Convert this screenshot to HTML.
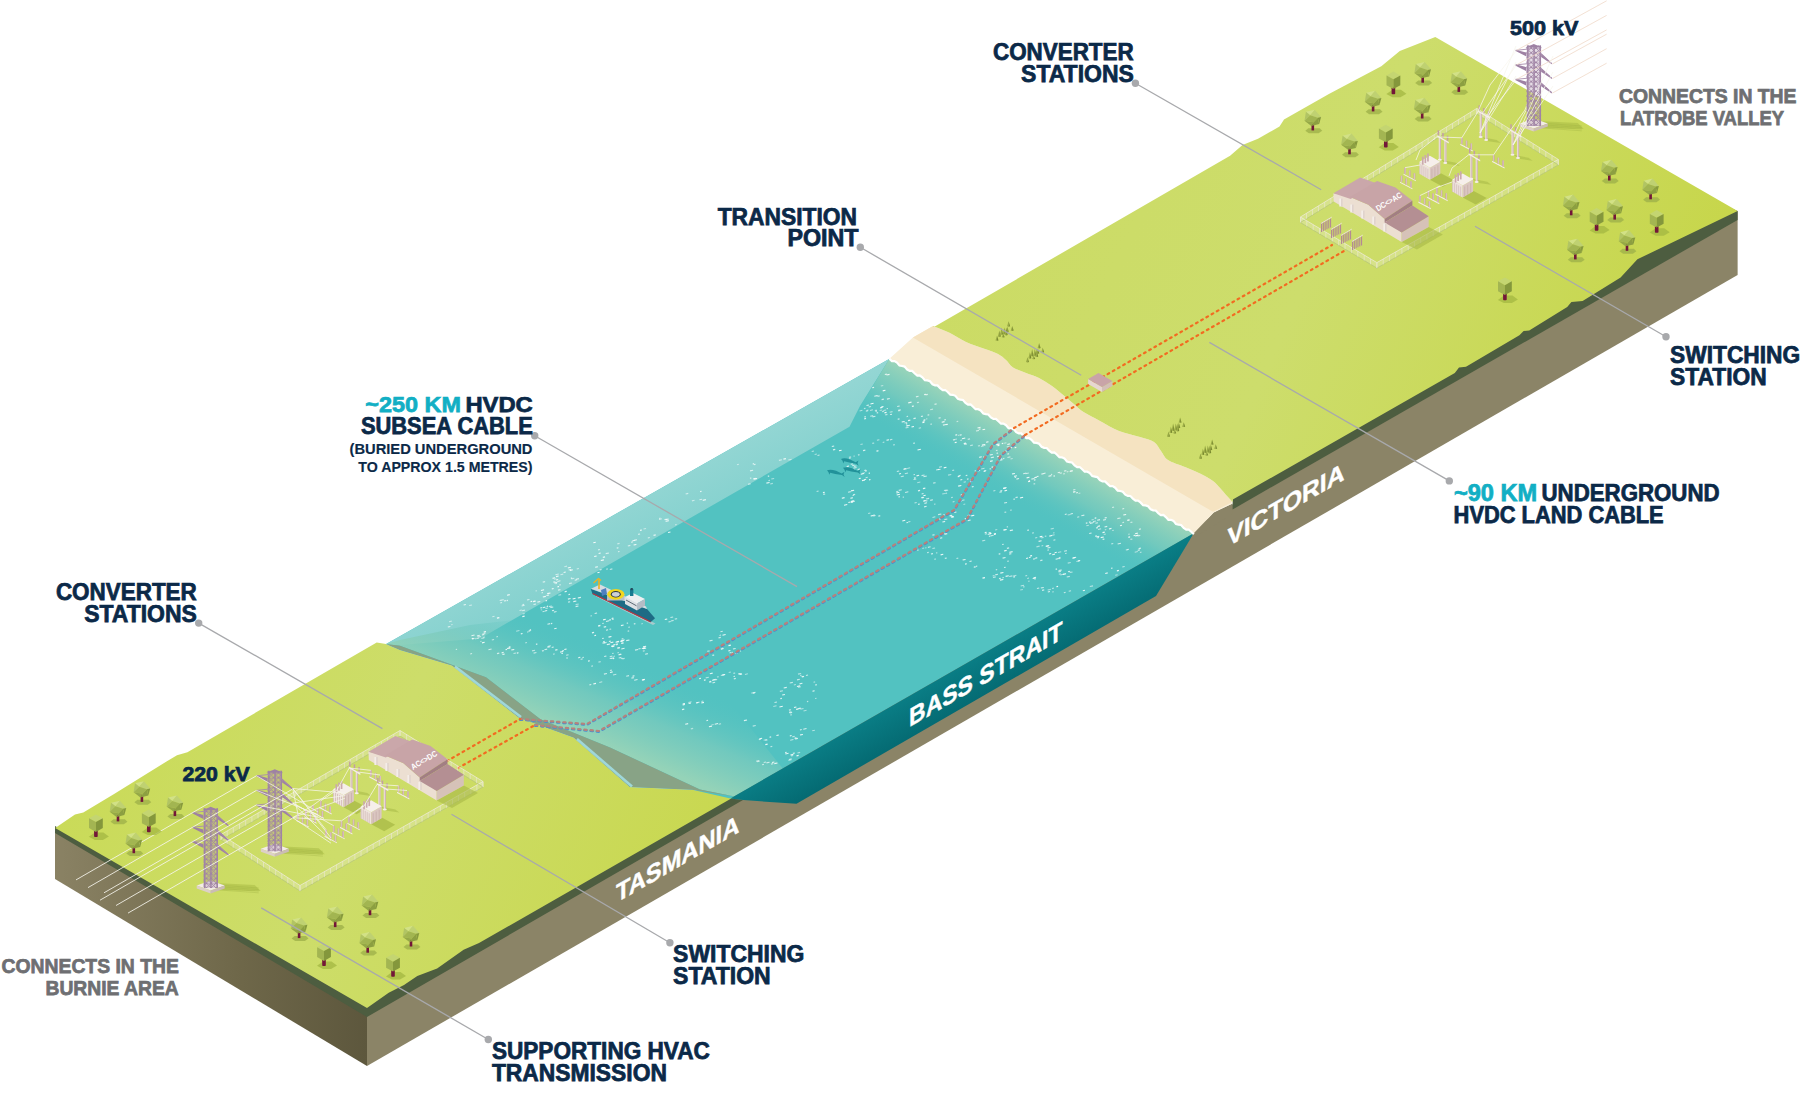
<!DOCTYPE html><html><head><meta charset="utf-8"><style>
html,body{margin:0;padding:0;background:#fff;width:1815px;height:1105px;overflow:hidden}
svg{display:block}
text{font-family:"Liberation Sans",sans-serif;font-weight:bold}
.lab text{paint-order:stroke}
</style></head><body>
<svg width="1815" height="1105" viewBox="0 0 1815 1105"><defs>
<linearGradient id="gLeft" x1="0" y1="0" x2="1" y2="0">
 <stop offset="0" stop-color="#8a8264"/><stop offset="0.6" stop-color="#6e6749"/><stop offset="1" stop-color="#5d573d"/></linearGradient>
<linearGradient id="gGrassT" gradientUnits="userSpaceOnUse" x1="60" y1="700" x2="700" y2="1000">
 <stop offset="0" stop-color="#c9da55"/><stop offset="0.45" stop-color="#cddd6a"/><stop offset="1" stop-color="#c8d74c"/></linearGradient>
<linearGradient id="gGrassV" gradientUnits="userSpaceOnUse" x1="950" y1="200" x2="1600" y2="500">
 <stop offset="0" stop-color="#cbdb64"/><stop offset="0.5" stop-color="#cddd6c"/><stop offset="1" stop-color="#c7d64b"/></linearGradient>
<linearGradient id="gTeal" gradientUnits="userSpaceOnUse" x1="960" y1="665" x2="982" y2="704">
 <stop offset="0" stop-color="#0a7e86"/><stop offset="1" stop-color="#046870"/></linearGradient>
<linearGradient id="gShoreV" gradientUnits="userSpaceOnUse" x1="1041.6" y1="446" x2="1010" y2="501">
 <stop offset="0" stop-color="#9ad4b9"/><stop offset="0.45" stop-color="#80ccbc" stop-opacity="0.7"/><stop offset="1" stop-color="#52c2c1" stop-opacity="0"/></linearGradient>
<linearGradient id="gShoreT" gradientUnits="userSpaceOnUse" x1="565" y1="728" x2="600" y2="645">
 <stop offset="0" stop-color="#95d3b8"/><stop offset="0.45" stop-color="#7ccbbd" stop-opacity="0.75"/><stop offset="1" stop-color="#52c2c1" stop-opacity="0"/></linearGradient>
<linearGradient id="gBack" gradientUnits="userSpaceOnUse" x1="600" y1="480" x2="660" y2="600">
 <stop offset="0" stop-color="#a6dcd9"/><stop offset="1" stop-color="#7fcfcc"/></linearGradient>
<pattern id="lattice" width="4.8" height="4.8" patternUnits="userSpaceOnUse">
 <path d="M0,0 L4.8,4.8 M4.8,0 L0,4.8 M0,0 H4.8" stroke="#9b7ea0" stroke-width="0.9" fill="none"/></pattern>
</defs><polygon points="55.0,828.0 367.0,1008.0 367.0,1066.0 55.0,879.0" fill="url(#gLeft)" />
<polygon points="367.0,1008.0 1737.6,211.0 1737.6,275.0 367.0,1066.0" fill="#8b8467" />
<polygon points="55.0,826.0 367.0,1000.0 730.4,785.0 730.4,798.4 743.0,800.1 367.0,1016.9 55.0,833.0" fill="#4d5d40" />
<polygon points="55.2,828.1 75.0,814.6 83.3,812.5 114.5,793.8 166.5,761.5 177.0,755.3 187.4,752.2 376.7,642.5 386.0,644.0 400.0,649.9 452.0,665.6 519.0,717.7 573.6,737.5 629.8,787.1 692.3,789.7 734.7,796.5 734.7,796.5 479.0,943.1 463.6,949.7 437.1,968.4 417.3,976.1 404.0,985.0 388.7,992.7 367.0,1008.0" fill="url(#gGrassT)" />
<polygon points="386.0,644.0 889.4,358.8 1193.8,533.3 730.4,798.4 692.3,789.7 629.8,787.1 573.6,737.5 519.0,717.7 452.0,665.6 400.0,649.9" fill="#52c2c1" />
<clipPath id="cw"><polygon points="386.0,644.0 889.4,358.8 1193.8,533.3 730.4,798.4 692.3,789.7 629.8,787.1 573.6,737.5 519.0,717.7 452.0,665.6 400.0,649.9"/></clipPath>
<g clip-path="url(#cw)">
<polygon points="386.0,644.0 889.4,358.8 860.0,406.0 849.5,426.7 480.3,638.4 400.0,645.0" fill="url(#gBack)" opacity="0.85"/>
<polygon points="889.4,358.8 1193.8,533.3 1150.0,610.0 840.0,440.0" fill="url(#gShoreV)" />
<polygon points="386.0,644.0 400.0,645.8 486.0,677.2 540.5,719.3 610.0,747.4 700.0,789.6 734.7,796.5 800.0,790.0 720.0,690.0 560.0,615.0 470.0,625.0 400.0,640.0" fill="url(#gShoreT)" />
</g>
<polygon points="386.0,644.0 400.0,645.8 486.0,677.2 540.5,719.3 610.0,747.4 700.0,789.6 734.7,796.5 734.7,796.5 692.3,789.7 629.8,787.1 573.6,737.5 519.0,717.7 452.0,665.6 400.0,649.9 386.0,644.0" fill="#88a386" />
<polyline points="455.0,666.5 521.0,717.0" stroke="#9fd7d9" stroke-width="2.6" fill="none"/>
<polyline points="577.0,739.0 632.0,786.5" stroke="#9fd7d9" stroke-width="2.6" fill="none"/>
<g clip-path="url(#cw)">
<rect x="1088.6" y="624.6" width="2.2" height="1.1" fill="#ffffff" opacity="0.79" transform="rotate(-12 1088.6 624.6)"/><rect x="1089.3" y="620.6" width="1.4" height="1.1" fill="#ffffff" opacity="0.88" transform="rotate(-12 1089.3 620.6)"/><rect x="1002.5" y="557.6" width="3.0" height="1.1" fill="#ffffff" opacity="0.77" transform="rotate(-12 1002.5 557.6)"/><rect x="1007.3" y="560.8" width="1.3" height="1.1" fill="#ffffff" opacity="0.79" transform="rotate(-12 1007.3 560.8)"/><rect x="1132.4" y="646.8" width="2.4" height="1.1" fill="#ffffff" opacity="0.84" transform="rotate(-12 1132.4 646.8)"/><rect x="1130.4" y="646.4" width="2.0" height="1.1" fill="#ffffff" opacity="0.80" transform="rotate(-12 1130.4 646.4)"/><rect x="1125.4" y="641.5" width="3.2" height="1.1" fill="#ffffff" opacity="0.69" transform="rotate(-12 1125.4 641.5)"/><rect x="851.8" y="501.4" width="3.1" height="1.1" fill="#ffffff" opacity="0.55" transform="rotate(-12 851.8 501.4)"/><rect x="841.7" y="497.7" width="2.8" height="1.1" fill="#ffffff" opacity="0.92" transform="rotate(-12 841.7 497.7)"/><rect x="1000.2" y="572.6" width="3.2" height="1.1" fill="#ffffff" opacity="0.88" transform="rotate(-12 1000.2 572.6)"/><rect x="995.7" y="569.3" width="1.4" height="1.1" fill="#ffffff" opacity="0.61" transform="rotate(-12 995.7 569.3)"/><rect x="1003.9" y="567.0" width="1.7" height="1.1" fill="#ffffff" opacity="0.75" transform="rotate(-12 1003.9 567.0)"/><rect x="933.9" y="503.7" width="1.5" height="1.1" fill="#ffffff" opacity="0.57" transform="rotate(-12 933.9 503.7)"/><rect x="930.1" y="499.8" width="2.8" height="1.1" fill="#ffffff" opacity="0.71" transform="rotate(-12 930.1 499.8)"/><rect x="924.0" y="506.3" width="2.6" height="1.1" fill="#ffffff" opacity="0.76" transform="rotate(-12 924.0 506.3)"/><rect x="925.7" y="500.6" width="1.8" height="1.1" fill="#ffffff" opacity="0.51" transform="rotate(-12 925.7 500.6)"/><rect x="1064.6" y="622.0" width="3.3" height="1.1" fill="#ffffff" opacity="0.76" transform="rotate(-12 1064.6 622.0)"/><rect x="1060.1" y="619.6" width="2.5" height="1.1" fill="#ffffff" opacity="0.93" transform="rotate(-12 1060.1 619.6)"/><rect x="1072.7" y="619.2" width="3.0" height="1.1" fill="#ffffff" opacity="0.90" transform="rotate(-12 1072.7 619.2)"/><rect x="1063.4" y="614.5" width="2.4" height="1.1" fill="#ffffff" opacity="0.75" transform="rotate(-12 1063.4 614.5)"/><rect x="1062.4" y="619.4" width="3.1" height="1.1" fill="#ffffff" opacity="0.76" transform="rotate(-12 1062.4 619.4)"/><rect x="1065.8" y="621.9" width="2.3" height="1.1" fill="#ffffff" opacity="0.66" transform="rotate(-12 1065.8 621.9)"/><rect x="1046.5" y="545.6" width="2.6" height="1.1" fill="#ffffff" opacity="0.86" transform="rotate(-12 1046.5 545.6)"/><rect x="1041.4" y="545.4" width="1.7" height="1.1" fill="#ffffff" opacity="0.54" transform="rotate(-12 1041.4 545.4)"/><rect x="1036.3" y="546.3" width="3.3" height="1.1" fill="#ffffff" opacity="0.51" transform="rotate(-12 1036.3 546.3)"/><rect x="1047.3" y="547.5" width="3.1" height="1.1" fill="#ffffff" opacity="0.70" transform="rotate(-12 1047.3 547.5)"/><rect x="1045.6" y="545.8" width="1.9" height="1.1" fill="#ffffff" opacity="0.86" transform="rotate(-12 1045.6 545.8)"/><rect x="1047.2" y="549.7" width="1.7" height="1.1" fill="#ffffff" opacity="0.61" transform="rotate(-12 1047.2 549.7)"/><rect x="848.8" y="456.8" width="2.3" height="1.1" fill="#ffffff" opacity="0.51" transform="rotate(-12 848.8 456.8)"/><rect x="849.0" y="457.9" width="1.7" height="1.1" fill="#ffffff" opacity="0.55" transform="rotate(-12 849.0 457.9)"/><rect x="857.8" y="454.5" width="1.7" height="1.1" fill="#ffffff" opacity="0.77" transform="rotate(-12 857.8 454.5)"/><rect x="853.4" y="455.7" width="1.3" height="1.1" fill="#ffffff" opacity="0.57" transform="rotate(-12 853.4 455.7)"/><rect x="955.3" y="434.6" width="1.8" height="1.1" fill="#ffffff" opacity="0.94" transform="rotate(-12 955.3 434.6)"/><rect x="959.8" y="434.6" width="1.8" height="1.1" fill="#ffffff" opacity="0.79" transform="rotate(-12 959.8 434.6)"/><rect x="952.8" y="439.5" width="2.0" height="1.1" fill="#ffffff" opacity="0.78" transform="rotate(-12 952.8 439.5)"/><rect x="961.9" y="438.2" width="3.3" height="1.1" fill="#ffffff" opacity="0.89" transform="rotate(-12 961.9 438.2)"/><rect x="954.6" y="442.1" width="2.0" height="1.1" fill="#ffffff" opacity="0.92" transform="rotate(-12 954.6 442.1)"/><rect x="957.8" y="434.9" width="1.8" height="1.1" fill="#ffffff" opacity="0.50" transform="rotate(-12 957.8 434.9)"/><rect x="924.1" y="394.1" width="1.7" height="1.1" fill="#ffffff" opacity="0.89" transform="rotate(-12 924.1 394.1)"/><rect x="925.4" y="394.3" width="2.4" height="1.1" fill="#ffffff" opacity="0.67" transform="rotate(-12 925.4 394.3)"/><rect x="915.8" y="396.3" width="2.7" height="1.1" fill="#ffffff" opacity="0.69" transform="rotate(-12 915.8 396.3)"/><rect x="1119.9" y="525.2" width="2.0" height="1.1" fill="#ffffff" opacity="0.89" transform="rotate(-12 1119.9 525.2)"/><rect x="1122.3" y="522.1" width="1.7" height="1.1" fill="#ffffff" opacity="0.65" transform="rotate(-12 1122.3 522.1)"/><rect x="1130.3" y="522.0" width="2.0" height="1.1" fill="#ffffff" opacity="0.60" transform="rotate(-12 1130.3 522.0)"/><rect x="1117.2" y="518.1" width="3.3" height="1.1" fill="#ffffff" opacity="0.65" transform="rotate(-12 1117.2 518.1)"/><rect x="1127.2" y="519.8" width="2.3" height="1.1" fill="#ffffff" opacity="0.94" transform="rotate(-12 1127.2 519.8)"/><rect x="1068.6" y="590.7" width="2.4" height="1.1" fill="#ffffff" opacity="0.62" transform="rotate(-12 1068.6 590.7)"/><rect x="1063.7" y="592.2" width="1.8" height="1.1" fill="#ffffff" opacity="0.65" transform="rotate(-12 1063.7 592.2)"/><rect x="1138.5" y="548.1" width="2.3" height="1.1" fill="#ffffff" opacity="0.76" transform="rotate(-12 1138.5 548.1)"/><rect x="1137.6" y="549.8" width="2.2" height="1.1" fill="#ffffff" opacity="0.67" transform="rotate(-12 1137.6 549.8)"/><rect x="1139.8" y="551.9" width="1.6" height="1.1" fill="#ffffff" opacity="0.55" transform="rotate(-12 1139.8 551.9)"/><rect x="1127.3" y="549.0" width="1.5" height="1.1" fill="#ffffff" opacity="0.75" transform="rotate(-12 1127.3 549.0)"/><rect x="1125.7" y="549.5" width="2.1" height="1.1" fill="#ffffff" opacity="0.63" transform="rotate(-12 1125.7 549.5)"/><rect x="1134.6" y="551.7" width="3.2" height="1.1" fill="#ffffff" opacity="0.55" transform="rotate(-12 1134.6 551.7)"/><rect x="1152.6" y="570.2" width="1.5" height="1.1" fill="#ffffff" opacity="0.90" transform="rotate(-12 1152.6 570.2)"/><rect x="1157.2" y="571.6" width="3.4" height="1.1" fill="#ffffff" opacity="0.69" transform="rotate(-12 1157.2 571.6)"/><rect x="1155.9" y="572.1" width="1.8" height="1.1" fill="#ffffff" opacity="0.83" transform="rotate(-12 1155.9 572.1)"/><rect x="1162.4" y="574.4" width="2.1" height="1.1" fill="#ffffff" opacity="0.94" transform="rotate(-12 1162.4 574.4)"/><rect x="1157.1" y="570.0" width="1.8" height="1.1" fill="#ffffff" opacity="0.71" transform="rotate(-12 1157.1 570.0)"/><rect x="1159.5" y="573.3" width="1.4" height="1.1" fill="#ffffff" opacity="0.50" transform="rotate(-12 1159.5 573.3)"/><rect x="866.3" y="409.9" width="2.1" height="1.1" fill="#ffffff" opacity="0.53" transform="rotate(-12 866.3 409.9)"/><rect x="865.7" y="410.7" width="2.3" height="1.1" fill="#ffffff" opacity="0.61" transform="rotate(-12 865.7 410.7)"/><rect x="870.3" y="403.4" width="3.2" height="1.1" fill="#ffffff" opacity="0.89" transform="rotate(-12 870.3 403.4)"/><rect x="863.8" y="408.1" width="1.7" height="1.1" fill="#ffffff" opacity="0.59" transform="rotate(-12 863.8 408.1)"/><rect x="869.9" y="409.9" width="3.0" height="1.1" fill="#ffffff" opacity="0.54" transform="rotate(-12 869.9 409.9)"/><rect x="868.5" y="406.5" width="2.5" height="1.1" fill="#ffffff" opacity="0.65" transform="rotate(-12 868.5 406.5)"/><rect x="1050.2" y="621.7" width="3.1" height="1.1" fill="#ffffff" opacity="0.90" transform="rotate(-12 1050.2 621.7)"/><rect x="1050.8" y="621.9" width="2.4" height="1.1" fill="#ffffff" opacity="0.76" transform="rotate(-12 1050.8 621.9)"/><rect x="991.4" y="466.7" width="1.9" height="1.1" fill="#ffffff" opacity="0.89" transform="rotate(-12 991.4 466.7)"/><rect x="989.5" y="468.5" width="1.3" height="1.1" fill="#ffffff" opacity="0.84" transform="rotate(-12 989.5 468.5)"/><rect x="1053.3" y="539.7" width="2.0" height="1.1" fill="#ffffff" opacity="0.73" transform="rotate(-12 1053.3 539.7)"/><rect x="1044.7" y="535.8" width="1.6" height="1.1" fill="#ffffff" opacity="0.56" transform="rotate(-12 1044.7 535.8)"/><rect x="1049.2" y="535.6" width="2.8" height="1.1" fill="#ffffff" opacity="0.88" transform="rotate(-12 1049.2 535.6)"/><rect x="1002.9" y="458.1" width="1.4" height="1.1" fill="#ffffff" opacity="0.64" transform="rotate(-12 1002.9 458.1)"/><rect x="1003.4" y="451.2" width="3.2" height="1.1" fill="#ffffff" opacity="0.88" transform="rotate(-12 1003.4 451.2)"/><rect x="995.8" y="450.0" width="1.7" height="1.1" fill="#ffffff" opacity="0.69" transform="rotate(-12 995.8 450.0)"/><rect x="1090.7" y="602.7" width="3.3" height="1.1" fill="#ffffff" opacity="0.86" transform="rotate(-12 1090.7 602.7)"/><rect x="1084.8" y="600.8" width="3.1" height="1.1" fill="#ffffff" opacity="0.70" transform="rotate(-12 1084.8 600.8)"/><rect x="1087.1" y="603.1" width="1.8" height="1.1" fill="#ffffff" opacity="0.51" transform="rotate(-12 1087.1 603.1)"/><rect x="970.1" y="481.2" width="2.5" height="1.1" fill="#ffffff" opacity="0.77" transform="rotate(-12 970.1 481.2)"/><rect x="971.7" y="486.3" width="1.9" height="1.1" fill="#ffffff" opacity="0.75" transform="rotate(-12 971.7 486.3)"/><rect x="963.5" y="481.7" width="2.3" height="1.1" fill="#ffffff" opacity="0.58" transform="rotate(-12 963.5 481.7)"/><rect x="958.1" y="485.6" width="3.2" height="1.1" fill="#ffffff" opacity="0.92" transform="rotate(-12 958.1 485.6)"/><rect x="960.2" y="479.4" width="2.0" height="1.1" fill="#ffffff" opacity="0.81" transform="rotate(-12 960.2 479.4)"/><rect x="970.1" y="479.7" width="2.0" height="1.1" fill="#ffffff" opacity="0.78" transform="rotate(-12 970.1 479.7)"/><rect x="923.2" y="495.2" width="2.4" height="1.1" fill="#ffffff" opacity="0.89" transform="rotate(-12 923.2 495.2)"/><rect x="925.9" y="498.5" width="3.2" height="1.1" fill="#ffffff" opacity="0.64" transform="rotate(-12 925.9 498.5)"/><rect x="917.9" y="490.3" width="2.1" height="1.1" fill="#ffffff" opacity="0.82" transform="rotate(-12 917.9 490.3)"/><rect x="933.0" y="482.6" width="2.5" height="1.1" fill="#ffffff" opacity="0.58" transform="rotate(-12 933.0 482.6)"/><rect x="922.8" y="488.1" width="2.5" height="1.1" fill="#ffffff" opacity="0.84" transform="rotate(-12 922.8 488.1)"/><rect x="1118.0" y="619.4" width="2.4" height="1.1" fill="#ffffff" opacity="0.95" transform="rotate(-12 1118.0 619.4)"/><rect x="1123.0" y="616.1" width="1.8" height="1.1" fill="#ffffff" opacity="0.55" transform="rotate(-12 1123.0 616.1)"/><rect x="1125.0" y="615.2" width="3.3" height="1.1" fill="#ffffff" opacity="0.94" transform="rotate(-12 1125.0 615.2)"/><rect x="1115.5" y="611.8" width="2.7" height="1.1" fill="#ffffff" opacity="0.54" transform="rotate(-12 1115.5 611.8)"/><rect x="922.3" y="422.1" width="2.1" height="1.1" fill="#ffffff" opacity="0.91" transform="rotate(-12 922.3 422.1)"/><rect x="905.8" y="425.4" width="2.3" height="1.1" fill="#ffffff" opacity="0.60" transform="rotate(-12 905.8 425.4)"/><rect x="906.6" y="425.4" width="3.2" height="1.1" fill="#ffffff" opacity="0.80" transform="rotate(-12 906.6 425.4)"/><rect x="911.4" y="426.5" width="2.5" height="1.1" fill="#ffffff" opacity="0.93" transform="rotate(-12 911.4 426.5)"/><rect x="905.8" y="423.5" width="1.4" height="1.1" fill="#ffffff" opacity="0.94" transform="rotate(-12 905.8 423.5)"/><rect x="1094.9" y="535.7" width="1.9" height="1.1" fill="#ffffff" opacity="0.76" transform="rotate(-12 1094.9 535.7)"/><rect x="1096.2" y="536.4" width="3.0" height="1.1" fill="#ffffff" opacity="0.86" transform="rotate(-12 1096.2 536.4)"/><rect x="1102.4" y="532.1" width="2.3" height="1.1" fill="#ffffff" opacity="0.89" transform="rotate(-12 1102.4 532.1)"/><rect x="917.1" y="482.2" width="3.2" height="1.1" fill="#ffffff" opacity="0.51" transform="rotate(-12 917.1 482.2)"/><rect x="913.8" y="477.6" width="1.9" height="1.1" fill="#ffffff" opacity="0.80" transform="rotate(-12 913.8 477.6)"/><rect x="913.4" y="474.2" width="1.5" height="1.1" fill="#ffffff" opacity="0.67" transform="rotate(-12 913.4 474.2)"/><rect x="916.4" y="475.3" width="2.7" height="1.1" fill="#ffffff" opacity="0.84" transform="rotate(-12 916.4 475.3)"/><rect x="913.4" y="479.0" width="2.8" height="1.1" fill="#ffffff" opacity="0.66" transform="rotate(-12 913.4 479.0)"/><rect x="993.2" y="490.4" width="2.1" height="1.1" fill="#ffffff" opacity="0.59" transform="rotate(-12 993.2 490.4)"/><rect x="1004.4" y="490.3" width="2.6" height="1.1" fill="#ffffff" opacity="0.90" transform="rotate(-12 1004.4 490.3)"/><rect x="1003.2" y="487.6" width="3.4" height="1.1" fill="#ffffff" opacity="0.71" transform="rotate(-12 1003.2 487.6)"/><rect x="1003.0" y="488.0" width="2.9" height="1.1" fill="#ffffff" opacity="0.94" transform="rotate(-12 1003.0 488.0)"/><rect x="999.3" y="491.7" width="2.6" height="1.1" fill="#ffffff" opacity="0.74" transform="rotate(-12 999.3 491.7)"/><rect x="1000.1" y="490.4" width="2.1" height="1.1" fill="#ffffff" opacity="0.69" transform="rotate(-12 1000.1 490.4)"/><rect x="1013.0" y="575.5" width="3.3" height="1.1" fill="#ffffff" opacity="0.53" transform="rotate(-12 1013.0 575.5)"/><rect x="1009.1" y="576.0" width="3.3" height="1.1" fill="#ffffff" opacity="0.63" transform="rotate(-12 1009.1 576.0)"/><rect x="1013.3" y="576.6" width="1.6" height="1.1" fill="#ffffff" opacity="0.85" transform="rotate(-12 1013.3 576.6)"/><rect x="1002.2" y="577.3" width="1.7" height="1.1" fill="#ffffff" opacity="0.53" transform="rotate(-12 1002.2 577.3)"/><rect x="1005.5" y="575.8" width="3.2" height="1.1" fill="#ffffff" opacity="0.86" transform="rotate(-12 1005.5 575.8)"/><rect x="998.9" y="578.1" width="1.9" height="1.1" fill="#ffffff" opacity="0.71" transform="rotate(-12 998.9 578.1)"/><rect x="1103.0" y="519.6" width="2.9" height="1.1" fill="#ffffff" opacity="0.69" transform="rotate(-12 1103.0 519.6)"/><rect x="1092.8" y="521.6" width="1.3" height="1.1" fill="#ffffff" opacity="0.73" transform="rotate(-12 1092.8 521.6)"/><rect x="1104.5" y="517.5" width="2.1" height="1.1" fill="#ffffff" opacity="0.81" transform="rotate(-12 1104.5 517.5)"/><rect x="1094.5" y="517.7" width="1.7" height="1.1" fill="#ffffff" opacity="0.90" transform="rotate(-12 1094.5 517.7)"/><rect x="1097.0" y="519.7" width="3.0" height="1.1" fill="#ffffff" opacity="0.74" transform="rotate(-12 1097.0 519.7)"/><rect x="1093.2" y="521.0" width="2.8" height="1.1" fill="#ffffff" opacity="0.58" transform="rotate(-12 1093.2 521.0)"/><rect x="939.2" y="518.6" width="1.8" height="1.1" fill="#ffffff" opacity="0.75" transform="rotate(-12 939.2 518.6)"/><rect x="944.2" y="519.1" width="3.1" height="1.1" fill="#ffffff" opacity="0.65" transform="rotate(-12 944.2 519.1)"/><rect x="942.3" y="521.5" width="2.8" height="1.1" fill="#ffffff" opacity="0.88" transform="rotate(-12 942.3 521.5)"/><rect x="950.6" y="516.2" width="2.6" height="1.1" fill="#ffffff" opacity="0.64" transform="rotate(-12 950.6 516.2)"/><rect x="932.4" y="516.9" width="2.9" height="1.1" fill="#ffffff" opacity="0.59" transform="rotate(-12 932.4 516.9)"/><rect x="938.0" y="514.1" width="3.3" height="1.1" fill="#ffffff" opacity="0.70" transform="rotate(-12 938.0 514.1)"/><rect x="865.1" y="470.6" width="1.6" height="1.1" fill="#ffffff" opacity="0.85" transform="rotate(-12 865.1 470.6)"/><rect x="864.1" y="469.9" width="2.0" height="1.1" fill="#ffffff" opacity="0.68" transform="rotate(-12 864.1 469.9)"/><rect x="862.4" y="472.7" width="2.7" height="1.1" fill="#ffffff" opacity="0.53" transform="rotate(-12 862.4 472.7)"/><rect x="860.5" y="473.7" width="3.3" height="1.1" fill="#ffffff" opacity="0.93" transform="rotate(-12 860.5 473.7)"/><rect x="868.6" y="472.8" width="1.3" height="1.1" fill="#ffffff" opacity="0.84" transform="rotate(-12 868.6 472.8)"/><rect x="857.5" y="468.9" width="2.4" height="1.1" fill="#ffffff" opacity="0.83" transform="rotate(-12 857.5 468.9)"/><rect x="893.1" y="444.4" width="1.5" height="1.1" fill="#ffffff" opacity="0.68" transform="rotate(-12 893.1 444.4)"/><rect x="882.6" y="441.9" width="1.7" height="1.1" fill="#ffffff" opacity="0.60" transform="rotate(-12 882.6 441.9)"/><rect x="889.8" y="439.3" width="2.5" height="1.1" fill="#ffffff" opacity="0.60" transform="rotate(-12 889.8 439.3)"/><rect x="886.4" y="439.7" width="2.5" height="1.1" fill="#ffffff" opacity="0.91" transform="rotate(-12 886.4 439.7)"/><rect x="884.7" y="374.0" width="2.1" height="1.1" fill="#ffffff" opacity="0.76" transform="rotate(-12 884.7 374.0)"/><rect x="886.4" y="374.5" width="3.1" height="1.1" fill="#ffffff" opacity="0.84" transform="rotate(-12 886.4 374.5)"/><rect x="1071.0" y="629.9" width="2.4" height="1.1" fill="#ffffff" opacity="0.75" transform="rotate(-12 1071.0 629.9)"/><rect x="1078.7" y="627.5" width="2.7" height="1.1" fill="#ffffff" opacity="0.64" transform="rotate(-12 1078.7 627.5)"/><rect x="1147.4" y="604.9" width="1.9" height="1.1" fill="#ffffff" opacity="0.55" transform="rotate(-12 1147.4 604.9)"/><rect x="1147.6" y="605.8" width="2.6" height="1.1" fill="#ffffff" opacity="0.84" transform="rotate(-12 1147.6 605.8)"/><rect x="1142.8" y="601.0" width="2.7" height="1.1" fill="#ffffff" opacity="0.68" transform="rotate(-12 1142.8 601.0)"/><rect x="1137.6" y="600.6" width="2.6" height="1.1" fill="#ffffff" opacity="0.61" transform="rotate(-12 1137.6 600.6)"/><rect x="1157.5" y="607.6" width="2.5" height="1.1" fill="#ffffff" opacity="0.66" transform="rotate(-12 1157.5 607.6)"/><rect x="1141.5" y="603.5" width="2.4" height="1.1" fill="#ffffff" opacity="0.53" transform="rotate(-12 1141.5 603.5)"/><rect x="1050.5" y="528.5" width="3.2" height="1.1" fill="#ffffff" opacity="0.53" transform="rotate(-12 1050.5 528.5)"/><rect x="1051.3" y="534.9" width="3.3" height="1.1" fill="#ffffff" opacity="0.53" transform="rotate(-12 1051.3 534.9)"/><rect x="1053.0" y="532.5" width="1.4" height="1.1" fill="#ffffff" opacity="0.59" transform="rotate(-12 1053.0 532.5)"/><rect x="1059.5" y="472.8" width="2.4" height="1.1" fill="#ffffff" opacity="0.54" transform="rotate(-12 1059.5 472.8)"/><rect x="1053.4" y="475.6" width="1.4" height="1.1" fill="#ffffff" opacity="0.80" transform="rotate(-12 1053.4 475.6)"/><rect x="868.9" y="479.3" width="1.5" height="1.1" fill="#ffffff" opacity="0.86" transform="rotate(-12 868.9 479.3)"/><rect x="864.0" y="479.2" width="2.1" height="1.1" fill="#ffffff" opacity="0.83" transform="rotate(-12 864.0 479.2)"/><rect x="861.9" y="480.1" width="3.0" height="1.1" fill="#ffffff" opacity="0.86" transform="rotate(-12 861.9 480.1)"/><rect x="865.5" y="477.2" width="2.2" height="1.1" fill="#ffffff" opacity="0.61" transform="rotate(-12 865.5 477.2)"/><rect x="858.7" y="478.1" width="2.0" height="1.1" fill="#ffffff" opacity="0.85" transform="rotate(-12 858.7 478.1)"/><rect x="862.9" y="450.1" width="2.4" height="1.1" fill="#ffffff" opacity="0.75" transform="rotate(-12 862.9 450.1)"/><rect x="860.3" y="444.0" width="2.4" height="1.1" fill="#ffffff" opacity="0.51" transform="rotate(-12 860.3 444.0)"/><rect x="823.1" y="493.8" width="2.0" height="1.1" fill="#ffffff" opacity="0.68" transform="rotate(-12 823.1 493.8)"/><rect x="822.8" y="492.1" width="1.9" height="1.1" fill="#ffffff" opacity="0.86" transform="rotate(-12 822.8 492.1)"/><rect x="816.5" y="490.9" width="2.0" height="1.1" fill="#ffffff" opacity="0.62" transform="rotate(-12 816.5 490.9)"/><rect x="921.4" y="475.1" width="3.2" height="1.1" fill="#ffffff" opacity="0.65" transform="rotate(-12 921.4 475.1)"/><rect x="923.3" y="476.2" width="3.4" height="1.1" fill="#ffffff" opacity="0.72" transform="rotate(-12 923.3 476.2)"/><rect x="850.9" y="490.3" width="3.2" height="1.1" fill="#ffffff" opacity="0.86" transform="rotate(-12 850.9 490.3)"/><rect x="850.3" y="497.7" width="2.5" height="1.1" fill="#ffffff" opacity="0.95" transform="rotate(-12 850.3 497.7)"/><rect x="847.9" y="491.7" width="2.9" height="1.1" fill="#ffffff" opacity="0.66" transform="rotate(-12 847.9 491.7)"/><rect x="853.0" y="494.2" width="2.1" height="1.1" fill="#ffffff" opacity="0.71" transform="rotate(-12 853.0 494.2)"/><rect x="852.4" y="495.1" width="1.7" height="1.1" fill="#ffffff" opacity="0.57" transform="rotate(-12 852.4 495.1)"/><rect x="942.1" y="493.5" width="2.8" height="1.1" fill="#ffffff" opacity="0.52" transform="rotate(-12 942.1 493.5)"/><rect x="945.1" y="493.0" width="1.9" height="1.1" fill="#ffffff" opacity="0.55" transform="rotate(-12 945.1 493.0)"/><rect x="1058.6" y="569.9" width="3.0" height="1.1" fill="#ffffff" opacity="0.60" transform="rotate(-12 1058.6 569.9)"/><rect x="1067.9" y="571.2" width="2.2" height="1.1" fill="#ffffff" opacity="0.77" transform="rotate(-12 1067.9 571.2)"/><rect x="1069.5" y="572.0" width="3.0" height="1.1" fill="#ffffff" opacity="0.60" transform="rotate(-12 1069.5 572.0)"/><rect x="1066.6" y="576.5" width="3.2" height="1.1" fill="#ffffff" opacity="0.61" transform="rotate(-12 1066.6 576.5)"/><rect x="1060.2" y="574.4" width="3.2" height="1.1" fill="#ffffff" opacity="0.58" transform="rotate(-12 1060.2 574.4)"/><rect x="1062.9" y="573.8" width="3.1" height="1.1" fill="#ffffff" opacity="0.94" transform="rotate(-12 1062.9 573.8)"/><rect x="1064.0" y="470.6" width="2.3" height="1.1" fill="#ffffff" opacity="0.68" transform="rotate(-12 1064.0 470.6)"/><rect x="1069.9" y="470.6" width="2.5" height="1.1" fill="#ffffff" opacity="0.52" transform="rotate(-12 1069.9 470.6)"/><rect x="1066.6" y="471.4" width="1.7" height="1.1" fill="#ffffff" opacity="0.63" transform="rotate(-12 1066.6 471.4)"/><rect x="1063.1" y="473.4" width="1.6" height="1.1" fill="#ffffff" opacity="0.64" transform="rotate(-12 1063.1 473.4)"/><rect x="1069.6" y="470.9" width="3.3" height="1.1" fill="#ffffff" opacity="0.74" transform="rotate(-12 1069.6 470.9)"/><rect x="1057.6" y="472.2" width="2.4" height="1.1" fill="#ffffff" opacity="0.74" transform="rotate(-12 1057.6 472.2)"/><rect x="868.0" y="513.0" width="2.3" height="1.1" fill="#ffffff" opacity="0.56" transform="rotate(-12 868.0 513.0)"/><rect x="870.6" y="515.5" width="2.9" height="1.1" fill="#ffffff" opacity="0.94" transform="rotate(-12 870.6 515.5)"/><rect x="873.2" y="515.4" width="2.2" height="1.1" fill="#ffffff" opacity="0.80" transform="rotate(-12 873.2 515.4)"/><rect x="878.3" y="515.6" width="1.9" height="1.1" fill="#ffffff" opacity="0.80" transform="rotate(-12 878.3 515.6)"/><rect x="873.2" y="514.5" width="1.5" height="1.1" fill="#ffffff" opacity="0.54" transform="rotate(-12 873.2 514.5)"/><rect x="1169.3" y="572.7" width="2.9" height="1.1" fill="#ffffff" opacity="0.72" transform="rotate(-12 1169.3 572.7)"/><rect x="1165.1" y="577.4" width="1.5" height="1.1" fill="#ffffff" opacity="0.66" transform="rotate(-12 1165.1 577.4)"/><rect x="1167.1" y="575.3" width="1.7" height="1.1" fill="#ffffff" opacity="0.62" transform="rotate(-12 1167.1 575.3)"/><rect x="1172.1" y="572.5" width="1.9" height="1.1" fill="#ffffff" opacity="0.95" transform="rotate(-12 1172.1 572.5)"/><rect x="1072.1" y="557.7" width="2.9" height="1.1" fill="#ffffff" opacity="0.72" transform="rotate(-12 1072.1 557.7)"/><rect x="1072.8" y="557.4" width="3.3" height="1.1" fill="#ffffff" opacity="0.82" transform="rotate(-12 1072.8 557.4)"/><rect x="1076.3" y="560.9" width="3.3" height="1.1" fill="#ffffff" opacity="0.60" transform="rotate(-12 1076.3 560.9)"/><rect x="1077.8" y="560.5" width="2.3" height="1.1" fill="#ffffff" opacity="0.93" transform="rotate(-12 1077.8 560.5)"/><rect x="1067.6" y="562.6" width="3.1" height="1.1" fill="#ffffff" opacity="0.54" transform="rotate(-12 1067.6 562.6)"/><rect x="934.3" y="558.7" width="1.4" height="1.1" fill="#ffffff" opacity="0.79" transform="rotate(-12 934.3 558.7)"/><rect x="940.5" y="554.3" width="2.7" height="1.1" fill="#ffffff" opacity="0.88" transform="rotate(-12 940.5 554.3)"/><rect x="932.3" y="548.0" width="2.7" height="1.1" fill="#ffffff" opacity="0.58" transform="rotate(-12 932.3 548.0)"/><rect x="935.9" y="552.5" width="1.4" height="1.1" fill="#ffffff" opacity="0.60" transform="rotate(-12 935.9 552.5)"/><rect x="927.0" y="552.2" width="1.6" height="1.1" fill="#ffffff" opacity="0.70" transform="rotate(-12 927.0 552.2)"/><rect x="930.8" y="553.5" width="2.1" height="1.1" fill="#ffffff" opacity="0.77" transform="rotate(-12 930.8 553.5)"/><rect x="1034.5" y="477.0" width="2.4" height="1.1" fill="#ffffff" opacity="0.69" transform="rotate(-12 1034.5 477.0)"/><rect x="1043.6" y="472.9" width="1.9" height="1.1" fill="#ffffff" opacity="0.72" transform="rotate(-12 1043.6 472.9)"/><rect x="1036.7" y="476.0" width="1.8" height="1.1" fill="#ffffff" opacity="0.84" transform="rotate(-12 1036.7 476.0)"/><rect x="1028.7" y="480.4" width="1.3" height="1.1" fill="#ffffff" opacity="0.95" transform="rotate(-12 1028.7 480.4)"/><rect x="1025.5" y="473.2" width="3.3" height="1.1" fill="#ffffff" opacity="0.62" transform="rotate(-12 1025.5 473.2)"/><rect x="1026.5" y="477.3" width="2.9" height="1.1" fill="#ffffff" opacity="0.88" transform="rotate(-12 1026.5 477.3)"/><rect x="1097.2" y="537.4" width="1.7" height="1.1" fill="#ffffff" opacity="0.75" transform="rotate(-12 1097.2 537.4)"/><rect x="1089.1" y="533.0" width="2.4" height="1.1" fill="#ffffff" opacity="0.77" transform="rotate(-12 1089.1 533.0)"/><rect x="1102.5" y="538.8" width="1.9" height="1.1" fill="#ffffff" opacity="0.81" transform="rotate(-12 1102.5 538.8)"/><rect x="1088.8" y="521.7" width="1.7" height="1.1" fill="#ffffff" opacity="0.84" transform="rotate(-12 1088.8 521.7)"/><rect x="1091.4" y="519.5" width="2.2" height="1.1" fill="#ffffff" opacity="0.57" transform="rotate(-12 1091.4 519.5)"/><rect x="1085.7" y="522.7" width="1.6" height="1.1" fill="#ffffff" opacity="0.84" transform="rotate(-12 1085.7 522.7)"/><rect x="1095.3" y="522.7" width="2.6" height="1.1" fill="#ffffff" opacity="0.72" transform="rotate(-12 1095.3 522.7)"/><rect x="1092.0" y="632.8" width="3.0" height="1.1" fill="#ffffff" opacity="0.52" transform="rotate(-12 1092.0 632.8)"/><rect x="1092.1" y="630.4" width="2.5" height="1.1" fill="#ffffff" opacity="0.73" transform="rotate(-12 1092.1 630.4)"/><rect x="1088.6" y="627.5" width="2.0" height="1.1" fill="#ffffff" opacity="0.85" transform="rotate(-12 1088.6 627.5)"/><rect x="1094.9" y="625.1" width="1.8" height="1.1" fill="#ffffff" opacity="0.83" transform="rotate(-12 1094.9 625.1)"/><rect x="1058.7" y="573.7" width="2.1" height="1.1" fill="#ffffff" opacity="0.55" transform="rotate(-12 1058.7 573.7)"/><rect x="1058.2" y="570.7" width="3.2" height="1.1" fill="#ffffff" opacity="0.56" transform="rotate(-12 1058.2 570.7)"/><rect x="1055.5" y="568.7" width="1.5" height="1.1" fill="#ffffff" opacity="0.95" transform="rotate(-12 1055.5 568.7)"/><rect x="1058.4" y="571.5" width="2.4" height="1.1" fill="#ffffff" opacity="0.66" transform="rotate(-12 1058.4 571.5)"/><rect x="1107.0" y="639.4" width="1.8" height="1.1" fill="#ffffff" opacity="0.81" transform="rotate(-12 1107.0 639.4)"/><rect x="1099.6" y="643.9" width="2.0" height="1.1" fill="#ffffff" opacity="0.93" transform="rotate(-12 1099.6 643.9)"/><rect x="1095.0" y="644.5" width="2.6" height="1.1" fill="#ffffff" opacity="0.88" transform="rotate(-12 1095.0 644.5)"/><rect x="1092.5" y="637.8" width="2.2" height="1.1" fill="#ffffff" opacity="0.81" transform="rotate(-12 1092.5 637.8)"/><rect x="952.5" y="501.4" width="1.9" height="1.1" fill="#ffffff" opacity="0.60" transform="rotate(-12 952.5 501.4)"/><rect x="961.8" y="499.9" width="2.6" height="1.1" fill="#ffffff" opacity="0.55" transform="rotate(-12 961.8 499.9)"/><rect x="963.3" y="503.9" width="1.9" height="1.1" fill="#ffffff" opacity="0.51" transform="rotate(-12 963.3 503.9)"/><rect x="951.0" y="497.1" width="1.8" height="1.1" fill="#ffffff" opacity="0.56" transform="rotate(-12 951.0 497.1)"/><rect x="960.6" y="494.6" width="1.4" height="1.1" fill="#ffffff" opacity="0.94" transform="rotate(-12 960.6 494.6)"/><rect x="958.5" y="501.0" width="3.0" height="1.1" fill="#ffffff" opacity="0.73" transform="rotate(-12 958.5 501.0)"/><rect x="967.3" y="515.1" width="3.2" height="1.1" fill="#ffffff" opacity="0.56" transform="rotate(-12 967.3 515.1)"/><rect x="971.1" y="515.3" width="3.1" height="1.1" fill="#ffffff" opacity="0.88" transform="rotate(-12 971.1 515.3)"/><rect x="963.2" y="521.0" width="1.6" height="1.1" fill="#ffffff" opacity="0.88" transform="rotate(-12 963.2 521.0)"/><rect x="964.6" y="518.3" width="1.5" height="1.1" fill="#ffffff" opacity="0.77" transform="rotate(-12 964.6 518.3)"/><rect x="967.6" y="520.1" width="3.0" height="1.1" fill="#ffffff" opacity="0.77" transform="rotate(-12 967.6 520.1)"/><rect x="1115.3" y="658.5" width="3.2" height="1.1" fill="#ffffff" opacity="0.71" transform="rotate(-12 1115.3 658.5)"/><rect x="1121.2" y="653.0" width="2.2" height="1.1" fill="#ffffff" opacity="0.92" transform="rotate(-12 1121.2 653.0)"/><rect x="1114.3" y="658.2" width="1.4" height="1.1" fill="#ffffff" opacity="0.71" transform="rotate(-12 1114.3 658.2)"/><rect x="1131.7" y="617.1" width="2.5" height="1.1" fill="#ffffff" opacity="0.74" transform="rotate(-12 1131.7 617.1)"/><rect x="1128.6" y="618.3" width="2.9" height="1.1" fill="#ffffff" opacity="0.76" transform="rotate(-12 1128.6 618.3)"/><rect x="870.1" y="415.7" width="3.0" height="1.1" fill="#ffffff" opacity="0.61" transform="rotate(-12 870.1 415.7)"/><rect x="864.2" y="416.5" width="1.6" height="1.1" fill="#ffffff" opacity="0.85" transform="rotate(-12 864.2 416.5)"/><rect x="872.3" y="416.3" width="3.1" height="1.1" fill="#ffffff" opacity="0.66" transform="rotate(-12 872.3 416.3)"/><rect x="859.5" y="410.4" width="2.9" height="1.1" fill="#ffffff" opacity="0.53" transform="rotate(-12 859.5 410.4)"/><rect x="864.1" y="418.3" width="1.9" height="1.1" fill="#ffffff" opacity="0.87" transform="rotate(-12 864.1 418.3)"/><rect x="1003.9" y="550.4" width="2.7" height="1.1" fill="#ffffff" opacity="0.90" transform="rotate(-12 1003.9 550.4)"/><rect x="1009.0" y="553.6" width="2.3" height="1.1" fill="#ffffff" opacity="0.65" transform="rotate(-12 1009.0 553.6)"/><rect x="1002.2" y="543.9" width="1.3" height="1.1" fill="#ffffff" opacity="0.90" transform="rotate(-12 1002.2 543.9)"/><rect x="998.6" y="553.6" width="1.7" height="1.1" fill="#ffffff" opacity="0.82" transform="rotate(-12 998.6 553.6)"/><rect x="1009.3" y="551.8" width="3.3" height="1.1" fill="#ffffff" opacity="0.80" transform="rotate(-12 1009.3 551.8)"/><rect x="1006.8" y="547.8" width="2.3" height="1.1" fill="#ffffff" opacity="0.72" transform="rotate(-12 1006.8 547.8)"/><rect x="898.3" y="496.4" width="1.6" height="1.1" fill="#ffffff" opacity="0.72" transform="rotate(-12 898.3 496.4)"/><rect x="902.6" y="496.7" width="1.3" height="1.1" fill="#ffffff" opacity="0.69" transform="rotate(-12 902.6 496.7)"/><rect x="905.0" y="491.9" width="3.3" height="1.1" fill="#ffffff" opacity="0.71" transform="rotate(-12 905.0 491.9)"/><rect x="1041.1" y="537.3" width="2.4" height="1.1" fill="#ffffff" opacity="0.55" transform="rotate(-12 1041.1 537.3)"/><rect x="1038.5" y="540.8" width="3.0" height="1.1" fill="#ffffff" opacity="0.82" transform="rotate(-12 1038.5 540.8)"/><rect x="1039.6" y="536.3" width="2.8" height="1.1" fill="#ffffff" opacity="0.95" transform="rotate(-12 1039.6 536.3)"/><rect x="1035.0" y="537.5" width="2.2" height="1.1" fill="#ffffff" opacity="0.57" transform="rotate(-12 1035.0 537.5)"/><rect x="1089.7" y="586.0" width="3.3" height="1.1" fill="#ffffff" opacity="0.58" transform="rotate(-12 1089.7 586.0)"/><rect x="1082.7" y="590.2" width="2.2" height="1.1" fill="#ffffff" opacity="0.86" transform="rotate(-12 1082.7 590.2)"/><rect x="850.6" y="463.8" width="2.4" height="1.1" fill="#ffffff" opacity="0.61" transform="rotate(-12 850.6 463.8)"/><rect x="853.7" y="465.9" width="2.7" height="1.1" fill="#ffffff" opacity="0.67" transform="rotate(-12 853.7 465.9)"/><rect x="846.6" y="465.9" width="2.3" height="1.1" fill="#ffffff" opacity="0.94" transform="rotate(-12 846.6 465.9)"/><rect x="853.3" y="467.6" width="3.3" height="1.1" fill="#ffffff" opacity="0.64" transform="rotate(-12 853.3 467.6)"/><rect x="852.3" y="469.7" width="2.5" height="1.1" fill="#ffffff" opacity="0.94" transform="rotate(-12 852.3 469.7)"/><rect x="852.1" y="465.1" width="2.4" height="1.1" fill="#ffffff" opacity="0.70" transform="rotate(-12 852.1 465.1)"/><rect x="1004.0" y="502.5" width="3.0" height="1.1" fill="#ffffff" opacity="0.72" transform="rotate(-12 1004.0 502.5)"/><rect x="1004.4" y="511.8" width="1.8" height="1.1" fill="#ffffff" opacity="0.63" transform="rotate(-12 1004.4 511.8)"/><rect x="1010.1" y="509.7" width="1.5" height="1.1" fill="#ffffff" opacity="0.66" transform="rotate(-12 1010.1 509.7)"/><rect x="885.1" y="414.3" width="2.3" height="1.1" fill="#ffffff" opacity="0.57" transform="rotate(-12 885.1 414.3)"/><rect x="890.1" y="414.0" width="1.7" height="1.1" fill="#ffffff" opacity="0.86" transform="rotate(-12 890.1 414.0)"/><rect x="884.3" y="412.3" width="2.2" height="1.1" fill="#ffffff" opacity="0.89" transform="rotate(-12 884.3 412.3)"/><rect x="881.9" y="411.2" width="2.1" height="1.1" fill="#ffffff" opacity="0.59" transform="rotate(-12 881.9 411.2)"/><rect x="997.2" y="444.3" width="2.2" height="1.1" fill="#ffffff" opacity="0.56" transform="rotate(-12 997.2 444.3)"/><rect x="986.0" y="441.7" width="2.4" height="1.1" fill="#ffffff" opacity="0.92" transform="rotate(-12 986.0 441.7)"/><rect x="911.8" y="405.8" width="2.0" height="1.1" fill="#ffffff" opacity="0.88" transform="rotate(-12 911.8 405.8)"/><rect x="920.8" y="416.0" width="2.0" height="1.1" fill="#ffffff" opacity="0.74" transform="rotate(-12 920.8 416.0)"/><rect x="927.5" y="414.6" width="1.7" height="1.1" fill="#ffffff" opacity="0.71" transform="rotate(-12 927.5 414.6)"/><rect x="1047.7" y="591.5" width="2.2" height="1.1" fill="#ffffff" opacity="0.78" transform="rotate(-12 1047.7 591.5)"/><rect x="1052.1" y="591.5" width="1.6" height="1.1" fill="#ffffff" opacity="0.56" transform="rotate(-12 1052.1 591.5)"/><rect x="1052.1" y="587.9" width="1.5" height="1.1" fill="#ffffff" opacity="0.70" transform="rotate(-12 1052.1 587.9)"/><rect x="1036.8" y="587.9" width="2.4" height="1.1" fill="#ffffff" opacity="0.68" transform="rotate(-12 1036.8 587.9)"/><rect x="1056.3" y="586.2" width="1.7" height="1.1" fill="#ffffff" opacity="0.93" transform="rotate(-12 1056.3 586.2)"/><rect x="1040.7" y="587.5" width="3.0" height="1.1" fill="#ffffff" opacity="0.76" transform="rotate(-12 1040.7 587.5)"/><rect x="924.3" y="502.8" width="2.7" height="1.1" fill="#ffffff" opacity="0.75" transform="rotate(-12 924.3 502.8)"/><rect x="918.0" y="503.8" width="1.7" height="1.1" fill="#ffffff" opacity="0.80" transform="rotate(-12 918.0 503.8)"/><rect x="914.4" y="502.5" width="2.2" height="1.1" fill="#ffffff" opacity="0.62" transform="rotate(-12 914.4 502.5)"/><rect x="966.8" y="478.7" width="1.6" height="1.1" fill="#ffffff" opacity="0.75" transform="rotate(-12 966.8 478.7)"/><rect x="957.6" y="476.2" width="1.8" height="1.1" fill="#ffffff" opacity="0.87" transform="rotate(-12 957.6 476.2)"/><rect x="948.0" y="474.6" width="3.2" height="1.1" fill="#ffffff" opacity="0.54" transform="rotate(-12 948.0 474.6)"/><rect x="958.4" y="475.3" width="2.2" height="1.1" fill="#ffffff" opacity="0.70" transform="rotate(-12 958.4 475.3)"/><rect x="965.6" y="475.1" width="1.7" height="1.1" fill="#ffffff" opacity="0.73" transform="rotate(-12 965.6 475.1)"/><rect x="1011.9" y="473.5" width="2.9" height="1.1" fill="#ffffff" opacity="0.94" transform="rotate(-12 1011.9 473.5)"/><rect x="1014.6" y="476.9" width="1.4" height="1.1" fill="#ffffff" opacity="0.77" transform="rotate(-12 1014.6 476.9)"/><rect x="1023.1" y="473.2" width="3.3" height="1.1" fill="#ffffff" opacity="0.71" transform="rotate(-12 1023.1 473.2)"/><rect x="1013.9" y="475.8" width="3.1" height="1.1" fill="#ffffff" opacity="0.75" transform="rotate(-12 1013.9 475.8)"/><rect x="1136.3" y="572.5" width="2.1" height="1.1" fill="#ffffff" opacity="0.91" transform="rotate(-12 1136.3 572.5)"/><rect x="1120.9" y="576.6" width="2.5" height="1.1" fill="#ffffff" opacity="0.91" transform="rotate(-12 1120.9 576.6)"/><rect x="1127.2" y="575.9" width="2.5" height="1.1" fill="#ffffff" opacity="0.64" transform="rotate(-12 1127.2 575.9)"/><rect x="1136.3" y="578.2" width="3.1" height="1.1" fill="#ffffff" opacity="0.62" transform="rotate(-12 1136.3 578.2)"/><rect x="1138.2" y="572.2" width="2.9" height="1.1" fill="#ffffff" opacity="0.69" transform="rotate(-12 1138.2 572.2)"/><rect x="1141.2" y="575.5" width="2.5" height="1.1" fill="#ffffff" opacity="0.55" transform="rotate(-12 1141.2 575.5)"/><rect x="1009.7" y="447.4" width="2.5" height="1.1" fill="#ffffff" opacity="0.79" transform="rotate(-12 1009.7 447.4)"/><rect x="1007.2" y="443.9" width="2.6" height="1.1" fill="#ffffff" opacity="0.88" transform="rotate(-12 1007.2 443.9)"/><rect x="1006.6" y="446.3" width="3.0" height="1.1" fill="#ffffff" opacity="0.50" transform="rotate(-12 1006.6 446.3)"/><rect x="1014.5" y="447.2" width="1.7" height="1.1" fill="#ffffff" opacity="0.90" transform="rotate(-12 1014.5 447.2)"/><rect x="1138.8" y="528.8" width="2.1" height="1.1" fill="#ffffff" opacity="0.65" transform="rotate(-12 1138.8 528.8)"/><rect x="1135.0" y="533.2" width="2.8" height="1.1" fill="#ffffff" opacity="0.85" transform="rotate(-12 1135.0 533.2)"/><rect x="1135.5" y="535.2" width="2.9" height="1.1" fill="#ffffff" opacity="0.68" transform="rotate(-12 1135.5 535.2)"/><rect x="1133.5" y="535.1" width="1.5" height="1.1" fill="#ffffff" opacity="0.82" transform="rotate(-12 1133.5 535.1)"/><rect x="850.7" y="500.9" width="2.8" height="1.1" fill="#ffffff" opacity="0.62" transform="rotate(-12 850.7 500.9)"/><rect x="848.2" y="501.9" width="2.3" height="1.1" fill="#ffffff" opacity="0.83" transform="rotate(-12 848.2 501.9)"/><rect x="843.9" y="504.7" width="3.3" height="1.1" fill="#ffffff" opacity="0.87" transform="rotate(-12 843.9 504.7)"/><rect x="851.0" y="500.9" width="3.2" height="1.1" fill="#ffffff" opacity="0.89" transform="rotate(-12 851.0 500.9)"/><rect x="850.8" y="501.9" width="2.1" height="1.1" fill="#ffffff" opacity="0.84" transform="rotate(-12 850.8 501.9)"/><rect x="1158.5" y="576.0" width="2.5" height="1.1" fill="#ffffff" opacity="0.80" transform="rotate(-12 1158.5 576.0)"/><rect x="1161.1" y="574.6" width="3.3" height="1.1" fill="#ffffff" opacity="0.59" transform="rotate(-12 1161.1 574.6)"/><rect x="1159.4" y="577.3" width="2.5" height="1.1" fill="#ffffff" opacity="0.56" transform="rotate(-12 1159.4 577.3)"/><rect x="1089.7" y="522.8" width="3.2" height="1.1" fill="#ffffff" opacity="0.78" transform="rotate(-12 1089.7 522.8)"/><rect x="1086.2" y="525.2" width="2.6" height="1.1" fill="#ffffff" opacity="0.51" transform="rotate(-12 1086.2 525.2)"/><rect x="1031.3" y="478.6" width="3.2" height="1.1" fill="#ffffff" opacity="0.74" transform="rotate(-12 1031.3 478.6)"/><rect x="1033.4" y="483.5" width="1.7" height="1.1" fill="#ffffff" opacity="0.70" transform="rotate(-12 1033.4 483.5)"/><rect x="1028.0" y="481.1" width="2.0" height="1.1" fill="#ffffff" opacity="0.93" transform="rotate(-12 1028.0 481.1)"/><rect x="1033.8" y="479.6" width="1.7" height="1.1" fill="#ffffff" opacity="0.78" transform="rotate(-12 1033.8 479.6)"/><rect x="1034.1" y="477.2" width="2.6" height="1.1" fill="#ffffff" opacity="0.66" transform="rotate(-12 1034.1 477.2)"/><rect x="1016.3" y="478.6" width="2.7" height="1.1" fill="#ffffff" opacity="0.76" transform="rotate(-12 1016.3 478.6)"/><rect x="940.0" y="537.7" width="2.2" height="1.1" fill="#ffffff" opacity="0.82" transform="rotate(-12 940.0 537.7)"/><rect x="945.2" y="531.0" width="3.0" height="1.1" fill="#ffffff" opacity="0.75" transform="rotate(-12 945.2 531.0)"/><rect x="935.5" y="535.9" width="2.3" height="1.1" fill="#ffffff" opacity="0.81" transform="rotate(-12 935.5 535.9)"/><rect x="932.3" y="534.6" width="2.2" height="1.1" fill="#ffffff" opacity="0.71" transform="rotate(-12 932.3 534.6)"/><rect x="944.8" y="533.6" width="2.4" height="1.1" fill="#ffffff" opacity="0.75" transform="rotate(-12 944.8 533.6)"/><rect x="943.5" y="533.6" width="1.8" height="1.1" fill="#ffffff" opacity="0.64" transform="rotate(-12 943.5 533.6)"/><rect x="996.1" y="444.3" width="2.4" height="1.1" fill="#ffffff" opacity="0.59" transform="rotate(-12 996.1 444.3)"/><rect x="996.2" y="444.0" width="3.4" height="1.1" fill="#ffffff" opacity="0.57" transform="rotate(-12 996.2 444.0)"/><rect x="1001.7" y="443.1" width="1.5" height="1.1" fill="#ffffff" opacity="0.89" transform="rotate(-12 1001.7 443.1)"/><rect x="1004.0" y="442.7" width="2.4" height="1.1" fill="#ffffff" opacity="0.52" transform="rotate(-12 1004.0 442.7)"/><rect x="997.4" y="445.2" width="1.9" height="1.1" fill="#ffffff" opacity="0.90" transform="rotate(-12 997.4 445.2)"/><rect x="930.0" y="409.2" width="3.0" height="1.1" fill="#ffffff" opacity="0.53" transform="rotate(-12 930.0 409.2)"/><rect x="934.4" y="403.8" width="2.2" height="1.1" fill="#ffffff" opacity="0.65" transform="rotate(-12 934.4 403.8)"/><rect x="1135.6" y="611.9" width="2.9" height="1.1" fill="#ffffff" opacity="0.79" transform="rotate(-12 1135.6 611.9)"/><rect x="1133.8" y="618.4" width="3.2" height="1.1" fill="#ffffff" opacity="0.94" transform="rotate(-12 1133.8 618.4)"/><rect x="1139.0" y="611.5" width="3.3" height="1.1" fill="#ffffff" opacity="0.68" transform="rotate(-12 1139.0 611.5)"/><rect x="1111.9" y="507.0" width="2.1" height="1.1" fill="#ffffff" opacity="0.59" transform="rotate(-12 1111.9 507.0)"/><rect x="1123.2" y="514.5" width="2.9" height="1.1" fill="#ffffff" opacity="0.90" transform="rotate(-12 1123.2 514.5)"/><rect x="1122.2" y="508.4" width="1.9" height="1.1" fill="#ffffff" opacity="0.72" transform="rotate(-12 1122.2 508.4)"/><rect x="975.9" y="430.5" width="3.0" height="1.1" fill="#ffffff" opacity="0.72" transform="rotate(-12 975.9 430.5)"/><rect x="982.4" y="429.2" width="2.7" height="1.1" fill="#ffffff" opacity="0.86" transform="rotate(-12 982.4 429.2)"/><rect x="977.4" y="427.4" width="3.1" height="1.1" fill="#ffffff" opacity="0.84" transform="rotate(-12 977.4 427.4)"/><rect x="978.6" y="428.7" width="1.8" height="1.1" fill="#ffffff" opacity="0.77" transform="rotate(-12 978.6 428.7)"/><rect x="917.1" y="549.7" width="1.4" height="1.1" fill="#ffffff" opacity="0.77" transform="rotate(-12 917.1 549.7)"/><rect x="922.2" y="547.9" width="1.9" height="1.1" fill="#ffffff" opacity="0.52" transform="rotate(-12 922.2 547.9)"/><rect x="927.8" y="546.8" width="2.7" height="1.1" fill="#ffffff" opacity="0.69" transform="rotate(-12 927.8 546.8)"/><rect x="925.0" y="547.5" width="1.4" height="1.1" fill="#ffffff" opacity="0.52" transform="rotate(-12 925.0 547.5)"/><rect x="1034.2" y="578.6" width="1.7" height="1.1" fill="#ffffff" opacity="0.63" transform="rotate(-12 1034.2 578.6)"/><rect x="1027.1" y="577.9" width="1.8" height="1.1" fill="#ffffff" opacity="0.59" transform="rotate(-12 1027.1 577.9)"/><rect x="1033.5" y="577.3" width="2.5" height="1.1" fill="#ffffff" opacity="0.70" transform="rotate(-12 1033.5 577.3)"/><rect x="1028.2" y="580.8" width="1.3" height="1.1" fill="#ffffff" opacity="0.58" transform="rotate(-12 1028.2 580.8)"/><rect x="1025.3" y="575.3" width="1.8" height="1.1" fill="#ffffff" opacity="0.58" transform="rotate(-12 1025.3 575.3)"/><rect x="1032.6" y="577.9" width="3.0" height="1.1" fill="#ffffff" opacity="0.90" transform="rotate(-12 1032.6 577.9)"/><rect x="1087.1" y="622.0" width="3.3" height="1.1" fill="#ffffff" opacity="0.53" transform="rotate(-12 1087.1 622.0)"/><rect x="1089.0" y="618.8" width="1.8" height="1.1" fill="#ffffff" opacity="0.58" transform="rotate(-12 1089.0 618.8)"/><rect x="1087.7" y="618.2" width="2.8" height="1.1" fill="#ffffff" opacity="0.54" transform="rotate(-12 1087.7 618.2)"/><rect x="896.2" y="492.4" width="3.1" height="1.1" fill="#ffffff" opacity="0.83" transform="rotate(-12 896.2 492.4)"/><rect x="896.1" y="491.2" width="2.0" height="1.1" fill="#ffffff" opacity="0.66" transform="rotate(-12 896.1 491.2)"/><rect x="898.6" y="489.8" width="3.1" height="1.1" fill="#ffffff" opacity="0.67" transform="rotate(-12 898.6 489.8)"/><rect x="896.6" y="494.4" width="3.3" height="1.1" fill="#ffffff" opacity="0.87" transform="rotate(-12 896.6 494.4)"/><rect x="1013.3" y="498.7" width="1.5" height="1.1" fill="#ffffff" opacity="0.86" transform="rotate(-12 1013.3 498.7)"/><rect x="1019.9" y="497.4" width="3.2" height="1.1" fill="#ffffff" opacity="0.92" transform="rotate(-12 1019.9 497.4)"/><rect x="1015.4" y="497.1" width="2.3" height="1.1" fill="#ffffff" opacity="0.66" transform="rotate(-12 1015.4 497.1)"/><rect x="1032.0" y="532.6" width="1.9" height="1.1" fill="#ffffff" opacity="0.56" transform="rotate(-12 1032.0 532.6)"/><rect x="1027.2" y="529.8" width="1.7" height="1.1" fill="#ffffff" opacity="0.79" transform="rotate(-12 1027.2 529.8)"/><rect x="1130.3" y="538.8" width="2.0" height="1.1" fill="#ffffff" opacity="0.62" transform="rotate(-12 1130.3 538.8)"/><rect x="1128.5" y="536.6" width="1.6" height="1.1" fill="#ffffff" opacity="0.66" transform="rotate(-12 1128.5 536.6)"/><rect x="1128.2" y="536.8" width="1.6" height="1.1" fill="#ffffff" opacity="0.64" transform="rotate(-12 1128.2 536.8)"/><rect x="1128.2" y="533.8" width="1.4" height="1.1" fill="#ffffff" opacity="0.52" transform="rotate(-12 1128.2 533.8)"/><rect x="1137.4" y="535.4" width="2.8" height="1.1" fill="#ffffff" opacity="0.66" transform="rotate(-12 1137.4 535.4)"/><rect x="1134.7" y="535.5" width="3.1" height="1.1" fill="#ffffff" opacity="0.73" transform="rotate(-12 1134.7 535.5)"/><rect x="917.4" y="449.4" width="3.4" height="1.1" fill="#ffffff" opacity="0.90" transform="rotate(-12 917.4 449.4)"/><rect x="913.3" y="442.8" width="1.4" height="1.1" fill="#ffffff" opacity="0.88" transform="rotate(-12 913.3 442.8)"/><rect x="1055.5" y="558.7" width="3.3" height="1.1" fill="#ffffff" opacity="0.81" transform="rotate(-12 1055.5 558.7)"/><rect x="1058.8" y="558.1" width="1.6" height="1.1" fill="#ffffff" opacity="0.67" transform="rotate(-12 1058.8 558.1)"/><rect x="1058.6" y="557.2" width="1.8" height="1.1" fill="#ffffff" opacity="0.64" transform="rotate(-12 1058.6 557.2)"/><rect x="962.5" y="559.5" width="3.0" height="1.1" fill="#ffffff" opacity="0.89" transform="rotate(-12 962.5 559.5)"/><rect x="965.0" y="563.6" width="1.7" height="1.1" fill="#ffffff" opacity="0.89" transform="rotate(-12 965.0 563.6)"/><rect x="973.6" y="566.7" width="1.9" height="1.1" fill="#ffffff" opacity="0.60" transform="rotate(-12 973.6 566.7)"/><rect x="975.9" y="565.8" width="1.3" height="1.1" fill="#ffffff" opacity="0.72" transform="rotate(-12 975.9 565.8)"/><rect x="974.1" y="566.5" width="1.5" height="1.1" fill="#ffffff" opacity="0.61" transform="rotate(-12 974.1 566.5)"/><rect x="969.4" y="560.9" width="2.2" height="1.1" fill="#ffffff" opacity="0.80" transform="rotate(-12 969.4 560.9)"/><rect x="995.5" y="463.6" width="2.5" height="1.1" fill="#ffffff" opacity="0.91" transform="rotate(-12 995.5 463.6)"/><rect x="996.9" y="456.1" width="2.0" height="1.1" fill="#ffffff" opacity="0.72" transform="rotate(-12 996.9 456.1)"/><rect x="984.6" y="532.1" width="2.0" height="1.1" fill="#ffffff" opacity="0.85" transform="rotate(-12 984.6 532.1)"/><rect x="990.5" y="535.3" width="3.1" height="1.1" fill="#ffffff" opacity="0.62" transform="rotate(-12 990.5 535.3)"/><rect x="993.8" y="533.8" width="2.0" height="1.1" fill="#ffffff" opacity="0.95" transform="rotate(-12 993.8 533.8)"/><rect x="989.6" y="533.1" width="1.9" height="1.1" fill="#ffffff" opacity="0.87" transform="rotate(-12 989.6 533.1)"/><rect x="995.0" y="529.5" width="2.2" height="1.1" fill="#ffffff" opacity="0.51" transform="rotate(-12 995.0 529.5)"/><rect x="988.8" y="535.8" width="1.5" height="1.1" fill="#ffffff" opacity="0.69" transform="rotate(-12 988.8 535.8)"/><rect x="978.1" y="470.1" width="1.8" height="1.1" fill="#ffffff" opacity="0.58" transform="rotate(-12 978.1 470.1)"/><rect x="983.5" y="470.9" width="2.0" height="1.1" fill="#ffffff" opacity="0.84" transform="rotate(-12 983.5 470.9)"/><rect x="981.1" y="468.5" width="3.4" height="1.1" fill="#ffffff" opacity="0.57" transform="rotate(-12 981.1 468.5)"/><rect x="974.5" y="470.5" width="1.4" height="1.1" fill="#ffffff" opacity="0.79" transform="rotate(-12 974.5 470.5)"/><rect x="983.8" y="470.5" width="2.4" height="1.1" fill="#ffffff" opacity="0.71" transform="rotate(-12 983.8 470.5)"/><rect x="977.7" y="470.3" width="2.4" height="1.1" fill="#ffffff" opacity="0.58" transform="rotate(-12 977.7 470.3)"/><rect x="938.9" y="466.7" width="2.9" height="1.1" fill="#ffffff" opacity="0.57" transform="rotate(-12 938.9 466.7)"/><rect x="943.6" y="467.3" width="2.8" height="1.1" fill="#ffffff" opacity="0.87" transform="rotate(-12 943.6 467.3)"/><rect x="937.9" y="469.2" width="2.7" height="1.1" fill="#ffffff" opacity="0.64" transform="rotate(-12 937.9 469.2)"/><rect x="952.1" y="470.0" width="2.0" height="1.1" fill="#ffffff" opacity="0.57" transform="rotate(-12 952.1 470.0)"/><rect x="936.1" y="469.4" width="3.3" height="1.1" fill="#ffffff" opacity="0.76" transform="rotate(-12 936.1 469.4)"/><rect x="874.2" y="395.7" width="3.2" height="1.1" fill="#ffffff" opacity="0.77" transform="rotate(-12 874.2 395.7)"/><rect x="877.9" y="395.7" width="1.7" height="1.1" fill="#ffffff" opacity="0.68" transform="rotate(-12 877.9 395.7)"/><rect x="876.5" y="395.7" width="1.6" height="1.1" fill="#ffffff" opacity="0.58" transform="rotate(-12 876.5 395.7)"/><rect x="886.8" y="398.6" width="2.9" height="1.1" fill="#ffffff" opacity="0.74" transform="rotate(-12 886.8 398.6)"/><rect x="881.5" y="399.1" width="2.3" height="1.1" fill="#ffffff" opacity="0.73" transform="rotate(-12 881.5 399.1)"/><rect x="1063.9" y="550.7" width="3.0" height="1.1" fill="#ffffff" opacity="0.63" transform="rotate(-12 1063.9 550.7)"/><rect x="1057.8" y="551.9" width="3.4" height="1.1" fill="#ffffff" opacity="0.55" transform="rotate(-12 1057.8 551.9)"/><rect x="1052.1" y="554.2" width="2.8" height="1.1" fill="#ffffff" opacity="0.78" transform="rotate(-12 1052.1 554.2)"/><rect x="1048.9" y="553.4" width="2.2" height="1.1" fill="#ffffff" opacity="0.88" transform="rotate(-12 1048.9 553.4)"/><rect x="1065.0" y="553.0" width="1.5" height="1.1" fill="#ffffff" opacity="0.67" transform="rotate(-12 1065.0 553.0)"/><rect x="1054.5" y="552.2" width="2.2" height="1.1" fill="#ffffff" opacity="0.88" transform="rotate(-12 1054.5 552.2)"/><rect x="1158.7" y="561.3" width="3.2" height="1.1" fill="#ffffff" opacity="0.85" transform="rotate(-12 1158.7 561.3)"/><rect x="1166.6" y="563.6" width="1.7" height="1.1" fill="#ffffff" opacity="0.85" transform="rotate(-12 1166.6 563.6)"/><rect x="1155.0" y="559.0" width="1.4" height="1.1" fill="#ffffff" opacity="0.92" transform="rotate(-12 1155.0 559.0)"/><rect x="1164.7" y="565.4" width="2.2" height="1.1" fill="#ffffff" opacity="0.90" transform="rotate(-12 1164.7 565.4)"/><rect x="1164.8" y="561.1" width="2.3" height="1.1" fill="#ffffff" opacity="0.92" transform="rotate(-12 1164.8 561.1)"/><rect x="1157.6" y="561.2" width="1.6" height="1.1" fill="#ffffff" opacity="0.74" transform="rotate(-12 1157.6 561.2)"/><rect x="992.5" y="575.4" width="2.0" height="1.1" fill="#ffffff" opacity="0.56" transform="rotate(-12 992.5 575.4)"/><rect x="999.9" y="579.6" width="3.4" height="1.1" fill="#ffffff" opacity="0.90" transform="rotate(-12 999.9 579.6)"/><rect x="995.1" y="574.3" width="2.8" height="1.1" fill="#ffffff" opacity="0.69" transform="rotate(-12 995.1 574.3)"/><rect x="982.4" y="577.6" width="2.5" height="1.1" fill="#ffffff" opacity="0.92" transform="rotate(-12 982.4 577.6)"/><rect x="992.9" y="576.9" width="2.8" height="1.1" fill="#ffffff" opacity="0.64" transform="rotate(-12 992.9 576.9)"/><rect x="923.6" y="500.3" width="1.7" height="1.1" fill="#ffffff" opacity="0.72" transform="rotate(-12 923.6 500.3)"/><rect x="921.6" y="497.4" width="2.4" height="1.1" fill="#ffffff" opacity="0.74" transform="rotate(-12 921.6 497.4)"/><rect x="923.0" y="500.7" width="3.3" height="1.1" fill="#ffffff" opacity="0.75" transform="rotate(-12 923.0 500.7)"/><rect x="921.5" y="493.4" width="2.0" height="1.1" fill="#ffffff" opacity="0.77" transform="rotate(-12 921.5 493.4)"/><rect x="921.2" y="497.1" width="2.1" height="1.1" fill="#ffffff" opacity="0.74" transform="rotate(-12 921.2 497.1)"/><rect x="1112.2" y="530.0" width="1.4" height="1.1" fill="#ffffff" opacity="0.64" transform="rotate(-12 1112.2 530.0)"/><rect x="1103.6" y="533.9" width="2.2" height="1.1" fill="#ffffff" opacity="0.51" transform="rotate(-12 1103.6 533.9)"/><rect x="1100.6" y="537.1" width="3.1" height="1.1" fill="#ffffff" opacity="0.89" transform="rotate(-12 1100.6 537.1)"/><rect x="1065.9" y="614.1" width="3.4" height="1.1" fill="#ffffff" opacity="0.67" transform="rotate(-12 1065.9 614.1)"/><rect x="1062.3" y="614.9" width="2.7" height="1.1" fill="#ffffff" opacity="0.94" transform="rotate(-12 1062.3 614.9)"/><rect x="1057.1" y="618.8" width="2.6" height="1.1" fill="#ffffff" opacity="0.90" transform="rotate(-12 1057.1 618.8)"/><rect x="1063.2" y="619.9" width="2.0" height="1.1" fill="#ffffff" opacity="0.59" transform="rotate(-12 1063.2 619.9)"/><rect x="916.8" y="402.1" width="2.2" height="1.1" fill="#ffffff" opacity="0.57" transform="rotate(-12 916.8 402.1)"/><rect x="908.1" y="402.3" width="3.4" height="1.1" fill="#ffffff" opacity="0.84" transform="rotate(-12 908.1 402.3)"/><rect x="1122.2" y="566.5" width="2.4" height="1.1" fill="#ffffff" opacity="0.62" transform="rotate(-12 1122.2 566.5)"/><rect x="1117.0" y="570.2" width="1.6" height="1.1" fill="#ffffff" opacity="0.74" transform="rotate(-12 1117.0 570.2)"/><rect x="1116.7" y="570.5" width="2.2" height="1.1" fill="#ffffff" opacity="0.73" transform="rotate(-12 1116.7 570.5)"/><rect x="1105.1" y="572.9" width="2.6" height="1.1" fill="#ffffff" opacity="0.83" transform="rotate(-12 1105.1 572.9)"/><rect x="1111.1" y="567.8" width="1.3" height="1.1" fill="#ffffff" opacity="0.85" transform="rotate(-12 1111.1 567.8)"/><rect x="1115.1" y="574.7" width="2.5" height="1.1" fill="#ffffff" opacity="0.52" transform="rotate(-12 1115.1 574.7)"/><rect x="977.8" y="445.5" width="2.1" height="1.1" fill="#ffffff" opacity="0.56" transform="rotate(-12 977.8 445.5)"/><rect x="984.0" y="444.6" width="1.4" height="1.1" fill="#ffffff" opacity="0.71" transform="rotate(-12 984.0 444.6)"/><rect x="970.1" y="445.1" width="2.8" height="1.1" fill="#ffffff" opacity="0.59" transform="rotate(-12 970.1 445.1)"/><rect x="980.8" y="445.9" width="2.8" height="1.1" fill="#ffffff" opacity="0.52" transform="rotate(-12 980.8 445.9)"/><rect x="981.8" y="444.6" width="3.0" height="1.1" fill="#ffffff" opacity="0.87" transform="rotate(-12 981.8 444.6)"/><rect x="942.8" y="424.6" width="3.3" height="1.1" fill="#ffffff" opacity="0.76" transform="rotate(-12 942.8 424.6)"/><rect x="944.0" y="419.5" width="1.9" height="1.1" fill="#ffffff" opacity="0.69" transform="rotate(-12 944.0 419.5)"/><rect x="938.5" y="417.6" width="2.1" height="1.1" fill="#ffffff" opacity="0.70" transform="rotate(-12 938.5 417.6)"/><rect x="956.5" y="421.1" width="1.7" height="1.1" fill="#ffffff" opacity="0.57" transform="rotate(-12 956.5 421.1)"/><rect x="945.7" y="424.1" width="2.1" height="1.1" fill="#ffffff" opacity="0.85" transform="rotate(-12 945.7 424.1)"/><rect x="1050.8" y="474.0" width="1.3" height="1.1" fill="#ffffff" opacity="0.69" transform="rotate(-12 1050.8 474.0)"/><rect x="1048.3" y="475.7" width="3.1" height="1.1" fill="#ffffff" opacity="0.81" transform="rotate(-12 1048.3 475.7)"/><rect x="1041.3" y="473.6" width="2.9" height="1.1" fill="#ffffff" opacity="0.76" transform="rotate(-12 1041.3 473.6)"/><rect x="1141.1" y="590.5" width="1.5" height="1.1" fill="#ffffff" opacity="0.89" transform="rotate(-12 1141.1 590.5)"/><rect x="1140.5" y="588.9" width="3.3" height="1.1" fill="#ffffff" opacity="0.86" transform="rotate(-12 1140.5 588.9)"/><rect x="1140.3" y="590.9" width="1.4" height="1.1" fill="#ffffff" opacity="0.79" transform="rotate(-12 1140.3 590.9)"/><rect x="1134.0" y="590.3" width="3.4" height="1.1" fill="#ffffff" opacity="0.77" transform="rotate(-12 1134.0 590.3)"/><rect x="1147.5" y="591.6" width="2.4" height="1.1" fill="#ffffff" opacity="0.56" transform="rotate(-12 1147.5 591.6)"/><rect x="1146.8" y="586.7" width="2.1" height="1.1" fill="#ffffff" opacity="0.77" transform="rotate(-12 1146.8 586.7)"/><rect x="874.7" y="409.9" width="2.0" height="1.1" fill="#ffffff" opacity="0.55" transform="rotate(-12 874.7 409.9)"/><rect x="883.3" y="410.0" width="2.8" height="1.1" fill="#ffffff" opacity="0.55" transform="rotate(-12 883.3 410.0)"/><rect x="875.3" y="410.7" width="1.7" height="1.1" fill="#ffffff" opacity="0.81" transform="rotate(-12 875.3 410.7)"/><rect x="881.2" y="406.5" width="2.2" height="1.1" fill="#ffffff" opacity="0.93" transform="rotate(-12 881.2 406.5)"/><rect x="886.5" y="408.2" width="1.4" height="1.1" fill="#ffffff" opacity="0.69" transform="rotate(-12 886.5 408.2)"/><rect x="879.5" y="410.0" width="2.7" height="1.1" fill="#ffffff" opacity="0.51" transform="rotate(-12 879.5 410.0)"/><rect x="876.4" y="450.6" width="2.0" height="1.1" fill="#ffffff" opacity="0.94" transform="rotate(-12 876.4 450.6)"/><rect x="872.2" y="442.8" width="1.9" height="1.1" fill="#ffffff" opacity="0.58" transform="rotate(-12 872.2 442.8)"/><rect x="876.8" y="439.7" width="2.5" height="1.1" fill="#ffffff" opacity="0.58" transform="rotate(-12 876.8 439.7)"/><rect x="993.8" y="533.4" width="2.1" height="1.1" fill="#ffffff" opacity="0.84" transform="rotate(-12 993.8 533.4)"/><rect x="987.6" y="534.0" width="3.4" height="1.1" fill="#ffffff" opacity="0.72" transform="rotate(-12 987.6 534.0)"/><rect x="988.5" y="532.5" width="2.1" height="1.1" fill="#ffffff" opacity="0.88" transform="rotate(-12 988.5 532.5)"/><rect x="982.1" y="540.3" width="3.1" height="1.1" fill="#ffffff" opacity="0.56" transform="rotate(-12 982.1 540.3)"/><rect x="984.7" y="533.6" width="2.3" height="1.1" fill="#ffffff" opacity="0.52" transform="rotate(-12 984.7 533.6)"/><rect x="1003.3" y="529.6" width="3.4" height="1.1" fill="#ffffff" opacity="0.74" transform="rotate(-12 1003.3 529.6)"/><rect x="1006.6" y="526.5" width="1.4" height="1.1" fill="#ffffff" opacity="0.71" transform="rotate(-12 1006.6 526.5)"/><rect x="1009.7" y="530.1" width="3.3" height="1.1" fill="#ffffff" opacity="0.81" transform="rotate(-12 1009.7 530.1)"/><rect x="1003.5" y="529.5" width="2.7" height="1.1" fill="#ffffff" opacity="0.77" transform="rotate(-12 1003.5 529.5)"/><rect x="951.5" y="516.5" width="2.0" height="1.1" fill="#ffffff" opacity="0.89" transform="rotate(-12 951.5 516.5)"/><rect x="949.5" y="515.3" width="2.6" height="1.1" fill="#ffffff" opacity="0.86" transform="rotate(-12 949.5 515.3)"/><rect x="951.1" y="516.9" width="2.9" height="1.1" fill="#ffffff" opacity="0.59" transform="rotate(-12 951.1 516.9)"/><rect x="943.0" y="514.5" width="1.8" height="1.1" fill="#ffffff" opacity="0.73" transform="rotate(-12 943.0 514.5)"/><rect x="954.2" y="512.0" width="2.2" height="1.1" fill="#ffffff" opacity="0.78" transform="rotate(-12 954.2 512.0)"/><rect x="1047.5" y="589.5" width="3.3" height="1.1" fill="#ffffff" opacity="0.51" transform="rotate(-12 1047.5 589.5)"/><rect x="1041.9" y="589.8" width="2.3" height="1.1" fill="#ffffff" opacity="0.70" transform="rotate(-12 1041.9 589.8)"/><rect x="941.6" y="421.7" width="2.9" height="1.1" fill="#ffffff" opacity="0.93" transform="rotate(-12 941.6 421.7)"/><rect x="918.6" y="427.7" width="2.4" height="1.1" fill="#ffffff" opacity="0.57" transform="rotate(-12 918.6 427.7)"/><rect x="1111.2" y="543.3" width="2.0" height="1.1" fill="#ffffff" opacity="0.60" transform="rotate(-12 1111.2 543.3)"/><rect x="1117.5" y="543.4" width="3.4" height="1.1" fill="#ffffff" opacity="0.73" transform="rotate(-12 1117.5 543.4)"/><rect x="1112.5" y="607.0" width="2.9" height="1.1" fill="#ffffff" opacity="0.82" transform="rotate(-12 1112.5 607.0)"/><rect x="1118.9" y="606.8" width="3.0" height="1.1" fill="#ffffff" opacity="0.81" transform="rotate(-12 1118.9 606.8)"/><rect x="1107.2" y="607.4" width="2.9" height="1.1" fill="#ffffff" opacity="0.71" transform="rotate(-12 1107.2 607.4)"/><rect x="1110.0" y="606.0" width="3.1" height="1.1" fill="#ffffff" opacity="0.79" transform="rotate(-12 1110.0 606.0)"/><rect x="1114.1" y="604.4" width="2.2" height="1.1" fill="#ffffff" opacity="0.73" transform="rotate(-12 1114.1 604.4)"/><rect x="1111.2" y="608.1" width="2.5" height="1.1" fill="#ffffff" opacity="0.58" transform="rotate(-12 1111.2 608.1)"/><rect x="1029.9" y="555.5" width="2.1" height="1.1" fill="#ffffff" opacity="0.94" transform="rotate(-12 1029.9 555.5)"/><rect x="1035.1" y="557.7" width="2.1" height="1.1" fill="#ffffff" opacity="0.89" transform="rotate(-12 1035.1 557.7)"/><rect x="1033.0" y="558.6" width="2.1" height="1.1" fill="#ffffff" opacity="0.69" transform="rotate(-12 1033.0 558.6)"/><rect x="1040.1" y="560.1" width="2.3" height="1.1" fill="#ffffff" opacity="0.69" transform="rotate(-12 1040.1 560.1)"/><rect x="1026.0" y="557.9" width="2.0" height="1.1" fill="#ffffff" opacity="0.92" transform="rotate(-12 1026.0 557.9)"/><rect x="1028.8" y="557.0" width="1.8" height="1.1" fill="#ffffff" opacity="0.80" transform="rotate(-12 1028.8 557.0)"/><rect x="943.8" y="490.0" width="2.9" height="1.1" fill="#ffffff" opacity="0.63" transform="rotate(-12 943.8 490.0)"/><rect x="944.8" y="490.3" width="3.3" height="1.1" fill="#ffffff" opacity="0.51" transform="rotate(-12 944.8 490.3)"/><rect x="1007.3" y="457.0" width="3.1" height="1.1" fill="#ffffff" opacity="0.60" transform="rotate(-12 1007.3 457.0)"/><rect x="1010.4" y="458.4" width="2.2" height="1.1" fill="#ffffff" opacity="0.54" transform="rotate(-12 1010.4 458.4)"/><rect x="996.5" y="452.8" width="1.5" height="1.1" fill="#ffffff" opacity="0.77" transform="rotate(-12 996.5 452.8)"/><rect x="1000.7" y="458.2" width="1.5" height="1.1" fill="#ffffff" opacity="0.52" transform="rotate(-12 1000.7 458.2)"/><rect x="1000.0" y="459.6" width="2.4" height="1.1" fill="#ffffff" opacity="0.78" transform="rotate(-12 1000.0 459.6)"/><rect x="1007.3" y="453.6" width="1.7" height="1.1" fill="#ffffff" opacity="0.78" transform="rotate(-12 1007.3 453.6)"/><rect x="904.2" y="422.5" width="2.9" height="1.1" fill="#ffffff" opacity="0.60" transform="rotate(-12 904.2 422.5)"/><rect x="907.9" y="420.1" width="2.4" height="1.1" fill="#ffffff" opacity="0.82" transform="rotate(-12 907.9 420.1)"/><rect x="897.6" y="418.7" width="1.8" height="1.1" fill="#ffffff" opacity="0.80" transform="rotate(-12 897.6 418.7)"/><rect x="905.5" y="427.3" width="3.1" height="1.1" fill="#ffffff" opacity="0.54" transform="rotate(-12 905.5 427.3)"/><rect x="901.6" y="421.5" width="3.0" height="1.1" fill="#ffffff" opacity="0.93" transform="rotate(-12 901.6 421.5)"/><rect x="906.5" y="416.1" width="1.5" height="1.1" fill="#ffffff" opacity="0.67" transform="rotate(-12 906.5 416.1)"/><rect x="964.1" y="443.9" width="2.8" height="1.1" fill="#ffffff" opacity="0.64" transform="rotate(-12 964.1 443.9)"/><rect x="963.6" y="443.1" width="2.4" height="1.1" fill="#ffffff" opacity="0.86" transform="rotate(-12 963.6 443.1)"/><rect x="960.3" y="439.9" width="1.4" height="1.1" fill="#ffffff" opacity="0.60" transform="rotate(-12 960.3 439.9)"/><rect x="954.4" y="439.0" width="2.5" height="1.1" fill="#ffffff" opacity="0.50" transform="rotate(-12 954.4 439.0)"/><rect x="967.6" y="438.8" width="2.4" height="1.1" fill="#ffffff" opacity="0.59" transform="rotate(-12 967.6 438.8)"/><rect x="1097.9" y="528.9" width="3.2" height="1.1" fill="#ffffff" opacity="0.62" transform="rotate(-12 1097.9 528.9)"/><rect x="1108.8" y="528.4" width="2.6" height="1.1" fill="#ffffff" opacity="0.88" transform="rotate(-12 1108.8 528.4)"/><rect x="1095.9" y="527.5" width="2.0" height="1.1" fill="#ffffff" opacity="0.80" transform="rotate(-12 1095.9 527.5)"/><rect x="1104.7" y="529.3" width="1.5" height="1.1" fill="#ffffff" opacity="0.51" transform="rotate(-12 1104.7 529.3)"/><rect x="1097.3" y="525.9" width="2.6" height="1.1" fill="#ffffff" opacity="0.90" transform="rotate(-12 1097.3 525.9)"/><rect x="1104.4" y="526.4" width="2.8" height="1.1" fill="#ffffff" opacity="0.75" transform="rotate(-12 1104.4 526.4)"/><rect x="923.7" y="419.4" width="1.6" height="1.1" fill="#ffffff" opacity="0.51" transform="rotate(-12 923.7 419.4)"/><rect x="930.3" y="423.7" width="1.5" height="1.1" fill="#ffffff" opacity="0.74" transform="rotate(-12 930.3 423.7)"/><rect x="923.3" y="419.8" width="1.9" height="1.1" fill="#ffffff" opacity="0.62" transform="rotate(-12 923.3 419.8)"/><rect x="913.3" y="418.1" width="2.4" height="1.1" fill="#ffffff" opacity="0.74" transform="rotate(-12 913.3 418.1)"/><rect x="922.5" y="421.0" width="2.3" height="1.1" fill="#ffffff" opacity="0.68" transform="rotate(-12 922.5 421.0)"/><rect x="925.9" y="418.5" width="1.4" height="1.1" fill="#ffffff" opacity="0.52" transform="rotate(-12 925.9 418.5)"/><rect x="1081.2" y="515.2" width="3.1" height="1.1" fill="#ffffff" opacity="0.71" transform="rotate(-12 1081.2 515.2)"/><rect x="1067.5" y="514.5" width="3.0" height="1.1" fill="#ffffff" opacity="0.52" transform="rotate(-12 1067.5 514.5)"/><rect x="1070.4" y="513.5" width="2.4" height="1.1" fill="#ffffff" opacity="0.77" transform="rotate(-12 1070.4 513.5)"/><rect x="1077.1" y="516.7" width="2.1" height="1.1" fill="#ffffff" opacity="0.63" transform="rotate(-12 1077.1 516.7)"/><rect x="1064.7" y="513.9" width="1.9" height="1.1" fill="#ffffff" opacity="0.74" transform="rotate(-12 1064.7 513.9)"/><rect x="906.4" y="522.2" width="1.4" height="1.1" fill="#ffffff" opacity="0.88" transform="rotate(-12 906.4 522.2)"/><rect x="902.2" y="520.4" width="3.0" height="1.1" fill="#ffffff" opacity="0.88" transform="rotate(-12 902.2 520.4)"/><rect x="908.0" y="521.5" width="2.3" height="1.1" fill="#ffffff" opacity="0.58" transform="rotate(-12 908.0 521.5)"/><rect x="907.0" y="467.9" width="3.1" height="1.1" fill="#ffffff" opacity="0.53" transform="rotate(-12 907.0 467.9)"/><rect x="896.7" y="471.0" width="2.4" height="1.1" fill="#ffffff" opacity="0.67" transform="rotate(-12 896.7 471.0)"/><rect x="898.9" y="473.4" width="2.1" height="1.1" fill="#ffffff" opacity="0.86" transform="rotate(-12 898.9 473.4)"/><rect x="900.6" y="476.2" width="3.1" height="1.1" fill="#ffffff" opacity="0.58" transform="rotate(-12 900.6 476.2)"/><rect x="903.9" y="468.3" width="2.0" height="1.1" fill="#ffffff" opacity="0.51" transform="rotate(-12 903.9 468.3)"/><rect x="903.3" y="468.8" width="3.4" height="1.1" fill="#ffffff" opacity="0.71" transform="rotate(-12 903.3 468.8)"/><rect x="904.7" y="473.2" width="3.3" height="1.1" fill="#ffffff" opacity="0.61" transform="rotate(-12 904.7 473.2)"/><rect x="1072.9" y="491.6" width="2.5" height="1.1" fill="#ffffff" opacity="0.85" transform="rotate(-12 1072.9 491.6)"/><rect x="1076.1" y="492.3" width="1.7" height="1.1" fill="#ffffff" opacity="0.81" transform="rotate(-12 1076.1 492.3)"/><rect x="1073.0" y="489.4" width="2.3" height="1.1" fill="#ffffff" opacity="0.67" transform="rotate(-12 1073.0 489.4)"/><rect x="1078.4" y="492.9" width="1.9" height="1.1" fill="#ffffff" opacity="0.51" transform="rotate(-12 1078.4 492.9)"/><rect x="1120.8" y="607.9" width="1.7" height="1.1" fill="#ffffff" opacity="0.67" transform="rotate(-12 1120.8 607.9)"/><rect x="1113.5" y="600.5" width="2.3" height="1.1" fill="#ffffff" opacity="0.86" transform="rotate(-12 1113.5 600.5)"/><rect x="1111.9" y="604.5" width="3.1" height="1.1" fill="#ffffff" opacity="0.75" transform="rotate(-12 1111.9 604.5)"/><rect x="956.3" y="558.0" width="1.9" height="1.1" fill="#ffffff" opacity="0.58" transform="rotate(-12 956.3 558.0)"/><rect x="944.7" y="557.8" width="2.0" height="1.1" fill="#ffffff" opacity="0.70" transform="rotate(-12 944.7 557.8)"/><rect x="1020.1" y="589.5" width="2.8" height="1.1" fill="#ffffff" opacity="0.51" transform="rotate(-12 1020.1 589.5)"/><rect x="1020.6" y="585.4" width="3.4" height="1.1" fill="#ffffff" opacity="0.60" transform="rotate(-12 1020.6 585.4)"/><rect x="1023.1" y="586.5" width="1.3" height="1.1" fill="#ffffff" opacity="0.74" transform="rotate(-12 1023.1 586.5)"/><rect x="990.0" y="460.8" width="2.7" height="1.1" fill="#ffffff" opacity="0.94" transform="rotate(-12 990.0 460.8)"/><rect x="979.1" y="456.8" width="2.6" height="1.1" fill="#ffffff" opacity="0.82" transform="rotate(-12 979.1 456.8)"/><rect x="982.9" y="456.6" width="1.9" height="1.1" fill="#ffffff" opacity="0.65" transform="rotate(-12 982.9 456.6)"/><rect x="989.7" y="454.5" width="3.0" height="1.1" fill="#ffffff" opacity="0.84" transform="rotate(-12 989.7 454.5)"/><rect x="990.7" y="457.2" width="3.1" height="1.1" fill="#ffffff" opacity="0.73" transform="rotate(-12 990.7 457.2)"/>
<rect x="815.1" y="684.5" width="1.7" height="1.1" fill="#ffffff" opacity="0.86" transform="rotate(-12 815.1 684.5)"/><rect x="813.4" y="681.7" width="1.7" height="1.1" fill="#ffffff" opacity="0.52" transform="rotate(-12 813.4 681.7)"/><rect x="720.3" y="631.2" width="2.4" height="1.1" fill="#ffffff" opacity="0.67" transform="rotate(-12 720.3 631.2)"/><rect x="722.4" y="634.7" width="3.2" height="1.1" fill="#ffffff" opacity="0.89" transform="rotate(-12 722.4 634.7)"/><rect x="709.4" y="640.3" width="3.2" height="1.1" fill="#ffffff" opacity="0.69" transform="rotate(-12 709.4 640.3)"/><rect x="719.3" y="634.9" width="1.7" height="1.1" fill="#ffffff" opacity="0.60" transform="rotate(-12 719.3 634.9)"/><rect x="718.4" y="637.3" width="2.4" height="1.1" fill="#ffffff" opacity="0.66" transform="rotate(-12 718.4 637.3)"/><rect x="642.9" y="646.3" width="3.2" height="1.1" fill="#ffffff" opacity="0.84" transform="rotate(-12 642.9 646.3)"/><rect x="641.7" y="647.9" width="3.4" height="1.1" fill="#ffffff" opacity="0.93" transform="rotate(-12 641.7 647.9)"/><rect x="645.0" y="653.7" width="2.8" height="1.1" fill="#ffffff" opacity="0.71" transform="rotate(-12 645.0 653.7)"/><rect x="634.9" y="649.6" width="3.2" height="1.1" fill="#ffffff" opacity="0.73" transform="rotate(-12 634.9 649.6)"/><rect x="642.9" y="648.1" width="3.2" height="1.1" fill="#ffffff" opacity="0.90" transform="rotate(-12 642.9 648.1)"/><rect x="621.5" y="638.4" width="1.8" height="1.1" fill="#ffffff" opacity="0.65" transform="rotate(-12 621.5 638.4)"/><rect x="621.5" y="639.8" width="3.2" height="1.1" fill="#ffffff" opacity="0.62" transform="rotate(-12 621.5 639.8)"/><rect x="626.1" y="640.1" width="3.3" height="1.1" fill="#ffffff" opacity="0.82" transform="rotate(-12 626.1 640.1)"/><rect x="616.4" y="641.2" width="2.7" height="1.1" fill="#ffffff" opacity="0.76" transform="rotate(-12 616.4 641.2)"/><rect x="621.1" y="642.8" width="2.4" height="1.1" fill="#ffffff" opacity="0.92" transform="rotate(-12 621.1 642.8)"/><rect x="621.0" y="640.6" width="3.0" height="1.1" fill="#ffffff" opacity="0.83" transform="rotate(-12 621.0 640.6)"/><rect x="770.3" y="746.2" width="1.9" height="1.1" fill="#ffffff" opacity="0.60" transform="rotate(-12 770.3 746.2)"/><rect x="765.2" y="744.1" width="2.4" height="1.1" fill="#ffffff" opacity="0.88" transform="rotate(-12 765.2 744.1)"/><rect x="525.3" y="642.3" width="1.4" height="1.1" fill="#ffffff" opacity="0.66" transform="rotate(-12 525.3 642.3)"/><rect x="535.8" y="643.7" width="1.5" height="1.1" fill="#ffffff" opacity="0.93" transform="rotate(-12 535.8 643.7)"/><rect x="474.7" y="559.9" width="3.3" height="1.1" fill="#ffffff" opacity="0.83" transform="rotate(-12 474.7 559.9)"/><rect x="476.2" y="558.9" width="2.5" height="1.1" fill="#ffffff" opacity="0.86" transform="rotate(-12 476.2 558.9)"/><rect x="560.3" y="574.2" width="2.9" height="1.1" fill="#ffffff" opacity="0.55" transform="rotate(-12 560.3 574.2)"/><rect x="563.5" y="571.9" width="2.2" height="1.1" fill="#ffffff" opacity="0.84" transform="rotate(-12 563.5 571.9)"/><rect x="738.7" y="651.0" width="2.3" height="1.1" fill="#ffffff" opacity="0.60" transform="rotate(-12 738.7 651.0)"/><rect x="731.3" y="652.1" width="1.5" height="1.1" fill="#ffffff" opacity="0.70" transform="rotate(-12 731.3 652.1)"/><rect x="735.4" y="653.0" width="2.5" height="1.1" fill="#ffffff" opacity="0.68" transform="rotate(-12 735.4 653.0)"/><rect x="730.8" y="653.8" width="3.3" height="1.1" fill="#ffffff" opacity="0.62" transform="rotate(-12 730.8 653.8)"/><rect x="729.5" y="652.3" width="1.3" height="1.1" fill="#ffffff" opacity="0.75" transform="rotate(-12 729.5 652.3)"/><rect x="491.7" y="639.4" width="2.3" height="1.1" fill="#ffffff" opacity="0.60" transform="rotate(-12 491.7 639.4)"/><rect x="496.4" y="636.3" width="1.4" height="1.1" fill="#ffffff" opacity="0.61" transform="rotate(-12 496.4 636.3)"/><rect x="685.1" y="723.7" width="3.0" height="1.1" fill="#ffffff" opacity="0.82" transform="rotate(-12 685.1 723.7)"/><rect x="690.7" y="728.3" width="2.4" height="1.1" fill="#ffffff" opacity="0.50" transform="rotate(-12 690.7 728.3)"/><rect x="464.9" y="589.8" width="1.5" height="1.1" fill="#ffffff" opacity="0.51" transform="rotate(-12 464.9 589.8)"/><rect x="467.1" y="588.7" width="1.4" height="1.1" fill="#ffffff" opacity="0.80" transform="rotate(-12 467.1 588.7)"/><rect x="621.2" y="648.4" width="3.3" height="1.1" fill="#ffffff" opacity="0.83" transform="rotate(-12 621.2 648.4)"/><rect x="613.2" y="644.3" width="2.5" height="1.1" fill="#ffffff" opacity="0.52" transform="rotate(-12 613.2 644.3)"/><rect x="613.3" y="644.6" width="1.7" height="1.1" fill="#ffffff" opacity="0.54" transform="rotate(-12 613.3 644.6)"/><rect x="620.2" y="640.8" width="2.4" height="1.1" fill="#ffffff" opacity="0.91" transform="rotate(-12 620.2 640.8)"/><rect x="615.5" y="641.8" width="3.4" height="1.1" fill="#ffffff" opacity="0.67" transform="rotate(-12 615.5 641.8)"/><rect x="475.1" y="563.0" width="2.9" height="1.1" fill="#ffffff" opacity="0.87" transform="rotate(-12 475.1 563.0)"/><rect x="473.2" y="561.2" width="2.6" height="1.1" fill="#ffffff" opacity="0.71" transform="rotate(-12 473.2 561.2)"/><rect x="773.2" y="705.9" width="3.3" height="1.1" fill="#ffffff" opacity="0.53" transform="rotate(-12 773.2 705.9)"/><rect x="774.4" y="701.9" width="2.5" height="1.1" fill="#ffffff" opacity="0.68" transform="rotate(-12 774.4 701.9)"/><rect x="633.7" y="623.4" width="1.6" height="1.1" fill="#ffffff" opacity="0.78" transform="rotate(-12 633.7 623.4)"/><rect x="628.2" y="626.8" width="1.7" height="1.1" fill="#ffffff" opacity="0.55" transform="rotate(-12 628.2 626.8)"/><rect x="626.6" y="622.7" width="1.4" height="1.1" fill="#ffffff" opacity="0.82" transform="rotate(-12 626.6 622.7)"/><rect x="627.5" y="630.7" width="1.6" height="1.1" fill="#ffffff" opacity="0.67" transform="rotate(-12 627.5 630.7)"/><rect x="620.8" y="625.1" width="2.8" height="1.1" fill="#ffffff" opacity="0.83" transform="rotate(-12 620.8 625.1)"/><rect x="602.4" y="642.6" width="2.6" height="1.1" fill="#ffffff" opacity="0.75" transform="rotate(-12 602.4 642.6)"/><rect x="602.1" y="638.0" width="1.5" height="1.1" fill="#ffffff" opacity="0.83" transform="rotate(-12 602.1 638.0)"/><rect x="603.0" y="641.2" width="1.7" height="1.1" fill="#ffffff" opacity="0.75" transform="rotate(-12 603.0 641.2)"/><rect x="608.4" y="636.6" width="3.0" height="1.1" fill="#ffffff" opacity="0.91" transform="rotate(-12 608.4 636.6)"/><rect x="712.3" y="654.8" width="1.8" height="1.1" fill="#ffffff" opacity="0.80" transform="rotate(-12 712.3 654.8)"/><rect x="707.1" y="650.8" width="2.4" height="1.1" fill="#ffffff" opacity="0.55" transform="rotate(-12 707.1 650.8)"/><rect x="670.8" y="620.4" width="2.8" height="1.1" fill="#ffffff" opacity="0.62" transform="rotate(-12 670.8 620.4)"/><rect x="670.3" y="617.0" width="2.8" height="1.1" fill="#ffffff" opacity="0.68" transform="rotate(-12 670.3 617.0)"/><rect x="674.6" y="618.6" width="2.5" height="1.1" fill="#ffffff" opacity="0.57" transform="rotate(-12 674.6 618.6)"/><rect x="664.7" y="618.9" width="2.5" height="1.1" fill="#ffffff" opacity="0.90" transform="rotate(-12 664.7 618.9)"/><rect x="668.4" y="621.4" width="2.3" height="1.1" fill="#ffffff" opacity="0.68" transform="rotate(-12 668.4 621.4)"/><rect x="720.7" y="648.6" width="2.8" height="1.1" fill="#ffffff" opacity="0.91" transform="rotate(-12 720.7 648.6)"/><rect x="732.8" y="648.5" width="2.8" height="1.1" fill="#ffffff" opacity="0.74" transform="rotate(-12 732.8 648.5)"/><rect x="728.2" y="650.4" width="2.1" height="1.1" fill="#ffffff" opacity="0.90" transform="rotate(-12 728.2 650.4)"/><rect x="728.4" y="645.1" width="2.4" height="1.1" fill="#ffffff" opacity="0.91" transform="rotate(-12 728.4 645.1)"/><rect x="721.6" y="646.5" width="1.5" height="1.1" fill="#ffffff" opacity="0.68" transform="rotate(-12 721.6 646.5)"/><rect x="545.5" y="600.3" width="1.5" height="1.1" fill="#ffffff" opacity="0.87" transform="rotate(-12 545.5 600.3)"/><rect x="537.3" y="601.6" width="2.9" height="1.1" fill="#ffffff" opacity="0.76" transform="rotate(-12 537.3 601.6)"/><rect x="540.2" y="607.4" width="1.6" height="1.1" fill="#ffffff" opacity="0.78" transform="rotate(-12 540.2 607.4)"/><rect x="533.4" y="604.0" width="2.5" height="1.1" fill="#ffffff" opacity="0.71" transform="rotate(-12 533.4 604.0)"/><rect x="540.6" y="609.5" width="1.5" height="1.1" fill="#ffffff" opacity="0.50" transform="rotate(-12 540.6 609.5)"/><rect x="642.1" y="617.5" width="2.7" height="1.1" fill="#ffffff" opacity="0.65" transform="rotate(-12 642.1 617.5)"/><rect x="641.3" y="623.3" width="1.4" height="1.1" fill="#ffffff" opacity="0.54" transform="rotate(-12 641.3 623.3)"/><rect x="708.8" y="726.2" width="3.1" height="1.1" fill="#ffffff" opacity="0.82" transform="rotate(-12 708.8 726.2)"/><rect x="714.6" y="723.7" width="3.4" height="1.1" fill="#ffffff" opacity="0.80" transform="rotate(-12 714.6 723.7)"/><rect x="711.3" y="724.4" width="2.3" height="1.1" fill="#ffffff" opacity="0.50" transform="rotate(-12 711.3 724.4)"/><rect x="718.5" y="723.7" width="2.5" height="1.1" fill="#ffffff" opacity="0.59" transform="rotate(-12 718.5 723.7)"/><rect x="706.4" y="720.1" width="1.6" height="1.1" fill="#ffffff" opacity="0.81" transform="rotate(-12 706.4 720.1)"/><rect x="701.2" y="702.4" width="2.7" height="1.1" fill="#ffffff" opacity="0.86" transform="rotate(-12 701.2 702.4)"/><rect x="696.4" y="702.2" width="3.1" height="1.1" fill="#ffffff" opacity="0.54" transform="rotate(-12 696.4 702.2)"/><rect x="695.9" y="702.4" width="2.4" height="1.1" fill="#ffffff" opacity="0.88" transform="rotate(-12 695.9 702.4)"/><rect x="701.3" y="700.9" width="1.9" height="1.1" fill="#ffffff" opacity="0.60" transform="rotate(-12 701.3 700.9)"/><rect x="609.9" y="671.9" width="2.7" height="1.1" fill="#ffffff" opacity="0.85" transform="rotate(-12 609.9 671.9)"/><rect x="609.8" y="670.0" width="2.0" height="1.1" fill="#ffffff" opacity="0.65" transform="rotate(-12 609.8 670.0)"/><rect x="603.8" y="673.6" width="3.1" height="1.1" fill="#ffffff" opacity="0.71" transform="rotate(-12 603.8 673.6)"/><rect x="612.9" y="674.4" width="3.4" height="1.1" fill="#ffffff" opacity="0.60" transform="rotate(-12 612.9 674.4)"/><rect x="531.9" y="650.3" width="3.1" height="1.1" fill="#ffffff" opacity="0.58" transform="rotate(-12 531.9 650.3)"/><rect x="541.8" y="650.5" width="1.9" height="1.1" fill="#ffffff" opacity="0.75" transform="rotate(-12 541.8 650.5)"/><rect x="533.5" y="652.6" width="2.9" height="1.1" fill="#ffffff" opacity="0.63" transform="rotate(-12 533.5 652.6)"/><rect x="709.7" y="673.2" width="2.9" height="1.1" fill="#ffffff" opacity="0.84" transform="rotate(-12 709.7 673.2)"/><rect x="722.2" y="674.6" width="2.9" height="1.1" fill="#ffffff" opacity="0.94" transform="rotate(-12 722.2 674.6)"/><rect x="712.4" y="682.3" width="2.7" height="1.1" fill="#ffffff" opacity="0.67" transform="rotate(-12 712.4 682.3)"/><rect x="711.8" y="679.9" width="3.3" height="1.1" fill="#ffffff" opacity="0.66" transform="rotate(-12 711.8 679.9)"/><rect x="703.8" y="679.7" width="1.7" height="1.1" fill="#ffffff" opacity="0.93" transform="rotate(-12 703.8 679.7)"/><rect x="715.1" y="679.3" width="2.0" height="1.1" fill="#ffffff" opacity="0.66" transform="rotate(-12 715.1 679.3)"/><rect x="799.4" y="683.3" width="3.0" height="1.1" fill="#ffffff" opacity="0.77" transform="rotate(-12 799.4 683.3)"/><rect x="789.6" y="682.5" width="3.2" height="1.1" fill="#ffffff" opacity="0.66" transform="rotate(-12 789.6 682.5)"/><rect x="796.8" y="686.0" width="3.3" height="1.1" fill="#ffffff" opacity="0.85" transform="rotate(-12 796.8 686.0)"/><rect x="793.7" y="684.4" width="2.1" height="1.1" fill="#ffffff" opacity="0.54" transform="rotate(-12 793.7 684.4)"/><rect x="798.0" y="686.8" width="2.8" height="1.1" fill="#ffffff" opacity="0.52" transform="rotate(-12 798.0 686.8)"/><rect x="796.0" y="708.7" width="3.1" height="1.1" fill="#ffffff" opacity="0.69" transform="rotate(-12 796.0 708.7)"/><rect x="793.9" y="706.9" width="2.4" height="1.1" fill="#ffffff" opacity="0.88" transform="rotate(-12 793.9 706.9)"/><rect x="788.9" y="711.8" width="2.6" height="1.1" fill="#ffffff" opacity="0.68" transform="rotate(-12 788.9 711.8)"/><rect x="798.4" y="708.1" width="2.3" height="1.1" fill="#ffffff" opacity="0.78" transform="rotate(-12 798.4 708.1)"/><rect x="789.5" y="712.5" width="2.6" height="1.1" fill="#ffffff" opacity="0.76" transform="rotate(-12 789.5 712.5)"/><rect x="779.3" y="706.4" width="3.4" height="1.1" fill="#ffffff" opacity="0.88" transform="rotate(-12 779.3 706.4)"/><rect x="604.1" y="656.0" width="2.2" height="1.1" fill="#ffffff" opacity="0.77" transform="rotate(-12 604.1 656.0)"/><rect x="622.2" y="658.3" width="2.4" height="1.1" fill="#ffffff" opacity="0.58" transform="rotate(-12 622.2 658.3)"/><rect x="609.6" y="656.2" width="2.8" height="1.1" fill="#ffffff" opacity="0.61" transform="rotate(-12 609.6 656.2)"/><rect x="612.1" y="653.0" width="1.4" height="1.1" fill="#ffffff" opacity="0.69" transform="rotate(-12 612.1 653.0)"/><rect x="618.4" y="654.3" width="3.0" height="1.1" fill="#ffffff" opacity="0.71" transform="rotate(-12 618.4 654.3)"/><rect x="617.4" y="652.3" width="1.4" height="1.1" fill="#ffffff" opacity="0.56" transform="rotate(-12 617.4 652.3)"/><rect x="480.0" y="563.4" width="3.2" height="1.1" fill="#ffffff" opacity="0.87" transform="rotate(-12 480.0 563.4)"/><rect x="469.4" y="562.3" width="3.1" height="1.1" fill="#ffffff" opacity="0.56" transform="rotate(-12 469.4 562.3)"/><rect x="474.2" y="562.9" width="1.5" height="1.1" fill="#ffffff" opacity="0.55" transform="rotate(-12 474.2 562.9)"/><rect x="477.3" y="563.6" width="1.8" height="1.1" fill="#ffffff" opacity="0.67" transform="rotate(-12 477.3 563.6)"/><rect x="469.8" y="559.4" width="3.2" height="1.1" fill="#ffffff" opacity="0.82" transform="rotate(-12 469.8 559.4)"/><rect x="465.8" y="562.6" width="1.6" height="1.1" fill="#ffffff" opacity="0.55" transform="rotate(-12 465.8 562.6)"/><rect x="751.3" y="692.6" width="2.0" height="1.1" fill="#ffffff" opacity="0.56" transform="rotate(-12 751.3 692.6)"/><rect x="752.7" y="692.7" width="1.9" height="1.1" fill="#ffffff" opacity="0.54" transform="rotate(-12 752.7 692.7)"/><rect x="753.0" y="692.3" width="2.4" height="1.1" fill="#ffffff" opacity="0.72" transform="rotate(-12 753.0 692.3)"/><rect x="550.8" y="623.1" width="1.4" height="1.1" fill="#ffffff" opacity="0.75" transform="rotate(-12 550.8 623.1)"/><rect x="554.1" y="628.2" width="2.5" height="1.1" fill="#ffffff" opacity="0.79" transform="rotate(-12 554.1 628.2)"/><rect x="547.3" y="623.7" width="2.8" height="1.1" fill="#ffffff" opacity="0.71" transform="rotate(-12 547.3 623.7)"/><rect x="489.5" y="555.6" width="1.4" height="1.1" fill="#ffffff" opacity="0.59" transform="rotate(-12 489.5 555.6)"/><rect x="491.6" y="560.7" width="2.4" height="1.1" fill="#ffffff" opacity="0.58" transform="rotate(-12 491.6 560.7)"/><rect x="499.4" y="556.6" width="3.2" height="1.1" fill="#ffffff" opacity="0.71" transform="rotate(-12 499.4 556.6)"/><rect x="547.5" y="645.9" width="3.2" height="1.1" fill="#ffffff" opacity="0.76" transform="rotate(-12 547.5 645.9)"/><rect x="544.3" y="649.2" width="2.8" height="1.1" fill="#ffffff" opacity="0.70" transform="rotate(-12 544.3 649.2)"/><rect x="547.3" y="646.8" width="2.8" height="1.1" fill="#ffffff" opacity="0.62" transform="rotate(-12 547.3 646.8)"/><rect x="551.6" y="646.9" width="2.0" height="1.1" fill="#ffffff" opacity="0.74" transform="rotate(-12 551.6 646.9)"/><rect x="594.3" y="635.1" width="1.7" height="1.1" fill="#ffffff" opacity="0.89" transform="rotate(-12 594.3 635.1)"/><rect x="605.9" y="629.7" width="2.1" height="1.1" fill="#ffffff" opacity="0.78" transform="rotate(-12 605.9 629.7)"/><rect x="591.8" y="632.3" width="2.2" height="1.1" fill="#ffffff" opacity="0.84" transform="rotate(-12 591.8 632.3)"/><rect x="752.6" y="725.6" width="3.1" height="1.1" fill="#ffffff" opacity="0.60" transform="rotate(-12 752.6 725.6)"/><rect x="743.8" y="720.1" width="3.2" height="1.1" fill="#ffffff" opacity="0.81" transform="rotate(-12 743.8 720.1)"/><rect x="561.4" y="653.0" width="1.4" height="1.1" fill="#ffffff" opacity="0.95" transform="rotate(-12 561.4 653.0)"/><rect x="560.0" y="651.6" width="3.0" height="1.1" fill="#ffffff" opacity="0.80" transform="rotate(-12 560.0 651.6)"/><rect x="555.1" y="649.6" width="2.3" height="1.1" fill="#ffffff" opacity="0.82" transform="rotate(-12 555.1 649.6)"/><rect x="552.9" y="653.7" width="1.7" height="1.1" fill="#ffffff" opacity="0.57" transform="rotate(-12 552.9 653.7)"/><rect x="733.4" y="676.0" width="1.5" height="1.1" fill="#ffffff" opacity="0.72" transform="rotate(-12 733.4 676.0)"/><rect x="738.1" y="673.5" width="2.5" height="1.1" fill="#ffffff" opacity="0.88" transform="rotate(-12 738.1 673.5)"/><rect x="739.4" y="673.9" width="2.6" height="1.1" fill="#ffffff" opacity="0.92" transform="rotate(-12 739.4 673.9)"/><rect x="733.7" y="678.3" width="2.1" height="1.1" fill="#ffffff" opacity="0.68" transform="rotate(-12 733.7 678.3)"/><rect x="733.3" y="672.8" width="1.8" height="1.1" fill="#ffffff" opacity="0.61" transform="rotate(-12 733.3 672.8)"/><rect x="744.8" y="673.9" width="3.0" height="1.1" fill="#ffffff" opacity="0.55" transform="rotate(-12 744.8 673.9)"/><rect x="612.8" y="658.1" width="1.4" height="1.1" fill="#ffffff" opacity="0.74" transform="rotate(-12 612.8 658.1)"/><rect x="618.7" y="654.0" width="2.4" height="1.1" fill="#ffffff" opacity="0.50" transform="rotate(-12 618.7 654.0)"/><rect x="609.6" y="658.0" width="1.8" height="1.1" fill="#ffffff" opacity="0.62" transform="rotate(-12 609.6 658.0)"/><rect x="610.5" y="658.0" width="3.3" height="1.1" fill="#ffffff" opacity="0.72" transform="rotate(-12 610.5 658.0)"/><rect x="618.6" y="657.4" width="2.8" height="1.1" fill="#ffffff" opacity="0.63" transform="rotate(-12 618.6 657.4)"/><rect x="451.1" y="624.2" width="1.4" height="1.1" fill="#ffffff" opacity="0.57" transform="rotate(-12 451.1 624.2)"/><rect x="447.7" y="626.5" width="2.6" height="1.1" fill="#ffffff" opacity="0.74" transform="rotate(-12 447.7 626.5)"/><rect x="448.9" y="621.2" width="2.8" height="1.1" fill="#ffffff" opacity="0.52" transform="rotate(-12 448.9 621.2)"/><rect x="632.4" y="675.7" width="2.0" height="1.1" fill="#ffffff" opacity="0.92" transform="rotate(-12 632.4 675.7)"/><rect x="626.1" y="675.7" width="2.9" height="1.1" fill="#ffffff" opacity="0.66" transform="rotate(-12 626.1 675.7)"/><rect x="800.2" y="708.6" width="3.3" height="1.1" fill="#ffffff" opacity="0.51" transform="rotate(-12 800.2 708.6)"/><rect x="790.3" y="714.5" width="1.3" height="1.1" fill="#ffffff" opacity="0.80" transform="rotate(-12 790.3 714.5)"/><rect x="803.4" y="710.4" width="3.1" height="1.1" fill="#ffffff" opacity="0.53" transform="rotate(-12 803.4 710.4)"/><rect x="788.8" y="709.6" width="2.2" height="1.1" fill="#ffffff" opacity="0.69" transform="rotate(-12 788.8 709.6)"/><rect x="796.2" y="709.0" width="1.4" height="1.1" fill="#ffffff" opacity="0.77" transform="rotate(-12 796.2 709.0)"/><rect x="806.8" y="701.1" width="1.4" height="1.1" fill="#ffffff" opacity="0.61" transform="rotate(-12 806.8 701.1)"/><rect x="812.4" y="690.7" width="2.1" height="1.1" fill="#ffffff" opacity="0.91" transform="rotate(-12 812.4 690.7)"/><rect x="815.0" y="698.0" width="1.4" height="1.1" fill="#ffffff" opacity="0.61" transform="rotate(-12 815.0 698.0)"/><rect x="513.4" y="652.9" width="2.5" height="1.1" fill="#ffffff" opacity="0.60" transform="rotate(-12 513.4 652.9)"/><rect x="488.3" y="649.2" width="3.2" height="1.1" fill="#ffffff" opacity="0.69" transform="rotate(-12 488.3 649.2)"/><rect x="505.4" y="649.2" width="1.6" height="1.1" fill="#ffffff" opacity="0.83" transform="rotate(-12 505.4 649.2)"/><rect x="516.7" y="652.6" width="1.7" height="1.1" fill="#ffffff" opacity="0.87" transform="rotate(-12 516.7 652.6)"/><rect x="511.2" y="649.5" width="3.0" height="1.1" fill="#ffffff" opacity="0.89" transform="rotate(-12 511.2 649.5)"/><rect x="615.9" y="644.4" width="1.8" height="1.1" fill="#ffffff" opacity="0.58" transform="rotate(-12 615.9 644.4)"/><rect x="617.2" y="647.6" width="2.6" height="1.1" fill="#ffffff" opacity="0.94" transform="rotate(-12 617.2 647.6)"/><rect x="611.1" y="645.8" width="2.2" height="1.1" fill="#ffffff" opacity="0.85" transform="rotate(-12 611.1 645.8)"/><rect x="590.4" y="615.5" width="1.4" height="1.1" fill="#ffffff" opacity="0.64" transform="rotate(-12 590.4 615.5)"/><rect x="594.5" y="613.0" width="2.5" height="1.1" fill="#ffffff" opacity="0.76" transform="rotate(-12 594.5 613.0)"/><rect x="681.9" y="709.1" width="2.3" height="1.1" fill="#ffffff" opacity="0.80" transform="rotate(-12 681.9 709.1)"/><rect x="682.5" y="704.4" width="2.3" height="1.1" fill="#ffffff" opacity="0.93" transform="rotate(-12 682.5 704.4)"/><rect x="688.5" y="702.9" width="2.4" height="1.1" fill="#ffffff" opacity="0.90" transform="rotate(-12 688.5 702.9)"/><rect x="688.2" y="701.9" width="3.3" height="1.1" fill="#ffffff" opacity="0.55" transform="rotate(-12 688.2 701.9)"/><rect x="682.6" y="703.5" width="2.3" height="1.1" fill="#ffffff" opacity="0.93" transform="rotate(-12 682.6 703.5)"/><rect x="799.9" y="734.5" width="2.9" height="1.1" fill="#ffffff" opacity="0.91" transform="rotate(-12 799.9 734.5)"/><rect x="789.7" y="735.4" width="1.8" height="1.1" fill="#ffffff" opacity="0.90" transform="rotate(-12 789.7 735.4)"/><rect x="795.0" y="738.4" width="2.8" height="1.1" fill="#ffffff" opacity="0.82" transform="rotate(-12 795.0 738.4)"/><rect x="794.4" y="737.7" width="2.0" height="1.1" fill="#ffffff" opacity="0.91" transform="rotate(-12 794.4 737.7)"/><rect x="790.1" y="739.7" width="3.3" height="1.1" fill="#ffffff" opacity="0.62" transform="rotate(-12 790.1 739.7)"/><rect x="792.2" y="736.3" width="2.5" height="1.1" fill="#ffffff" opacity="0.59" transform="rotate(-12 792.2 736.3)"/><rect x="472.1" y="638.4" width="2.2" height="1.1" fill="#ffffff" opacity="0.84" transform="rotate(-12 472.1 638.4)"/><rect x="481.8" y="634.5" width="2.4" height="1.1" fill="#ffffff" opacity="0.72" transform="rotate(-12 481.8 634.5)"/><rect x="471.3" y="635.2" width="3.2" height="1.1" fill="#ffffff" opacity="0.77" transform="rotate(-12 471.3 635.2)"/><rect x="471.6" y="638.2" width="1.6" height="1.1" fill="#ffffff" opacity="0.82" transform="rotate(-12 471.6 638.2)"/><rect x="467.8" y="585.1" width="2.6" height="1.1" fill="#ffffff" opacity="0.76" transform="rotate(-12 467.8 585.1)"/><rect x="459.0" y="589.5" width="1.6" height="1.1" fill="#ffffff" opacity="0.64" transform="rotate(-12 459.0 589.5)"/><rect x="461.0" y="583.2" width="2.8" height="1.1" fill="#ffffff" opacity="0.71" transform="rotate(-12 461.0 583.2)"/><rect x="456.7" y="589.0" width="2.5" height="1.1" fill="#ffffff" opacity="0.61" transform="rotate(-12 456.7 589.0)"/><rect x="465.8" y="580.3" width="1.7" height="1.1" fill="#ffffff" opacity="0.61" transform="rotate(-12 465.8 580.3)"/><rect x="460.8" y="582.4" width="1.8" height="1.1" fill="#ffffff" opacity="0.76" transform="rotate(-12 460.8 582.4)"/><rect x="559.3" y="584.5" width="1.3" height="1.1" fill="#ffffff" opacity="0.85" transform="rotate(-12 559.3 584.5)"/><rect x="555.9" y="576.1" width="2.7" height="1.1" fill="#ffffff" opacity="0.83" transform="rotate(-12 555.9 576.1)"/><rect x="553.9" y="578.7" width="2.3" height="1.1" fill="#ffffff" opacity="0.50" transform="rotate(-12 553.9 578.7)"/><rect x="555.3" y="574.2" width="3.4" height="1.1" fill="#ffffff" opacity="0.60" transform="rotate(-12 555.3 574.2)"/><rect x="552.4" y="577.8" width="2.6" height="1.1" fill="#ffffff" opacity="0.83" transform="rotate(-12 552.4 577.8)"/><rect x="555.4" y="583.2" width="1.3" height="1.1" fill="#ffffff" opacity="0.66" transform="rotate(-12 555.4 583.2)"/><rect x="477.6" y="636.6" width="3.3" height="1.1" fill="#ffffff" opacity="0.58" transform="rotate(-12 477.6 636.6)"/><rect x="483.6" y="631.6" width="2.3" height="1.1" fill="#ffffff" opacity="0.93" transform="rotate(-12 483.6 631.6)"/><rect x="482.7" y="636.9" width="2.3" height="1.1" fill="#ffffff" opacity="0.53" transform="rotate(-12 482.7 636.9)"/><rect x="482.3" y="633.5" width="3.0" height="1.1" fill="#ffffff" opacity="0.63" transform="rotate(-12 482.3 633.5)"/><rect x="493.4" y="547.1" width="1.7" height="1.1" fill="#ffffff" opacity="0.64" transform="rotate(-12 493.4 547.1)"/><rect x="492.5" y="542.3" width="2.8" height="1.1" fill="#ffffff" opacity="0.71" transform="rotate(-12 492.5 542.3)"/><rect x="496.9" y="547.3" width="3.1" height="1.1" fill="#ffffff" opacity="0.66" transform="rotate(-12 496.9 547.3)"/><rect x="575.5" y="604.1" width="3.2" height="1.1" fill="#ffffff" opacity="0.51" transform="rotate(-12 575.5 604.1)"/><rect x="575.5" y="606.1" width="2.9" height="1.1" fill="#ffffff" opacity="0.73" transform="rotate(-12 575.5 606.1)"/><rect x="801.8" y="676.4" width="2.2" height="1.1" fill="#ffffff" opacity="0.83" transform="rotate(-12 801.8 676.4)"/><rect x="796.9" y="679.3" width="2.9" height="1.1" fill="#ffffff" opacity="0.65" transform="rotate(-12 796.9 679.3)"/><rect x="801.2" y="676.2" width="2.4" height="1.1" fill="#ffffff" opacity="0.52" transform="rotate(-12 801.2 676.2)"/><rect x="805.8" y="674.9" width="2.2" height="1.1" fill="#ffffff" opacity="0.66" transform="rotate(-12 805.8 674.9)"/><rect x="797.9" y="673.6" width="3.2" height="1.1" fill="#ffffff" opacity="0.57" transform="rotate(-12 797.9 673.6)"/><rect x="800.0" y="675.1" width="1.5" height="1.1" fill="#ffffff" opacity="0.56" transform="rotate(-12 800.0 675.1)"/><rect x="779.7" y="690.8" width="3.2" height="1.1" fill="#ffffff" opacity="0.56" transform="rotate(-12 779.7 690.8)"/><rect x="782.1" y="694.5" width="2.8" height="1.1" fill="#ffffff" opacity="0.84" transform="rotate(-12 782.1 694.5)"/><rect x="783.6" y="687.5" width="3.1" height="1.1" fill="#ffffff" opacity="0.80" transform="rotate(-12 783.6 687.5)"/><rect x="780.3" y="698.1" width="1.4" height="1.1" fill="#ffffff" opacity="0.94" transform="rotate(-12 780.3 698.1)"/><rect x="606.7" y="644.1" width="3.3" height="1.1" fill="#ffffff" opacity="0.80" transform="rotate(-12 606.7 644.1)"/><rect x="615.8" y="643.8" width="2.1" height="1.1" fill="#ffffff" opacity="0.69" transform="rotate(-12 615.8 643.8)"/><rect x="608.8" y="641.0" width="1.9" height="1.1" fill="#ffffff" opacity="0.74" transform="rotate(-12 608.8 641.0)"/><rect x="610.2" y="642.2" width="3.1" height="1.1" fill="#ffffff" opacity="0.82" transform="rotate(-12 610.2 642.2)"/><rect x="611.7" y="646.1" width="2.6" height="1.1" fill="#ffffff" opacity="0.82" transform="rotate(-12 611.7 646.1)"/><rect x="604.2" y="642.3" width="2.4" height="1.1" fill="#ffffff" opacity="0.61" transform="rotate(-12 604.2 642.3)"/><rect x="613.3" y="655.9" width="1.5" height="1.1" fill="#ffffff" opacity="0.51" transform="rotate(-12 613.3 655.9)"/><rect x="620.7" y="658.2" width="2.0" height="1.1" fill="#ffffff" opacity="0.61" transform="rotate(-12 620.7 658.2)"/><rect x="599.2" y="681.9" width="3.0" height="1.1" fill="#ffffff" opacity="0.58" transform="rotate(-12 599.2 681.9)"/><rect x="589.3" y="684.3" width="1.9" height="1.1" fill="#ffffff" opacity="0.69" transform="rotate(-12 589.3 684.3)"/><rect x="593.2" y="683.4" width="2.7" height="1.1" fill="#ffffff" opacity="0.88" transform="rotate(-12 593.2 683.4)"/><rect x="508.7" y="646.6" width="1.7" height="1.1" fill="#ffffff" opacity="0.88" transform="rotate(-12 508.7 646.6)"/><rect x="507.0" y="648.0" width="3.3" height="1.1" fill="#ffffff" opacity="0.93" transform="rotate(-12 507.0 648.0)"/><rect x="502.3" y="654.0" width="2.3" height="1.1" fill="#ffffff" opacity="0.89" transform="rotate(-12 502.3 654.0)"/><rect x="501.5" y="652.3" width="2.1" height="1.1" fill="#ffffff" opacity="0.79" transform="rotate(-12 501.5 652.3)"/><rect x="496.9" y="653.1" width="2.3" height="1.1" fill="#ffffff" opacity="0.69" transform="rotate(-12 496.9 653.1)"/><rect x="712.5" y="679.5" width="3.2" height="1.1" fill="#ffffff" opacity="0.71" transform="rotate(-12 712.5 679.5)"/><rect x="709.1" y="681.7" width="2.4" height="1.1" fill="#ffffff" opacity="0.71" transform="rotate(-12 709.1 681.7)"/><rect x="699.1" y="678.1" width="1.8" height="1.1" fill="#ffffff" opacity="0.87" transform="rotate(-12 699.1 678.1)"/><rect x="699.6" y="672.0" width="2.2" height="1.1" fill="#ffffff" opacity="0.94" transform="rotate(-12 699.6 672.0)"/><rect x="705.6" y="677.3" width="3.2" height="1.1" fill="#ffffff" opacity="0.57" transform="rotate(-12 705.6 677.3)"/><rect x="709.3" y="681.1" width="1.6" height="1.1" fill="#ffffff" opacity="0.73" transform="rotate(-12 709.3 681.1)"/><rect x="728.6" y="671.9" width="2.2" height="1.1" fill="#ffffff" opacity="0.51" transform="rotate(-12 728.6 671.9)"/><rect x="716.9" y="676.5" width="1.8" height="1.1" fill="#ffffff" opacity="0.57" transform="rotate(-12 716.9 676.5)"/><rect x="720.7" y="674.9" width="3.1" height="1.1" fill="#ffffff" opacity="0.59" transform="rotate(-12 720.7 674.9)"/><rect x="785.0" y="752.1" width="1.6" height="1.1" fill="#ffffff" opacity="0.79" transform="rotate(-12 785.0 752.1)"/><rect x="797.3" y="752.4" width="2.8" height="1.1" fill="#ffffff" opacity="0.53" transform="rotate(-12 797.3 752.4)"/><rect x="785.2" y="753.4" width="3.3" height="1.1" fill="#ffffff" opacity="0.83" transform="rotate(-12 785.2 753.4)"/><rect x="792.8" y="752.8" width="2.0" height="1.1" fill="#ffffff" opacity="0.70" transform="rotate(-12 792.8 752.8)"/><rect x="520.7" y="633.3" width="1.8" height="1.1" fill="#ffffff" opacity="0.82" transform="rotate(-12 520.7 633.3)"/><rect x="528.5" y="630.6" width="1.7" height="1.1" fill="#ffffff" opacity="0.81" transform="rotate(-12 528.5 630.6)"/><rect x="516.0" y="630.7" width="3.4" height="1.1" fill="#ffffff" opacity="0.53" transform="rotate(-12 516.0 630.7)"/><rect x="529.6" y="629.6" width="1.4" height="1.1" fill="#ffffff" opacity="0.90" transform="rotate(-12 529.6 629.6)"/><rect x="526.9" y="631.6" width="1.6" height="1.1" fill="#ffffff" opacity="0.51" transform="rotate(-12 526.9 631.6)"/><rect x="540.8" y="589.9" width="3.3" height="1.1" fill="#ffffff" opacity="0.91" transform="rotate(-12 540.8 589.9)"/><rect x="535.4" y="590.5" width="1.5" height="1.1" fill="#ffffff" opacity="0.50" transform="rotate(-12 535.4 590.5)"/><rect x="542.7" y="596.5" width="3.1" height="1.1" fill="#ffffff" opacity="0.85" transform="rotate(-12 542.7 596.5)"/><rect x="541.5" y="592.3" width="1.4" height="1.1" fill="#ffffff" opacity="0.61" transform="rotate(-12 541.5 592.3)"/><rect x="547.1" y="593.1" width="3.3" height="1.1" fill="#ffffff" opacity="0.90" transform="rotate(-12 547.1 593.1)"/><rect x="546.3" y="595.0" width="2.7" height="1.1" fill="#ffffff" opacity="0.80" transform="rotate(-12 546.3 595.0)"/><rect x="598.3" y="661.6" width="2.4" height="1.1" fill="#ffffff" opacity="0.51" transform="rotate(-12 598.3 661.6)"/><rect x="591.1" y="665.7" width="1.8" height="1.1" fill="#ffffff" opacity="0.60" transform="rotate(-12 591.1 665.7)"/><rect x="588.0" y="660.6" width="1.7" height="1.1" fill="#ffffff" opacity="0.91" transform="rotate(-12 588.0 660.6)"/><rect x="478.1" y="536.2" width="2.0" height="1.1" fill="#ffffff" opacity="0.54" transform="rotate(-12 478.1 536.2)"/><rect x="472.7" y="531.6" width="2.5" height="1.1" fill="#ffffff" opacity="0.93" transform="rotate(-12 472.7 531.6)"/><rect x="481.7" y="534.3" width="2.8" height="1.1" fill="#ffffff" opacity="0.59" transform="rotate(-12 481.7 534.3)"/><rect x="476.7" y="534.5" width="1.8" height="1.1" fill="#ffffff" opacity="0.95" transform="rotate(-12 476.7 534.5)"/><rect x="475.3" y="536.7" width="2.4" height="1.1" fill="#ffffff" opacity="0.93" transform="rotate(-12 475.3 536.7)"/><rect x="474.2" y="537.8" width="2.9" height="1.1" fill="#ffffff" opacity="0.94" transform="rotate(-12 474.2 537.8)"/><rect x="803.2" y="728.7" width="3.3" height="1.1" fill="#ffffff" opacity="0.78" transform="rotate(-12 803.2 728.7)"/><rect x="812.1" y="730.2" width="2.7" height="1.1" fill="#ffffff" opacity="0.54" transform="rotate(-12 812.1 730.2)"/><rect x="799.8" y="729.4" width="1.8" height="1.1" fill="#ffffff" opacity="0.78" transform="rotate(-12 799.8 729.4)"/><rect x="503.8" y="600.5" width="2.1" height="1.1" fill="#ffffff" opacity="0.72" transform="rotate(-12 503.8 600.5)"/><rect x="500.4" y="599.8" width="3.3" height="1.1" fill="#ffffff" opacity="0.55" transform="rotate(-12 500.4 599.8)"/><rect x="500.2" y="602.3" width="1.8" height="1.1" fill="#ffffff" opacity="0.62" transform="rotate(-12 500.2 602.3)"/><rect x="506.9" y="594.7" width="2.8" height="1.1" fill="#ffffff" opacity="0.87" transform="rotate(-12 506.9 594.7)"/><rect x="506.5" y="600.1" width="1.4" height="1.1" fill="#ffffff" opacity="0.70" transform="rotate(-12 506.5 600.1)"/><rect x="499.5" y="600.0" width="1.8" height="1.1" fill="#ffffff" opacity="0.53" transform="rotate(-12 499.5 600.0)"/><rect x="457.0" y="589.2" width="2.6" height="1.1" fill="#ffffff" opacity="0.93" transform="rotate(-12 457.0 589.2)"/><rect x="463.3" y="586.4" width="1.7" height="1.1" fill="#ffffff" opacity="0.91" transform="rotate(-12 463.3 586.4)"/><rect x="471.4" y="588.2" width="1.5" height="1.1" fill="#ffffff" opacity="0.82" transform="rotate(-12 471.4 588.2)"/><rect x="457.0" y="590.1" width="1.9" height="1.1" fill="#ffffff" opacity="0.85" transform="rotate(-12 457.0 590.1)"/><rect x="466.2" y="586.5" width="1.9" height="1.1" fill="#ffffff" opacity="0.83" transform="rotate(-12 466.2 586.5)"/><rect x="502.3" y="570.9" width="3.2" height="1.1" fill="#ffffff" opacity="0.86" transform="rotate(-12 502.3 570.9)"/><rect x="495.0" y="573.0" width="3.2" height="1.1" fill="#ffffff" opacity="0.50" transform="rotate(-12 495.0 573.0)"/><rect x="759.3" y="738.3" width="2.8" height="1.1" fill="#ffffff" opacity="0.85" transform="rotate(-12 759.3 738.3)"/><rect x="763.5" y="739.7" width="3.3" height="1.1" fill="#ffffff" opacity="0.54" transform="rotate(-12 763.5 739.7)"/><rect x="765.1" y="739.8" width="2.3" height="1.1" fill="#ffffff" opacity="0.55" transform="rotate(-12 765.1 739.8)"/><rect x="758.7" y="739.1" width="2.0" height="1.1" fill="#ffffff" opacity="0.60" transform="rotate(-12 758.7 739.1)"/><rect x="788.9" y="758.9" width="2.7" height="1.1" fill="#ffffff" opacity="0.64" transform="rotate(-12 788.9 758.9)"/><rect x="796.4" y="755.3" width="2.2" height="1.1" fill="#ffffff" opacity="0.83" transform="rotate(-12 796.4 755.3)"/><rect x="790.3" y="754.4" width="3.1" height="1.1" fill="#ffffff" opacity="0.86" transform="rotate(-12 790.3 754.4)"/><rect x="788.3" y="759.8" width="3.1" height="1.1" fill="#ffffff" opacity="0.53" transform="rotate(-12 788.3 759.8)"/><rect x="791.0" y="755.3" width="2.1" height="1.1" fill="#ffffff" opacity="0.55" transform="rotate(-12 791.0 755.3)"/><rect x="577.7" y="597.5" width="3.1" height="1.1" fill="#ffffff" opacity="0.87" transform="rotate(-12 577.7 597.5)"/><rect x="573.2" y="601.1" width="3.1" height="1.1" fill="#ffffff" opacity="0.84" transform="rotate(-12 573.2 601.1)"/><rect x="568.0" y="601.6" width="2.1" height="1.1" fill="#ffffff" opacity="0.69" transform="rotate(-12 568.0 601.6)"/><rect x="568.4" y="594.1" width="1.6" height="1.1" fill="#ffffff" opacity="0.79" transform="rotate(-12 568.4 594.1)"/><rect x="572.5" y="598.4" width="3.0" height="1.1" fill="#ffffff" opacity="0.91" transform="rotate(-12 572.5 598.4)"/><rect x="567.8" y="598.6" width="2.7" height="1.1" fill="#ffffff" opacity="0.82" transform="rotate(-12 567.8 598.6)"/><rect x="564.9" y="591.1" width="1.6" height="1.1" fill="#ffffff" opacity="0.69" transform="rotate(-12 564.9 591.1)"/><rect x="558.2" y="594.7" width="2.9" height="1.1" fill="#ffffff" opacity="0.53" transform="rotate(-12 558.2 594.7)"/><rect x="555.9" y="579.4" width="2.2" height="1.1" fill="#ffffff" opacity="0.84" transform="rotate(-12 555.9 579.4)"/><rect x="554.1" y="582.5" width="3.1" height="1.1" fill="#ffffff" opacity="0.78" transform="rotate(-12 554.1 582.5)"/><rect x="553.1" y="581.6" width="2.2" height="1.1" fill="#ffffff" opacity="0.70" transform="rotate(-12 553.1 581.6)"/><rect x="542.6" y="581.6" width="2.5" height="1.1" fill="#ffffff" opacity="0.63" transform="rotate(-12 542.6 581.6)"/><rect x="557.3" y="580.9" width="3.1" height="1.1" fill="#ffffff" opacity="0.73" transform="rotate(-12 557.3 580.9)"/><rect x="471.9" y="557.4" width="2.6" height="1.1" fill="#ffffff" opacity="0.68" transform="rotate(-12 471.9 557.4)"/><rect x="483.8" y="559.1" width="2.6" height="1.1" fill="#ffffff" opacity="0.53" transform="rotate(-12 483.8 559.1)"/><rect x="548.8" y="606.1" width="3.0" height="1.1" fill="#ffffff" opacity="0.60" transform="rotate(-12 548.8 606.1)"/><rect x="546.6" y="605.9" width="1.4" height="1.1" fill="#ffffff" opacity="0.85" transform="rotate(-12 546.6 605.9)"/><rect x="542.5" y="607.2" width="2.8" height="1.1" fill="#ffffff" opacity="0.77" transform="rotate(-12 542.5 607.2)"/><rect x="545.4" y="608.0" width="2.4" height="1.1" fill="#ffffff" opacity="0.61" transform="rotate(-12 545.4 608.0)"/><rect x="551.7" y="588.3" width="1.9" height="1.1" fill="#ffffff" opacity="0.83" transform="rotate(-12 551.7 588.3)"/><rect x="564.3" y="591.3" width="2.6" height="1.1" fill="#ffffff" opacity="0.50" transform="rotate(-12 564.3 591.3)"/><rect x="557.4" y="586.3" width="1.5" height="1.1" fill="#ffffff" opacity="0.93" transform="rotate(-12 557.4 586.3)"/><rect x="557.9" y="589.6" width="2.5" height="1.1" fill="#ffffff" opacity="0.69" transform="rotate(-12 557.9 589.6)"/><rect x="756.9" y="761.2" width="2.7" height="1.1" fill="#ffffff" opacity="0.60" transform="rotate(-12 756.9 761.2)"/><rect x="756.0" y="760.7" width="3.2" height="1.1" fill="#ffffff" opacity="0.66" transform="rotate(-12 756.0 760.7)"/><rect x="769.4" y="736.7" width="1.7" height="1.1" fill="#ffffff" opacity="0.80" transform="rotate(-12 769.4 736.7)"/><rect x="776.3" y="734.9" width="2.4" height="1.1" fill="#ffffff" opacity="0.89" transform="rotate(-12 776.3 734.9)"/><rect x="631.3" y="677.6" width="2.5" height="1.1" fill="#ffffff" opacity="0.69" transform="rotate(-12 631.3 677.6)"/><rect x="634.1" y="679.7" width="3.4" height="1.1" fill="#ffffff" opacity="0.74" transform="rotate(-12 634.1 679.7)"/><rect x="641.8" y="679.6" width="2.9" height="1.1" fill="#ffffff" opacity="0.81" transform="rotate(-12 641.8 679.6)"/><rect x="642.4" y="679.3" width="2.2" height="1.1" fill="#ffffff" opacity="0.88" transform="rotate(-12 642.4 679.3)"/><rect x="574.6" y="579.7" width="2.4" height="1.1" fill="#ffffff" opacity="0.78" transform="rotate(-12 574.6 579.7)"/><rect x="571.3" y="578.3" width="3.0" height="1.1" fill="#ffffff" opacity="0.50" transform="rotate(-12 571.3 578.3)"/><rect x="570.7" y="577.7" width="1.4" height="1.1" fill="#ffffff" opacity="0.87" transform="rotate(-12 570.7 577.7)"/><rect x="576.0" y="578.7" width="2.9" height="1.1" fill="#ffffff" opacity="0.68" transform="rotate(-12 576.0 578.7)"/><rect x="568.9" y="583.1" width="3.0" height="1.1" fill="#ffffff" opacity="0.62" transform="rotate(-12 568.9 583.1)"/><rect x="582.2" y="657.1" width="1.7" height="1.1" fill="#ffffff" opacity="0.59" transform="rotate(-12 582.2 657.1)"/><rect x="578.6" y="657.0" width="1.7" height="1.1" fill="#ffffff" opacity="0.81" transform="rotate(-12 578.6 657.0)"/><rect x="577.9" y="657.3" width="1.6" height="1.1" fill="#ffffff" opacity="0.52" transform="rotate(-12 577.9 657.3)"/><rect x="580.5" y="658.8" width="2.1" height="1.1" fill="#ffffff" opacity="0.56" transform="rotate(-12 580.5 658.8)"/><rect x="522.5" y="613.4" width="2.2" height="1.1" fill="#ffffff" opacity="0.53" transform="rotate(-12 522.5 613.4)"/><rect x="522.2" y="616.1" width="2.4" height="1.1" fill="#ffffff" opacity="0.87" transform="rotate(-12 522.2 616.1)"/><rect x="611.5" y="617.9" width="1.8" height="1.1" fill="#ffffff" opacity="0.90" transform="rotate(-12 611.5 617.9)"/><rect x="603.0" y="619.3" width="2.7" height="1.1" fill="#ffffff" opacity="0.89" transform="rotate(-12 603.0 619.3)"/><rect x="611.8" y="619.0" width="1.9" height="1.1" fill="#ffffff" opacity="0.61" transform="rotate(-12 611.8 619.0)"/><rect x="605.9" y="620.9" width="3.2" height="1.1" fill="#ffffff" opacity="0.79" transform="rotate(-12 605.9 620.9)"/><rect x="609.1" y="619.6" width="1.7" height="1.1" fill="#ffffff" opacity="0.94" transform="rotate(-12 609.1 619.6)"/><rect x="602.0" y="623.0" width="1.8" height="1.1" fill="#ffffff" opacity="0.59" transform="rotate(-12 602.0 623.0)"/><rect x="770.8" y="763.6" width="2.4" height="1.1" fill="#ffffff" opacity="0.57" transform="rotate(-12 770.8 763.6)"/><rect x="771.9" y="762.0" width="2.4" height="1.1" fill="#ffffff" opacity="0.84" transform="rotate(-12 771.9 762.0)"/><rect x="763.6" y="762.0" width="2.4" height="1.1" fill="#ffffff" opacity="0.63" transform="rotate(-12 763.6 762.0)"/><rect x="774.2" y="763.1" width="3.2" height="1.1" fill="#ffffff" opacity="0.85" transform="rotate(-12 774.2 763.1)"/><rect x="762.0" y="764.2" width="1.8" height="1.1" fill="#ffffff" opacity="0.64" transform="rotate(-12 762.0 764.2)"/><rect x="766.3" y="762.3" width="3.2" height="1.1" fill="#ffffff" opacity="0.66" transform="rotate(-12 766.3 762.3)"/><rect x="623.4" y="607.3" width="3.0" height="1.1" fill="#ffffff" opacity="0.87" transform="rotate(-12 623.4 607.3)"/><rect x="626.0" y="603.4" width="1.8" height="1.1" fill="#ffffff" opacity="0.76" transform="rotate(-12 626.0 603.4)"/><rect x="561.9" y="650.5" width="1.9" height="1.1" fill="#ffffff" opacity="0.77" transform="rotate(-12 561.9 650.5)"/><rect x="566.3" y="657.6" width="1.3" height="1.1" fill="#ffffff" opacity="0.74" transform="rotate(-12 566.3 657.6)"/><rect x="564.2" y="648.9" width="2.3" height="1.1" fill="#ffffff" opacity="0.89" transform="rotate(-12 564.2 648.9)"/><rect x="566.0" y="654.7" width="2.5" height="1.1" fill="#ffffff" opacity="0.65" transform="rotate(-12 566.0 654.7)"/><rect x="603.6" y="626.6" width="2.5" height="1.1" fill="#ffffff" opacity="0.78" transform="rotate(-12 603.6 626.6)"/><rect x="598.1" y="625.2" width="2.3" height="1.1" fill="#ffffff" opacity="0.86" transform="rotate(-12 598.1 625.2)"/><rect x="609.4" y="628.8" width="1.7" height="1.1" fill="#ffffff" opacity="0.58" transform="rotate(-12 609.4 628.8)"/><rect x="598.1" y="625.8" width="2.0" height="1.1" fill="#ffffff" opacity="0.54" transform="rotate(-12 598.1 625.8)"/><rect x="469.1" y="605.0" width="2.8" height="1.1" fill="#ffffff" opacity="0.59" transform="rotate(-12 469.1 605.0)"/><rect x="463.5" y="604.4" width="2.3" height="1.1" fill="#ffffff" opacity="0.79" transform="rotate(-12 463.5 604.4)"/><rect x="492.3" y="558.8" width="1.8" height="1.1" fill="#ffffff" opacity="0.81" transform="rotate(-12 492.3 558.8)"/><rect x="495.1" y="557.4" width="1.7" height="1.1" fill="#ffffff" opacity="0.84" transform="rotate(-12 495.1 557.4)"/><rect x="642.7" y="650.6" width="2.0" height="1.1" fill="#ffffff" opacity="0.61" transform="rotate(-12 642.7 650.6)"/><rect x="638.3" y="648.5" width="2.2" height="1.1" fill="#ffffff" opacity="0.70" transform="rotate(-12 638.3 648.5)"/><rect x="492.2" y="616.2" width="2.3" height="1.1" fill="#ffffff" opacity="0.56" transform="rotate(-12 492.2 616.2)"/><rect x="496.8" y="617.6" width="2.5" height="1.1" fill="#ffffff" opacity="0.92" transform="rotate(-12 496.8 617.6)"/>
<rect x="533.0" y="601.1" width="2.5" height="1.1" fill="#ffffff" opacity="0.77" transform="rotate(-12 533.0 601.1)"/><rect x="532.9" y="601.0" width="2.5" height="1.1" fill="#ffffff" opacity="0.59" transform="rotate(-12 532.9 601.0)"/><rect x="526.9" y="599.4" width="2.5" height="1.1" fill="#ffffff" opacity="0.68" transform="rotate(-12 526.9 599.4)"/><rect x="530.5" y="601.1" width="1.6" height="1.1" fill="#ffffff" opacity="0.92" transform="rotate(-12 530.5 601.1)"/><rect x="598.2" y="549.3" width="1.4" height="1.1" fill="#ffffff" opacity="0.85" transform="rotate(-12 598.2 549.3)"/><rect x="593.2" y="542.2" width="2.5" height="1.1" fill="#ffffff" opacity="0.91" transform="rotate(-12 593.2 542.2)"/><rect x="597.3" y="572.2" width="2.2" height="1.1" fill="#ffffff" opacity="0.92" transform="rotate(-12 597.3 572.2)"/><rect x="606.1" y="568.7" width="1.6" height="1.1" fill="#ffffff" opacity="0.60" transform="rotate(-12 606.1 568.7)"/><rect x="609.7" y="568.9" width="2.6" height="1.1" fill="#ffffff" opacity="0.64" transform="rotate(-12 609.7 568.9)"/><rect x="599.5" y="569.4" width="2.0" height="1.1" fill="#ffffff" opacity="0.76" transform="rotate(-12 599.5 569.4)"/><rect x="595.1" y="566.7" width="2.7" height="1.1" fill="#ffffff" opacity="0.92" transform="rotate(-12 595.1 566.7)"/><rect x="831.7" y="445.9" width="2.4" height="1.1" fill="#ffffff" opacity="0.76" transform="rotate(-12 831.7 445.9)"/><rect x="838.9" y="450.2" width="2.6" height="1.1" fill="#ffffff" opacity="0.94" transform="rotate(-12 838.9 450.2)"/><rect x="832.9" y="449.3" width="2.3" height="1.1" fill="#ffffff" opacity="0.79" transform="rotate(-12 832.9 449.3)"/><rect x="639.9" y="529.8" width="1.9" height="1.1" fill="#ffffff" opacity="0.85" transform="rotate(-12 639.9 529.8)"/><rect x="643.4" y="528.5" width="2.6" height="1.1" fill="#ffffff" opacity="0.52" transform="rotate(-12 643.4 528.5)"/><rect x="736.8" y="464.2" width="2.0" height="1.1" fill="#ffffff" opacity="0.53" transform="rotate(-12 736.8 464.2)"/><rect x="753.8" y="464.1" width="1.7" height="1.1" fill="#ffffff" opacity="0.68" transform="rotate(-12 753.8 464.1)"/><rect x="752.6" y="463.5" width="1.4" height="1.1" fill="#ffffff" opacity="0.89" transform="rotate(-12 752.6 463.5)"/><rect x="749.9" y="470.3" width="3.2" height="1.1" fill="#ffffff" opacity="0.67" transform="rotate(-12 749.9 470.3)"/><rect x="633.5" y="539.9" width="3.3" height="1.1" fill="#ffffff" opacity="0.87" transform="rotate(-12 633.5 539.9)"/><rect x="633.5" y="544.5" width="2.8" height="1.1" fill="#ffffff" opacity="0.92" transform="rotate(-12 633.5 544.5)"/><rect x="630.9" y="541.7" width="1.9" height="1.1" fill="#ffffff" opacity="0.65" transform="rotate(-12 630.9 541.7)"/><rect x="638.0" y="533.8" width="2.0" height="1.1" fill="#ffffff" opacity="0.67" transform="rotate(-12 638.0 533.8)"/><rect x="632.2" y="540.3" width="2.6" height="1.1" fill="#ffffff" opacity="0.65" transform="rotate(-12 632.2 540.3)"/><rect x="627.7" y="545.4" width="2.6" height="1.1" fill="#ffffff" opacity="0.63" transform="rotate(-12 627.7 545.4)"/><rect x="653.4" y="534.8" width="2.3" height="1.1" fill="#ffffff" opacity="0.77" transform="rotate(-12 653.4 534.8)"/><rect x="647.7" y="537.4" width="2.0" height="1.1" fill="#ffffff" opacity="0.67" transform="rotate(-12 647.7 537.4)"/><rect x="702.6" y="499.8" width="3.3" height="1.1" fill="#ffffff" opacity="0.81" transform="rotate(-12 702.6 499.8)"/><rect x="699.3" y="499.2" width="2.7" height="1.1" fill="#ffffff" opacity="0.62" transform="rotate(-12 699.3 499.2)"/><rect x="691.8" y="500.3" width="2.7" height="1.1" fill="#ffffff" opacity="0.54" transform="rotate(-12 691.8 500.3)"/><rect x="685.5" y="493.4" width="2.7" height="1.1" fill="#ffffff" opacity="0.60" transform="rotate(-12 685.5 493.4)"/><rect x="700.0" y="491.1" width="1.5" height="1.1" fill="#ffffff" opacity="0.83" transform="rotate(-12 700.0 491.1)"/><rect x="519.4" y="610.0" width="2.4" height="1.1" fill="#ffffff" opacity="0.59" transform="rotate(-12 519.4 610.0)"/><rect x="522.3" y="604.2" width="1.7" height="1.1" fill="#ffffff" opacity="0.63" transform="rotate(-12 522.3 604.2)"/><rect x="521.5" y="605.4" width="3.0" height="1.1" fill="#ffffff" opacity="0.66" transform="rotate(-12 521.5 605.4)"/><rect x="521.9" y="610.2" width="3.0" height="1.1" fill="#ffffff" opacity="0.62" transform="rotate(-12 521.9 610.2)"/><rect x="576.6" y="568.5" width="2.2" height="1.1" fill="#ffffff" opacity="0.59" transform="rotate(-12 576.6 568.5)"/><rect x="568.5" y="569.5" width="2.6" height="1.1" fill="#ffffff" opacity="0.73" transform="rotate(-12 568.5 569.5)"/><rect x="564.2" y="566.2" width="2.8" height="1.1" fill="#ffffff" opacity="0.51" transform="rotate(-12 564.2 566.2)"/><rect x="569.8" y="569.9" width="2.9" height="1.1" fill="#ffffff" opacity="0.93" transform="rotate(-12 569.8 569.9)"/><rect x="567.7" y="567.4" width="3.1" height="1.1" fill="#ffffff" opacity="0.89" transform="rotate(-12 567.7 567.4)"/><rect x="882.6" y="390.3" width="2.8" height="1.1" fill="#ffffff" opacity="0.92" transform="rotate(-12 882.6 390.3)"/><rect x="880.7" y="385.5" width="2.5" height="1.1" fill="#ffffff" opacity="0.51" transform="rotate(-12 880.7 385.5)"/><rect x="872.1" y="387.2" width="1.9" height="1.1" fill="#ffffff" opacity="0.80" transform="rotate(-12 872.1 387.2)"/><rect x="665.5" y="520.8" width="3.3" height="1.1" fill="#ffffff" opacity="0.74" transform="rotate(-12 665.5 520.8)"/><rect x="664.2" y="519.1" width="1.8" height="1.1" fill="#ffffff" opacity="0.55" transform="rotate(-12 664.2 519.1)"/><rect x="665.4" y="519.1" width="1.8" height="1.1" fill="#ffffff" opacity="0.62" transform="rotate(-12 665.4 519.1)"/><rect x="665.5" y="519.1" width="3.2" height="1.1" fill="#ffffff" opacity="0.72" transform="rotate(-12 665.5 519.1)"/><rect x="658.9" y="518.9" width="2.9" height="1.1" fill="#ffffff" opacity="0.61" transform="rotate(-12 658.9 518.9)"/><rect x="659.0" y="517.9" width="1.4" height="1.1" fill="#ffffff" opacity="0.65" transform="rotate(-12 659.0 517.9)"/><rect x="814.5" y="454.0" width="2.3" height="1.1" fill="#ffffff" opacity="0.51" transform="rotate(-12 814.5 454.0)"/><rect x="811.6" y="450.9" width="2.3" height="1.1" fill="#ffffff" opacity="0.57" transform="rotate(-12 811.6 450.9)"/><rect x="817.4" y="454.9" width="2.1" height="1.1" fill="#ffffff" opacity="0.64" transform="rotate(-12 817.4 454.9)"/><rect x="553.7" y="611.6" width="2.8" height="1.1" fill="#ffffff" opacity="0.67" transform="rotate(-12 553.7 611.6)"/><rect x="551.9" y="610.2" width="2.1" height="1.1" fill="#ffffff" opacity="0.77" transform="rotate(-12 551.9 610.2)"/><rect x="550.2" y="607.0" width="3.0" height="1.1" fill="#ffffff" opacity="0.78" transform="rotate(-12 550.2 607.0)"/><rect x="544.8" y="610.4" width="2.3" height="1.1" fill="#ffffff" opacity="0.82" transform="rotate(-12 544.8 610.4)"/><rect x="542.4" y="611.2" width="2.3" height="1.1" fill="#ffffff" opacity="0.61" transform="rotate(-12 542.4 611.2)"/><rect x="675.0" y="524.3" width="1.6" height="1.1" fill="#ffffff" opacity="0.51" transform="rotate(-12 675.0 524.3)"/><rect x="667.9" y="531.9" width="2.5" height="1.1" fill="#ffffff" opacity="0.89" transform="rotate(-12 667.9 531.9)"/><rect x="476.8" y="635.4" width="2.8" height="1.1" fill="#ffffff" opacity="0.75" transform="rotate(-12 476.8 635.4)"/><rect x="480.2" y="641.0" width="1.3" height="1.1" fill="#ffffff" opacity="0.56" transform="rotate(-12 480.2 641.0)"/><rect x="475.1" y="638.3" width="1.5" height="1.1" fill="#ffffff" opacity="0.54" transform="rotate(-12 475.1 638.3)"/><rect x="477.2" y="637.9" width="1.3" height="1.1" fill="#ffffff" opacity="0.88" transform="rotate(-12 477.2 637.9)"/><rect x="481.9" y="642.3" width="2.7" height="1.1" fill="#ffffff" opacity="0.88" transform="rotate(-12 481.9 642.3)"/><rect x="481.2" y="638.0" width="3.0" height="1.1" fill="#ffffff" opacity="0.52" transform="rotate(-12 481.2 638.0)"/><rect x="788.2" y="459.5" width="3.3" height="1.1" fill="#ffffff" opacity="0.53" transform="rotate(-12 788.2 459.5)"/><rect x="778.8" y="459.8" width="3.0" height="1.1" fill="#ffffff" opacity="0.61" transform="rotate(-12 778.8 459.8)"/><rect x="783.3" y="458.6" width="2.6" height="1.1" fill="#ffffff" opacity="0.84" transform="rotate(-12 783.3 458.6)"/><rect x="605.6" y="553.1" width="3.3" height="1.1" fill="#ffffff" opacity="0.67" transform="rotate(-12 605.6 553.1)"/><rect x="600.7" y="560.0" width="3.1" height="1.1" fill="#ffffff" opacity="0.94" transform="rotate(-12 600.7 560.0)"/><rect x="594.1" y="555.9" width="2.5" height="1.1" fill="#ffffff" opacity="0.92" transform="rotate(-12 594.1 555.9)"/><rect x="598.5" y="552.9" width="2.1" height="1.1" fill="#ffffff" opacity="0.90" transform="rotate(-12 598.5 552.9)"/><rect x="602.7" y="556.8" width="2.3" height="1.1" fill="#ffffff" opacity="0.81" transform="rotate(-12 602.7 556.8)"/><rect x="876.5" y="412.4" width="1.6" height="1.1" fill="#ffffff" opacity="0.73" transform="rotate(-12 876.5 412.4)"/><rect x="880.0" y="407.3" width="2.4" height="1.1" fill="#ffffff" opacity="0.85" transform="rotate(-12 880.0 407.3)"/><rect x="866.4" y="404.9" width="2.5" height="1.1" fill="#ffffff" opacity="0.76" transform="rotate(-12 866.4 404.9)"/><rect x="898.1" y="410.4" width="2.1" height="1.1" fill="#ffffff" opacity="0.58" transform="rotate(-12 898.1 410.4)"/><rect x="889.6" y="411.7" width="2.9" height="1.1" fill="#ffffff" opacity="0.56" transform="rotate(-12 889.6 411.7)"/><rect x="898.1" y="409.8" width="2.6" height="1.1" fill="#ffffff" opacity="0.71" transform="rotate(-12 898.1 409.8)"/><rect x="897.1" y="406.0" width="2.5" height="1.1" fill="#ffffff" opacity="0.72" transform="rotate(-12 897.1 406.0)"/><rect x="767.7" y="475.7" width="1.4" height="1.1" fill="#ffffff" opacity="0.91" transform="rotate(-12 767.7 475.7)"/><rect x="771.2" y="478.5" width="2.9" height="1.1" fill="#ffffff" opacity="0.53" transform="rotate(-12 771.2 478.5)"/><rect x="766.3" y="482.6" width="3.2" height="1.1" fill="#ffffff" opacity="0.85" transform="rotate(-12 766.3 482.6)"/><rect x="770.1" y="483.4" width="2.7" height="1.1" fill="#ffffff" opacity="0.52" transform="rotate(-12 770.1 483.4)"/><rect x="768.4" y="480.1" width="1.4" height="1.1" fill="#ffffff" opacity="0.58" transform="rotate(-12 768.4 480.1)"/><rect x="470.1" y="653.4" width="1.9" height="1.1" fill="#ffffff" opacity="0.66" transform="rotate(-12 470.1 653.4)"/><rect x="455.7" y="649.0" width="1.3" height="1.1" fill="#ffffff" opacity="0.65" transform="rotate(-12 455.7 649.0)"/><rect x="617.2" y="543.3" width="2.3" height="1.1" fill="#ffffff" opacity="0.56" transform="rotate(-12 617.2 543.3)"/><rect x="617.9" y="551.2" width="1.5" height="1.1" fill="#ffffff" opacity="0.69" transform="rotate(-12 617.9 551.2)"/><rect x="616.6" y="547.6" width="1.8" height="1.1" fill="#ffffff" opacity="0.74" transform="rotate(-12 616.6 547.6)"/><rect x="752.9" y="478.4" width="2.7" height="1.1" fill="#ffffff" opacity="0.79" transform="rotate(-12 752.9 478.4)"/><rect x="754.1" y="478.6" width="2.9" height="1.1" fill="#ffffff" opacity="0.93" transform="rotate(-12 754.1 478.6)"/><rect x="749.8" y="477.7" width="1.5" height="1.1" fill="#ffffff" opacity="0.72" transform="rotate(-12 749.8 477.7)"/><rect x="747.9" y="483.7" width="2.7" height="1.1" fill="#ffffff" opacity="0.75" transform="rotate(-12 747.9 483.7)"/>
</g>
<polygon points="730.4,798.4 1193.8,533.3 1156.0,596.0 796.5,803.7 743.0,800.1" fill="url(#gTeal)" />
<polygon points="1193.8,533.3 1213.7,512.4 1232.6,503.4 1232.6,514.0 1190.0,540.0" fill="#8b8467" />
<polygon points="1232.6,497.0 1300.0,420.0 1700.0,196.0 1737.6,211.0 1737.6,220.0 1232.6,509.4" fill="#4d5d40" />
<polygon points="889.4,358.8 912.9,337.6 933.0,326.0 1232.6,503.4 1213.7,512.4 1193.8,533.3" fill="#f9eed7" />
<path d="M912.9,337.6 L933,326  C935.8,327.2 944.5,330.3 950.0,333.0 C955.5,335.7 960.2,339.3 966.0,342.0 C971.8,344.7 979.7,347.0 985.0,349.0 C990.3,351.0 994.5,352.2 998.0,354.0 C1001.5,355.8 1003.5,357.8 1006.0,360.0 C1008.5,362.2 1009.7,365.3 1013.0,367.5 C1016.3,369.7 1021.7,371.2 1026.0,373.0 C1030.3,374.8 1034.7,375.8 1039.0,378.0 C1043.3,380.2 1047.7,382.9 1052.0,386.0 C1056.3,389.1 1061.2,393.3 1065.0,396.5 C1068.8,399.7 1071.9,402.4 1075.0,405.0 C1078.1,407.6 1079.3,409.3 1083.5,412.0 C1087.7,414.7 1094.1,417.8 1100.0,421.0 C1105.9,424.2 1112.3,428.3 1119.0,431.0 C1125.7,433.7 1134.2,435.2 1140.0,437.0 C1145.8,438.8 1150.5,439.7 1154.0,442.0 C1157.5,444.3 1158.7,448.0 1161.0,451.0 C1163.3,454.0 1164.0,457.3 1168.0,460.0 C1172.0,462.7 1179.5,464.7 1185.0,467.0 C1190.5,469.3 1196.3,471.7 1201.0,474.0 C1205.7,476.3 1209.8,478.7 1213.0,481.0 C1216.2,483.3 1217.7,485.5 1220.0,488.0 C1222.3,490.5 1224.9,493.7 1227.0,496.0 C1229.1,498.3 1231.7,501.0 1232.6,502.0 L1213,511.8 Z" fill="#f5e3c1"/>
<polyline points="889.4,358.8 891.9,361.2 894.5,361.1 897.0,362.6 899.5,365.6 902.1,366.0 904.6,366.6 907.2,369.6 909.7,370.9 912.2,370.9 914.8,373.5 917.3,375.7 919.8,375.5 922.4,377.3 924.9,380.2 927.4,380.4 930.0,381.2 932.5,384.3 935.1,385.3 937.6,385.4 940.1,388.2 942.7,390.1 945.2,390.0 947.7,392.0 950.3,394.7 952.8,394.8 955.4,395.8 957.9,398.9 960.4,399.7 963.0,400.0 965.5,402.9 968.0,404.6 970.6,404.4 973.1,406.7 975.6,409.2 978.2,409.2 980.7,410.5 983.3,413.5 985.8,414.1 988.3,414.5 990.9,417.5 993.4,419.0 995.9,418.9 998.5,421.3 1001.0,423.7 1003.5,423.6 1006.1,425.2 1008.6,428.1 1011.2,428.5 1013.7,429.1 1016.2,432.2 1018.8,433.4 1021.3,433.4 1023.8,436.0 1026.4,438.2 1028.9,438.0 1031.5,439.8 1034.0,442.7 1036.5,442.9 1039.1,443.8 1041.6,446.8 1044.1,447.8 1046.7,448.0 1049.2,450.7 1051.7,452.7 1054.3,452.5 1056.8,454.5 1059.4,457.2 1061.9,457.3 1064.4,458.4 1067.0,461.5 1069.5,462.2 1072.0,462.5 1074.6,465.4 1077.1,467.1 1079.7,467.0 1082.2,469.2 1084.7,471.7 1087.3,471.7 1089.8,473.0 1092.3,476.1 1094.9,476.6 1097.4,477.1 1099.9,480.1 1102.5,481.5 1105.0,481.4 1107.6,483.9 1110.1,486.2 1112.6,486.1 1115.2,487.7 1117.7,490.7 1120.2,491.0 1122.8,491.7 1125.3,494.7 1127.8,495.9 1130.4,496.0 1132.9,498.6 1135.5,500.7 1138.0,500.6 1140.5,502.4 1143.1,505.2 1145.6,505.4 1148.1,506.3 1150.7,509.4 1153.2,510.3 1155.8,510.5 1158.3,513.3 1160.8,515.2 1163.4,515.0 1165.9,517.1 1168.4,519.8 1171.0,519.8 1173.5,520.9 1176.0,524.0 1178.6,524.7 1181.1,525.0 1183.7,528.0 1186.2,529.6 1188.7,529.5 1191.3,531.8 1193.8,534.3" stroke="#ffffff" stroke-width="2.2" fill="none"/>
<path d="M933.9,327.0 L1230.1,155.8 L1242.5,145.0 L1258.0,138.8 L1279.5,126.5 L1284.0,119.4 L1328.9,94.0 L1381.3,66.3 L1399.8,50.9 L1435.3,37.0 L1737.6,211.0 L1637.4,259.3 L1620.6,277.6 L1582.6,300.9 L1571.4,302.0 L1567.2,307.1 L1529.2,330.4 L1523.6,331.0 L1519.4,335.2 L1466.0,366.7 L1459.0,367.5 L1454.8,373.1 L1232.8,499.6 L1232.6,502.0  C1231.7,501.0 1229.1,498.3 1227.0,496.0 C1224.9,493.7 1222.3,490.5 1220.0,488.0 C1217.7,485.5 1216.2,483.3 1213.0,481.0 C1209.8,478.7 1205.7,476.3 1201.0,474.0 C1196.3,471.7 1190.5,469.3 1185.0,467.0 C1179.5,464.7 1172.0,462.7 1168.0,460.0 C1164.0,457.3 1163.3,454.0 1161.0,451.0 C1158.7,448.0 1157.5,444.3 1154.0,442.0 C1150.5,439.7 1145.8,438.8 1140.0,437.0 C1134.2,435.2 1125.7,433.7 1119.0,431.0 C1112.3,428.3 1105.9,424.2 1100.0,421.0 C1094.1,417.8 1087.7,414.7 1083.5,412.0 C1079.3,409.3 1078.1,407.6 1075.0,405.0 C1071.9,402.4 1068.8,399.7 1065.0,396.5 C1061.2,393.3 1056.3,389.1 1052.0,386.0 C1047.7,382.9 1043.3,380.2 1039.0,378.0 C1034.7,375.8 1030.3,374.8 1026.0,373.0 C1021.7,371.2 1016.3,369.7 1013.0,367.5 C1009.7,365.3 1008.5,362.2 1006.0,360.0 C1003.5,357.8 1001.5,355.8 998.0,354.0 C994.5,352.2 990.3,351.0 985.0,349.0 C979.7,347.0 971.8,344.7 966.0,342.0 C960.2,339.3 955.5,335.7 950.0,333.0 C944.5,330.3 935.8,327.2 933.0,326.0 Z" fill="url(#gGrassV)"/>
<polygon points="1007.1,326.3 1008.6,321.3 1008.6,326.7" fill="#9aab45" /><polygon points="1008.6,321.3 1010.1,326.3 1008.6,326.7" fill="#7a8a30" /><polygon points="1005.8,331.7 1007.3,326.7 1007.3,332.1" fill="#9aab45" /><polygon points="1007.3,326.7 1008.8,331.7 1007.3,332.1" fill="#7a8a30" /><polygon points="1010.7,330.6 1012.2,326.1 1012.2,331.0" fill="#9aab45" /><polygon points="1012.2,326.1 1013.7,330.6 1012.2,331.0" fill="#7a8a30" /><polygon points="1000.1,334.4 1001.6,327.4 1001.6,334.8" fill="#9aab45" /><polygon points="1001.6,327.4 1003.1,334.4 1001.6,334.8" fill="#7a8a30" /><polygon points="1002.8,333.9 1004.3,327.4 1004.3,334.3" fill="#9aab45" /><polygon points="1004.3,327.4 1005.8,333.9 1004.3,334.3" fill="#7a8a30" /><polygon points="1004.7,335.0 1006.2,327.5 1006.2,335.4" fill="#9aab45" /><polygon points="1006.2,327.5 1007.7,335.0 1006.2,335.4" fill="#7a8a30" /><polygon points="997.9,336.6 999.4,330.6 999.4,337.0" fill="#9aab45" /><polygon points="999.4,330.6 1000.9,336.6 999.4,337.0" fill="#7a8a30" /><polygon points="1001.7,337.2 1003.2,333.7 1003.2,337.6" fill="#9aab45" /><polygon points="1003.2,333.7 1004.7,337.2 1003.2,337.6" fill="#7a8a30" /><polygon points="995.5,340.4 997.0,335.5 997.0,340.8" fill="#9aab45" /><polygon points="997.0,335.5 998.5,340.4 997.0,340.8" fill="#7a8a30" />
<polygon points="1037.6,348.0 1039.1,343.0 1039.1,348.4" fill="#9aab45" /><polygon points="1039.1,343.0 1040.6,348.0 1039.1,348.4" fill="#7a8a30" /><polygon points="1036.3,353.4 1037.8,348.4 1037.8,353.8" fill="#9aab45" /><polygon points="1037.8,348.4 1039.3,353.4 1037.8,353.8" fill="#7a8a30" /><polygon points="1041.2,352.3 1042.7,347.8 1042.7,352.7" fill="#9aab45" /><polygon points="1042.7,347.8 1044.2,352.3 1042.7,352.7" fill="#7a8a30" /><polygon points="1030.6,356.1 1032.1,349.1 1032.1,356.5" fill="#9aab45" /><polygon points="1032.1,349.1 1033.6,356.1 1032.1,356.5" fill="#7a8a30" /><polygon points="1033.3,355.6 1034.8,349.1 1034.8,356.0" fill="#9aab45" /><polygon points="1034.8,349.1 1036.3,355.6 1034.8,356.0" fill="#7a8a30" /><polygon points="1035.2,356.7 1036.7,349.2 1036.7,357.1" fill="#9aab45" /><polygon points="1036.7,349.2 1038.2,356.7 1036.7,357.1" fill="#7a8a30" /><polygon points="1028.4,358.3 1029.9,352.3 1029.9,358.7" fill="#9aab45" /><polygon points="1029.9,352.3 1031.4,358.3 1029.9,358.7" fill="#7a8a30" /><polygon points="1032.2,358.9 1033.7,355.4 1033.7,359.3" fill="#9aab45" /><polygon points="1033.7,355.4 1035.2,358.9 1033.7,359.3" fill="#7a8a30" /><polygon points="1026.0,362.1 1027.5,357.2 1027.5,362.5" fill="#9aab45" /><polygon points="1027.5,357.2 1029.0,362.1 1027.5,362.5" fill="#7a8a30" />
<polygon points="1178.6,422.4 1180.1,417.4 1180.1,422.8" fill="#9aab45" /><polygon points="1180.1,417.4 1181.6,422.4 1180.1,422.8" fill="#7a8a30" /><polygon points="1177.3,427.8 1178.8,422.8 1178.8,428.2" fill="#9aab45" /><polygon points="1178.8,422.8 1180.3,427.8 1178.8,428.2" fill="#7a8a30" /><polygon points="1182.2,426.7 1183.7,422.2 1183.7,427.1" fill="#9aab45" /><polygon points="1183.7,422.2 1185.2,426.7 1183.7,427.1" fill="#7a8a30" /><polygon points="1171.6,430.5 1173.1,423.5 1173.1,430.9" fill="#9aab45" /><polygon points="1173.1,423.5 1174.6,430.5 1173.1,430.9" fill="#7a8a30" /><polygon points="1174.3,430.0 1175.8,423.5 1175.8,430.4" fill="#9aab45" /><polygon points="1175.8,423.5 1177.3,430.0 1175.8,430.4" fill="#7a8a30" /><polygon points="1176.2,431.1 1177.7,423.6 1177.7,431.5" fill="#9aab45" /><polygon points="1177.7,423.6 1179.2,431.1 1177.7,431.5" fill="#7a8a30" /><polygon points="1169.4,432.7 1170.9,426.7 1170.9,433.1" fill="#9aab45" /><polygon points="1170.9,426.7 1172.4,432.7 1170.9,433.1" fill="#7a8a30" /><polygon points="1173.2,433.3 1174.7,429.8 1174.7,433.7" fill="#9aab45" /><polygon points="1174.7,429.8 1176.2,433.3 1174.7,433.7" fill="#7a8a30" /><polygon points="1167.0,436.5 1168.5,431.6 1168.5,436.9" fill="#9aab45" /><polygon points="1168.5,431.6 1170.0,436.5 1168.5,436.9" fill="#7a8a30" />
<polygon points="1210.6,444.4 1212.1,439.4 1212.1,444.8" fill="#9aab45" /><polygon points="1212.1,439.4 1213.6,444.4 1212.1,444.8" fill="#7a8a30" /><polygon points="1209.3,449.8 1210.8,444.8 1210.8,450.2" fill="#9aab45" /><polygon points="1210.8,444.8 1212.3,449.8 1210.8,450.2" fill="#7a8a30" /><polygon points="1214.2,448.7 1215.7,444.2 1215.7,449.1" fill="#9aab45" /><polygon points="1215.7,444.2 1217.2,448.7 1215.7,449.1" fill="#7a8a30" /><polygon points="1203.6,452.5 1205.1,445.5 1205.1,452.9" fill="#9aab45" /><polygon points="1205.1,445.5 1206.6,452.5 1205.1,452.9" fill="#7a8a30" /><polygon points="1206.3,452.0 1207.8,445.5 1207.8,452.4" fill="#9aab45" /><polygon points="1207.8,445.5 1209.3,452.0 1207.8,452.4" fill="#7a8a30" /><polygon points="1208.2,453.1 1209.7,445.6 1209.7,453.5" fill="#9aab45" /><polygon points="1209.7,445.6 1211.2,453.1 1209.7,453.5" fill="#7a8a30" /><polygon points="1201.4,454.7 1202.9,448.7 1202.9,455.1" fill="#9aab45" /><polygon points="1202.9,448.7 1204.4,454.7 1202.9,455.1" fill="#7a8a30" /><polygon points="1205.2,455.3 1206.7,451.8 1206.7,455.7" fill="#9aab45" /><polygon points="1206.7,451.8 1208.2,455.3 1206.7,455.7" fill="#7a8a30" /><polygon points="1199.0,458.5 1200.5,453.6 1200.5,458.9" fill="#9aab45" /><polygon points="1200.5,453.6 1202.0,458.5 1200.5,458.9" fill="#7a8a30" />
<polyline points="520.0,719.7 587.0,724.7 954.0,510.7 993.0,444.7 1014.0,428.7" stroke="#4a8fcf" stroke-width="2.4" fill="none" stroke-dasharray="2.2 4" stroke-linecap="round"/>
<polyline points="520.0,719.0 587.0,724.0 954.0,510.0 993.0,444.0 1014.0,428.0" stroke="#b7837b" stroke-width="2.2" fill="none" stroke-dasharray="2.2 4" stroke-linecap="round"/>
<polyline points="535.0,725.7 599.0,731.7 967.0,519.7 1001.0,455.7 1025.0,435.7" stroke="#4a8fcf" stroke-width="2.4" fill="none" stroke-dasharray="2.2 4" stroke-linecap="round"/>
<polyline points="535.0,725.0 599.0,731.0 967.0,519.0 1001.0,455.0 1025.0,435.0" stroke="#b7837b" stroke-width="2.2" fill="none" stroke-dasharray="2.2 4" stroke-linecap="round"/>
<polyline points="447.0,761.0 520.0,719.0" stroke="#f26b21" stroke-width="2.2" fill="none" stroke-dasharray="1.8 4.2" stroke-linecap="round"/>
<polyline points="458.0,768.0 535.0,725.0" stroke="#f26b21" stroke-width="2.2" fill="none" stroke-dasharray="1.8 4.2" stroke-linecap="round"/>
<polyline points="1014.0,428.0 1332.0,245.0" stroke="#f26b21" stroke-width="2.2" fill="none" stroke-dasharray="1.8 4.2" stroke-linecap="round"/>
<polyline points="1025.0,435.0 1344.0,251.0" stroke="#f26b21" stroke-width="2.2" fill="none" stroke-dasharray="1.8 4.2" stroke-linecap="round"/>
<polygon points="1088.1,384.0 1102.0,392.0 1102.0,387.0 1088.1,379.0" fill="#e7d7d0" /><polygon points="1102.0,392.0 1112.4,386.0 1112.4,381.0 1102.0,387.0" fill="#d3bfb7" /><polygon points="1102.0,387.0 1112.4,381.0 1098.5,373.0 1088.1,379.0" fill="#c9a4a8" />

<polygon points="596,596.5 653,625 655.5,623.5 598,595" fill="#bccdd0" opacity="0.8"/>
<polygon points="590.8,589 647,609 655,618.2 650.5,622.2 592.5,594" fill="#1e6b85"/>
<polyline points="592.6,593.6 650.5,621.7" stroke="#c0323c" stroke-width="1.1" fill="none"/>
<polygon points="591,588.8 600,584.5 646,606.5 647,609" fill="#d8dce1"/>
<polygon points="607,594 624.4,594 624.4,600.5 607,600.5" fill="#b9bec5"/>
<ellipse cx="615.8" cy="594.3" rx="8.6" ry="5.4" fill="#f3d61c"/>
<ellipse cx="615.8" cy="594.3" rx="5" ry="3.2" fill="#2c3745"/>
<ellipse cx="615.8" cy="594.3" rx="3.9" ry="2.4" fill="#cdd1d6"/>
<polygon points="601,590 606,588 607,594 602,596" fill="#4f7fc0"/>
<polyline points="593.5,583 598.5,578.5 601,580.5" stroke="#f2b21d" stroke-width="1.3" fill="none"/>
<line x1="599" y1="580" x2="599" y2="589" stroke="#f2b21d" stroke-width="1.6"/>
<polygon points="625,597 633,593 645,599 637,603.5" fill="#eef0f2"/>
<polygon points="625,597 637,603.5 637,610.5 625,604" fill="#dde1e5"/>
<polygon points="637,603.5 645,599 645,605.5 637,610.5" fill="#b4bcc5"/>
<polyline points="626,600 636.5,605.8" stroke="#3b4a58" stroke-width="0.8" fill="none"/>
<rect x="630" y="589" width="3.4" height="7" fill="#177a90"/>
<rect x="630.6" y="588" width="2.2" height="2.2" fill="#244a5c"/>

<path transform="translate(841,459) rotate(9) scale(1.0)" d="M0,0 Q3,-2 9,-1 L15,0.8 L17.5,-1.2 L17,1.6 L18.5,3.8 L15.5,2.4 Q8,2.6 3.5,1.8 L3,4 L1.8,1.6 Z" fill="#22929a"/>
<path transform="translate(843,467.8) rotate(9) scale(1.0)" d="M0,0 Q3,-2 9,-1 L15,0.8 L17.5,-1.2 L17,1.6 L18.5,3.8 L15.5,2.4 Q8,2.6 3.5,1.8 L3,4 L1.8,1.6 Z" fill="#22929a"/>
<path transform="translate(827,470.3) rotate(9) scale(1.0)" d="M0,0 Q3,-2 9,-1 L15,0.8 L17.5,-1.2 L17,1.6 L18.5,3.8 L15.5,2.4 Q8,2.6 3.5,1.8 L3,4 L1.8,1.6 Z" fill="#22929a"/>
<polygon points="400.0,736.0 221.0,840.0 221.0,834.5 400.0,730.5" fill="#eef3d8" opacity="0.3"/><polygon points="221.0,840.0 300.0,891.0 300.0,885.5 221.0,834.5" fill="#eef3d8" opacity="0.3"/><polygon points="300.0,891.0 483.0,787.0 483.0,781.5 300.0,885.5" fill="#eef3d8" opacity="0.3"/><polygon points="483.0,787.0 400.0,736.0 400.0,730.5 483.0,781.5" fill="#eef3d8" opacity="0.3"/><line x1="400.0" y1="730.5" x2="221.0" y2="834.5" stroke="#f3eee2" stroke-width="0.8" opacity="0.85"/><line x1="400.0" y1="736.0" x2="221.0" y2="840.0" stroke="#b7c77a" stroke-width="0.8"/><line x1="400.0" y1="736.0" x2="400.0" y2="730.5" stroke="#efe9dc" stroke-width="0.7" opacity="0.8"/><line x1="393.8" y1="739.6" x2="393.8" y2="734.1" stroke="#efe9dc" stroke-width="0.7" opacity="0.8"/><line x1="387.7" y1="743.2" x2="387.7" y2="737.7" stroke="#efe9dc" stroke-width="0.7" opacity="0.8"/><line x1="381.5" y1="746.8" x2="381.5" y2="741.3" stroke="#efe9dc" stroke-width="0.7" opacity="0.8"/><line x1="375.3" y1="750.3" x2="375.3" y2="744.8" stroke="#efe9dc" stroke-width="0.7" opacity="0.8"/><line x1="369.1" y1="753.9" x2="369.1" y2="748.4" stroke="#efe9dc" stroke-width="0.7" opacity="0.8"/><line x1="363.0" y1="757.5" x2="363.0" y2="752.0" stroke="#efe9dc" stroke-width="0.7" opacity="0.8"/><line x1="356.8" y1="761.1" x2="356.8" y2="755.6" stroke="#efe9dc" stroke-width="0.7" opacity="0.8"/><line x1="350.6" y1="764.7" x2="350.6" y2="759.2" stroke="#efe9dc" stroke-width="0.7" opacity="0.8"/><line x1="344.4" y1="768.3" x2="344.4" y2="762.8" stroke="#efe9dc" stroke-width="0.7" opacity="0.8"/><line x1="338.3" y1="771.9" x2="338.3" y2="766.4" stroke="#efe9dc" stroke-width="0.7" opacity="0.8"/><line x1="332.1" y1="775.4" x2="332.1" y2="769.9" stroke="#efe9dc" stroke-width="0.7" opacity="0.8"/><line x1="325.9" y1="779.0" x2="325.9" y2="773.5" stroke="#efe9dc" stroke-width="0.7" opacity="0.8"/><line x1="319.8" y1="782.6" x2="319.8" y2="777.1" stroke="#efe9dc" stroke-width="0.7" opacity="0.8"/><line x1="313.6" y1="786.2" x2="313.6" y2="780.7" stroke="#efe9dc" stroke-width="0.7" opacity="0.8"/><line x1="307.4" y1="789.8" x2="307.4" y2="784.3" stroke="#efe9dc" stroke-width="0.7" opacity="0.8"/><line x1="301.2" y1="793.4" x2="301.2" y2="787.9" stroke="#efe9dc" stroke-width="0.7" opacity="0.8"/><line x1="295.1" y1="797.0" x2="295.1" y2="791.5" stroke="#efe9dc" stroke-width="0.7" opacity="0.8"/><line x1="288.9" y1="800.6" x2="288.9" y2="795.1" stroke="#efe9dc" stroke-width="0.7" opacity="0.8"/><line x1="282.7" y1="804.1" x2="282.7" y2="798.6" stroke="#efe9dc" stroke-width="0.7" opacity="0.8"/><line x1="276.6" y1="807.7" x2="276.6" y2="802.2" stroke="#efe9dc" stroke-width="0.7" opacity="0.8"/><line x1="270.4" y1="811.3" x2="270.4" y2="805.8" stroke="#efe9dc" stroke-width="0.7" opacity="0.8"/><line x1="264.2" y1="814.9" x2="264.2" y2="809.4" stroke="#efe9dc" stroke-width="0.7" opacity="0.8"/><line x1="258.0" y1="818.5" x2="258.0" y2="813.0" stroke="#efe9dc" stroke-width="0.7" opacity="0.8"/><line x1="251.9" y1="822.1" x2="251.9" y2="816.6" stroke="#efe9dc" stroke-width="0.7" opacity="0.8"/><line x1="245.7" y1="825.7" x2="245.7" y2="820.2" stroke="#efe9dc" stroke-width="0.7" opacity="0.8"/><line x1="239.5" y1="829.2" x2="239.5" y2="823.7" stroke="#efe9dc" stroke-width="0.7" opacity="0.8"/><line x1="233.3" y1="832.8" x2="233.3" y2="827.3" stroke="#efe9dc" stroke-width="0.7" opacity="0.8"/><line x1="227.2" y1="836.4" x2="227.2" y2="830.9" stroke="#efe9dc" stroke-width="0.7" opacity="0.8"/><line x1="221.0" y1="840.0" x2="221.0" y2="834.5" stroke="#efe9dc" stroke-width="0.7" opacity="0.8"/><line x1="221.0" y1="834.5" x2="300.0" y2="885.5" stroke="#f3eee2" stroke-width="0.8" opacity="0.85"/><line x1="221.0" y1="840.0" x2="300.0" y2="891.0" stroke="#b7c77a" stroke-width="0.8"/><line x1="221.0" y1="840.0" x2="221.0" y2="834.5" stroke="#efe9dc" stroke-width="0.7" opacity="0.8"/><line x1="227.1" y1="843.9" x2="227.1" y2="838.4" stroke="#efe9dc" stroke-width="0.7" opacity="0.8"/><line x1="233.2" y1="847.8" x2="233.2" y2="842.3" stroke="#efe9dc" stroke-width="0.7" opacity="0.8"/><line x1="239.2" y1="851.8" x2="239.2" y2="846.3" stroke="#efe9dc" stroke-width="0.7" opacity="0.8"/><line x1="245.3" y1="855.7" x2="245.3" y2="850.2" stroke="#efe9dc" stroke-width="0.7" opacity="0.8"/><line x1="251.4" y1="859.6" x2="251.4" y2="854.1" stroke="#efe9dc" stroke-width="0.7" opacity="0.8"/><line x1="257.5" y1="863.5" x2="257.5" y2="858.0" stroke="#efe9dc" stroke-width="0.7" opacity="0.8"/><line x1="263.5" y1="867.5" x2="263.5" y2="862.0" stroke="#efe9dc" stroke-width="0.7" opacity="0.8"/><line x1="269.6" y1="871.4" x2="269.6" y2="865.9" stroke="#efe9dc" stroke-width="0.7" opacity="0.8"/><line x1="275.7" y1="875.3" x2="275.7" y2="869.8" stroke="#efe9dc" stroke-width="0.7" opacity="0.8"/><line x1="281.8" y1="879.2" x2="281.8" y2="873.7" stroke="#efe9dc" stroke-width="0.7" opacity="0.8"/><line x1="287.8" y1="883.2" x2="287.8" y2="877.7" stroke="#efe9dc" stroke-width="0.7" opacity="0.8"/><line x1="293.9" y1="887.1" x2="293.9" y2="881.6" stroke="#efe9dc" stroke-width="0.7" opacity="0.8"/><line x1="300.0" y1="891.0" x2="300.0" y2="885.5" stroke="#efe9dc" stroke-width="0.7" opacity="0.8"/><line x1="300.0" y1="885.5" x2="483.0" y2="781.5" stroke="#f3eee2" stroke-width="0.8" opacity="0.85"/><line x1="300.0" y1="891.0" x2="483.0" y2="787.0" stroke="#b7c77a" stroke-width="0.8"/><line x1="300.0" y1="891.0" x2="300.0" y2="885.5" stroke="#efe9dc" stroke-width="0.7" opacity="0.8"/><line x1="306.1" y1="887.5" x2="306.1" y2="882.0" stroke="#efe9dc" stroke-width="0.7" opacity="0.8"/><line x1="312.2" y1="884.1" x2="312.2" y2="878.6" stroke="#efe9dc" stroke-width="0.7" opacity="0.8"/><line x1="318.3" y1="880.6" x2="318.3" y2="875.1" stroke="#efe9dc" stroke-width="0.7" opacity="0.8"/><line x1="324.4" y1="877.1" x2="324.4" y2="871.6" stroke="#efe9dc" stroke-width="0.7" opacity="0.8"/><line x1="330.5" y1="873.7" x2="330.5" y2="868.2" stroke="#efe9dc" stroke-width="0.7" opacity="0.8"/><line x1="336.6" y1="870.2" x2="336.6" y2="864.7" stroke="#efe9dc" stroke-width="0.7" opacity="0.8"/><line x1="342.7" y1="866.7" x2="342.7" y2="861.2" stroke="#efe9dc" stroke-width="0.7" opacity="0.8"/><line x1="348.8" y1="863.3" x2="348.8" y2="857.8" stroke="#efe9dc" stroke-width="0.7" opacity="0.8"/><line x1="354.9" y1="859.8" x2="354.9" y2="854.3" stroke="#efe9dc" stroke-width="0.7" opacity="0.8"/><line x1="361.0" y1="856.3" x2="361.0" y2="850.8" stroke="#efe9dc" stroke-width="0.7" opacity="0.8"/><line x1="367.1" y1="852.9" x2="367.1" y2="847.4" stroke="#efe9dc" stroke-width="0.7" opacity="0.8"/><line x1="373.2" y1="849.4" x2="373.2" y2="843.9" stroke="#efe9dc" stroke-width="0.7" opacity="0.8"/><line x1="379.3" y1="845.9" x2="379.3" y2="840.4" stroke="#efe9dc" stroke-width="0.7" opacity="0.8"/><line x1="385.4" y1="842.5" x2="385.4" y2="837.0" stroke="#efe9dc" stroke-width="0.7" opacity="0.8"/><line x1="391.5" y1="839.0" x2="391.5" y2="833.5" stroke="#efe9dc" stroke-width="0.7" opacity="0.8"/><line x1="397.6" y1="835.5" x2="397.6" y2="830.0" stroke="#efe9dc" stroke-width="0.7" opacity="0.8"/><line x1="403.7" y1="832.1" x2="403.7" y2="826.6" stroke="#efe9dc" stroke-width="0.7" opacity="0.8"/><line x1="409.8" y1="828.6" x2="409.8" y2="823.1" stroke="#efe9dc" stroke-width="0.7" opacity="0.8"/><line x1="415.9" y1="825.1" x2="415.9" y2="819.6" stroke="#efe9dc" stroke-width="0.7" opacity="0.8"/><line x1="422.0" y1="821.7" x2="422.0" y2="816.2" stroke="#efe9dc" stroke-width="0.7" opacity="0.8"/><line x1="428.1" y1="818.2" x2="428.1" y2="812.7" stroke="#efe9dc" stroke-width="0.7" opacity="0.8"/><line x1="434.2" y1="814.7" x2="434.2" y2="809.2" stroke="#efe9dc" stroke-width="0.7" opacity="0.8"/><line x1="440.3" y1="811.3" x2="440.3" y2="805.8" stroke="#efe9dc" stroke-width="0.7" opacity="0.8"/><line x1="446.4" y1="807.8" x2="446.4" y2="802.3" stroke="#efe9dc" stroke-width="0.7" opacity="0.8"/><line x1="452.5" y1="804.3" x2="452.5" y2="798.8" stroke="#efe9dc" stroke-width="0.7" opacity="0.8"/><line x1="458.6" y1="800.9" x2="458.6" y2="795.4" stroke="#efe9dc" stroke-width="0.7" opacity="0.8"/><line x1="464.7" y1="797.4" x2="464.7" y2="791.9" stroke="#efe9dc" stroke-width="0.7" opacity="0.8"/><line x1="470.8" y1="793.9" x2="470.8" y2="788.4" stroke="#efe9dc" stroke-width="0.7" opacity="0.8"/><line x1="476.9" y1="790.5" x2="476.9" y2="785.0" stroke="#efe9dc" stroke-width="0.7" opacity="0.8"/><line x1="483.0" y1="787.0" x2="483.0" y2="781.5" stroke="#efe9dc" stroke-width="0.7" opacity="0.8"/><line x1="483.0" y1="781.5" x2="400.0" y2="730.5" stroke="#f3eee2" stroke-width="0.8" opacity="0.85"/><line x1="483.0" y1="787.0" x2="400.0" y2="736.0" stroke="#b7c77a" stroke-width="0.8"/><line x1="483.0" y1="787.0" x2="483.0" y2="781.5" stroke="#efe9dc" stroke-width="0.7" opacity="0.8"/><line x1="476.6" y1="783.1" x2="476.6" y2="777.6" stroke="#efe9dc" stroke-width="0.7" opacity="0.8"/><line x1="470.2" y1="779.2" x2="470.2" y2="773.7" stroke="#efe9dc" stroke-width="0.7" opacity="0.8"/><line x1="463.8" y1="775.2" x2="463.8" y2="769.7" stroke="#efe9dc" stroke-width="0.7" opacity="0.8"/><line x1="457.5" y1="771.3" x2="457.5" y2="765.8" stroke="#efe9dc" stroke-width="0.7" opacity="0.8"/><line x1="451.1" y1="767.4" x2="451.1" y2="761.9" stroke="#efe9dc" stroke-width="0.7" opacity="0.8"/><line x1="444.7" y1="763.5" x2="444.7" y2="758.0" stroke="#efe9dc" stroke-width="0.7" opacity="0.8"/><line x1="438.3" y1="759.5" x2="438.3" y2="754.0" stroke="#efe9dc" stroke-width="0.7" opacity="0.8"/><line x1="431.9" y1="755.6" x2="431.9" y2="750.1" stroke="#efe9dc" stroke-width="0.7" opacity="0.8"/><line x1="425.5" y1="751.7" x2="425.5" y2="746.2" stroke="#efe9dc" stroke-width="0.7" opacity="0.8"/><line x1="419.2" y1="747.8" x2="419.2" y2="742.3" stroke="#efe9dc" stroke-width="0.7" opacity="0.8"/><line x1="412.8" y1="743.8" x2="412.8" y2="738.3" stroke="#efe9dc" stroke-width="0.7" opacity="0.8"/><line x1="406.4" y1="739.9" x2="406.4" y2="734.4" stroke="#efe9dc" stroke-width="0.7" opacity="0.8"/><line x1="400.0" y1="736.0" x2="400.0" y2="730.5" stroke="#efe9dc" stroke-width="0.7" opacity="0.8"/>
<polygon points="369.3,776.3 381.7,782.8 381.7,783.9 369.3,777.4" fill="#f4ece8" /><rect x="370.0" y="770.3" width="1.7" height="6" fill="#c8a3a8"/><rect x="370.6" y="770.3" width="0.6" height="6" fill="#e5cfd1"/><rect x="374.7" y="773.1" width="1.7" height="6" fill="#c8a3a8"/><rect x="375.3" y="773.1" width="0.6" height="6" fill="#e5cfd1"/><rect x="379.4" y="775.9" width="1.7" height="6" fill="#c8a3a8"/><rect x="380.0" y="775.9" width="0.6" height="6" fill="#e5cfd1"/>
<polygon points="352.3,790.1 367.3,793.1 371.3,796.1 357.3,794.1" fill="#a3b544" opacity="0.5"/><rect x="350.2" y="768.1" width="2.2" height="22" fill="#e9d9d3"/><rect x="351.5" y="768.1" width="0.9" height="22" fill="#ccb3b3"/><ellipse cx="351.3" cy="790.1" rx="2" ry="1" fill="#f6efea"/><rect x="355.7" y="771.3" width="2.2" height="22" fill="#e9d9d3"/><rect x="357.0" y="771.3" width="0.9" height="22" fill="#ccb3b3"/><ellipse cx="356.8" cy="793.3" rx="2" ry="1" fill="#f6efea"/><polygon points="348.8,766.6 360.3,773.3 360.3,774.9 348.8,768.1" fill="#f4ece8" /><rect x="349.1" y="761.6" width="1.5" height="5" fill="#c39ea4"/><rect x="353.7" y="764.3" width="1.5" height="5" fill="#c39ea4"/><rect x="358.3" y="767.0" width="1.5" height="5" fill="#c39ea4"/>
<polygon points="397.0,791.8 409.4,798.3 409.4,799.4 397.0,792.9" fill="#f4ece8" /><rect x="397.7" y="785.8" width="1.7" height="6" fill="#c8a3a8"/><rect x="398.3" y="785.8" width="0.6" height="6" fill="#e5cfd1"/><rect x="402.4" y="788.6" width="1.7" height="6" fill="#c8a3a8"/><rect x="403.0" y="788.6" width="0.6" height="6" fill="#e5cfd1"/><rect x="407.1" y="791.4" width="1.7" height="6" fill="#c8a3a8"/><rect x="407.7" y="791.4" width="0.6" height="6" fill="#e5cfd1"/>
<polygon points="380.3,806.4 395.3,809.4 399.3,812.4 385.3,810.4" fill="#a3b544" opacity="0.5"/><rect x="378.2" y="784.4" width="2.2" height="22" fill="#e9d9d3"/><rect x="379.5" y="784.4" width="0.9" height="22" fill="#ccb3b3"/><ellipse cx="379.3" cy="806.4" rx="2" ry="1" fill="#f6efea"/><rect x="383.7" y="787.6" width="2.2" height="22" fill="#e9d9d3"/><rect x="385.0" y="787.6" width="0.9" height="22" fill="#ccb3b3"/><ellipse cx="384.8" cy="809.6" rx="2" ry="1" fill="#f6efea"/><polygon points="376.8,782.9 388.3,789.6 388.3,791.2 376.8,784.4" fill="#f4ece8" /><rect x="377.1" y="777.9" width="1.5" height="5" fill="#c39ea4"/><rect x="381.7" y="780.6" width="1.5" height="5" fill="#c39ea4"/><rect x="386.3" y="783.3" width="1.5" height="5" fill="#c39ea4"/>
<polygon points="319.2,806.8 331.6,813.3 331.6,814.4 319.2,807.9" fill="#f4ece8" /><rect x="319.9" y="800.8" width="1.7" height="6" fill="#c8a3a8"/><rect x="320.5" y="800.8" width="0.6" height="6" fill="#e5cfd1"/><rect x="324.6" y="803.6" width="1.7" height="6" fill="#c8a3a8"/><rect x="325.2" y="803.6" width="0.6" height="6" fill="#e5cfd1"/><rect x="329.3" y="806.4" width="1.7" height="6" fill="#c8a3a8"/><rect x="329.9" y="806.4" width="0.6" height="6" fill="#e5cfd1"/>
<polygon points="343.5,807.2 354.5,800.7 367.5,807.7 356.5,814.2" fill="#a5b743" opacity="0.7"/><polygon points="333.1,801.2 343.5,807.2 343.5,795.2 333.1,789.2" fill="#efe3de" /><polygon points="343.5,807.2 353.9,801.2 353.9,789.2 343.5,795.2" fill="#dac6c1" /><polygon points="343.5,795.2 353.9,789.2 343.5,783.2 333.1,789.2" fill="#f6efeb" /><line x1="341.5" y1="806.2" x2="341.5" y2="796.2" stroke="#d2bdb8" stroke-width="0.8"/><line x1="339.5" y1="805.1" x2="339.5" y2="795.1" stroke="#d2bdb8" stroke-width="0.8"/><line x1="337.5" y1="803.9" x2="337.5" y2="793.9" stroke="#d2bdb8" stroke-width="0.8"/><line x1="335.5" y1="802.8" x2="335.5" y2="792.8" stroke="#d2bdb8" stroke-width="0.8"/><line x1="333.5" y1="801.6" x2="333.5" y2="791.6" stroke="#d2bdb8" stroke-width="0.8"/><line x1="345.5" y1="806.2" x2="345.5" y2="796.2" stroke="#c6aea9" stroke-width="0.7"/><line x1="348.5" y1="804.5" x2="348.5" y2="794.5" stroke="#c6aea9" stroke-width="0.7"/><line x1="351.5" y1="802.8" x2="351.5" y2="792.8" stroke="#c6aea9" stroke-width="0.7"/><rect x="335.5" y="784.2" width="1.7" height="8" fill="#caa9ad"/><rect x="338.1" y="782.6" width="1.7" height="8" fill="#caa9ad"/><rect x="340.7" y="781.0" width="1.7" height="8" fill="#caa9ad"/>
<polygon points="311.5,811.3 323.9,817.8 323.9,818.9 311.5,812.4" fill="#f4ece8" /><rect x="312.2" y="805.3" width="1.7" height="6" fill="#c8a3a8"/><rect x="312.8" y="805.3" width="0.6" height="6" fill="#e5cfd1"/><rect x="316.9" y="808.1" width="1.7" height="6" fill="#c8a3a8"/><rect x="317.5" y="808.1" width="0.6" height="6" fill="#e5cfd1"/><rect x="321.6" y="810.9" width="1.7" height="6" fill="#c8a3a8"/><rect x="322.2" y="810.9" width="0.6" height="6" fill="#e5cfd1"/>
<polygon points="304.2,816.2 316.6,822.7 316.6,823.8 304.2,817.3" fill="#f4ece8" /><rect x="304.9" y="810.2" width="1.7" height="6" fill="#c8a3a8"/><rect x="305.5" y="810.2" width="0.6" height="6" fill="#e5cfd1"/><rect x="309.6" y="813.0" width="1.7" height="6" fill="#c8a3a8"/><rect x="310.2" y="813.0" width="0.6" height="6" fill="#e5cfd1"/><rect x="314.3" y="815.8" width="1.7" height="6" fill="#c8a3a8"/><rect x="314.9" y="815.8" width="0.6" height="6" fill="#e5cfd1"/>
<polygon points="296.4,819.9 308.8,826.4 308.8,827.5 296.4,821.0" fill="#f4ece8" /><rect x="297.1" y="813.9" width="1.7" height="6" fill="#c8a3a8"/><rect x="297.7" y="813.9" width="0.6" height="6" fill="#e5cfd1"/><rect x="301.8" y="816.7" width="1.7" height="6" fill="#c8a3a8"/><rect x="302.4" y="816.7" width="0.6" height="6" fill="#e5cfd1"/><rect x="306.5" y="819.5" width="1.7" height="6" fill="#c8a3a8"/><rect x="307.1" y="819.5" width="0.6" height="6" fill="#e5cfd1"/>
<polygon points="347.3,822.7 359.7,829.2 359.7,830.3 347.3,823.8" fill="#f4ece8" /><rect x="348.0" y="816.7" width="1.7" height="6" fill="#c8a3a8"/><rect x="348.6" y="816.7" width="0.6" height="6" fill="#e5cfd1"/><rect x="352.7" y="819.5" width="1.7" height="6" fill="#c8a3a8"/><rect x="353.3" y="819.5" width="0.6" height="6" fill="#e5cfd1"/><rect x="357.4" y="822.3" width="1.7" height="6" fill="#c8a3a8"/><rect x="358.0" y="822.3" width="0.6" height="6" fill="#e5cfd1"/>
<polygon points="371.2,824.3 382.2,817.8 395.2,824.8 384.2,831.3" fill="#a5b743" opacity="0.7"/><polygon points="360.8,818.3 371.2,824.3 371.2,812.3 360.8,806.3" fill="#efe3de" /><polygon points="371.2,824.3 381.6,818.3 381.6,806.3 371.2,812.3" fill="#dac6c1" /><polygon points="371.2,812.3 381.6,806.3 371.2,800.3 360.8,806.3" fill="#f6efeb" /><line x1="369.2" y1="823.3" x2="369.2" y2="813.3" stroke="#d2bdb8" stroke-width="0.8"/><line x1="367.2" y1="822.1" x2="367.2" y2="812.1" stroke="#d2bdb8" stroke-width="0.8"/><line x1="365.2" y1="821.0" x2="365.2" y2="811.0" stroke="#d2bdb8" stroke-width="0.8"/><line x1="363.2" y1="819.8" x2="363.2" y2="809.8" stroke="#d2bdb8" stroke-width="0.8"/><line x1="361.2" y1="818.7" x2="361.2" y2="808.7" stroke="#d2bdb8" stroke-width="0.8"/><line x1="373.2" y1="823.3" x2="373.2" y2="813.3" stroke="#c6aea9" stroke-width="0.7"/><line x1="376.2" y1="821.6" x2="376.2" y2="811.6" stroke="#c6aea9" stroke-width="0.7"/><line x1="379.2" y1="819.9" x2="379.2" y2="809.9" stroke="#c6aea9" stroke-width="0.7"/><rect x="363.2" y="801.3" width="1.7" height="8" fill="#caa9ad"/><rect x="365.8" y="799.7" width="1.7" height="8" fill="#caa9ad"/><rect x="368.4" y="798.1" width="1.7" height="8" fill="#caa9ad"/>
<polygon points="340.0,826.8 352.4,833.3 352.4,834.4 340.0,827.9" fill="#f4ece8" /><rect x="340.7" y="820.8" width="1.7" height="6" fill="#c8a3a8"/><rect x="341.3" y="820.8" width="0.6" height="6" fill="#e5cfd1"/><rect x="345.4" y="823.6" width="1.7" height="6" fill="#c8a3a8"/><rect x="346.0" y="823.6" width="0.6" height="6" fill="#e5cfd1"/><rect x="350.1" y="826.4" width="1.7" height="6" fill="#c8a3a8"/><rect x="350.7" y="826.4" width="0.6" height="6" fill="#e5cfd1"/>
<polygon points="332.2,831.7 344.6,838.2 344.6,839.3 332.2,832.8" fill="#f4ece8" /><rect x="332.9" y="825.7" width="1.7" height="6" fill="#c8a3a8"/><rect x="333.5" y="825.7" width="0.6" height="6" fill="#e5cfd1"/><rect x="337.6" y="828.5" width="1.7" height="6" fill="#c8a3a8"/><rect x="338.2" y="828.5" width="0.6" height="6" fill="#e5cfd1"/><rect x="342.3" y="831.3" width="1.7" height="6" fill="#c8a3a8"/><rect x="342.9" y="831.3" width="0.6" height="6" fill="#e5cfd1"/>
<polygon points="324.5,835.7 336.9,842.2 336.9,843.3 324.5,836.8" fill="#f4ece8" /><rect x="325.2" y="829.7" width="1.7" height="6" fill="#c8a3a8"/><rect x="325.8" y="829.7" width="0.6" height="6" fill="#e5cfd1"/><rect x="329.9" y="832.5" width="1.7" height="6" fill="#c8a3a8"/><rect x="330.5" y="832.5" width="0.6" height="6" fill="#e5cfd1"/><rect x="334.6" y="835.3" width="1.7" height="6" fill="#c8a3a8"/><rect x="335.2" y="835.3" width="0.6" height="6" fill="#e5cfd1"/>
<polygon points="436.7,800.6 463.8,785.5 478.0,793.0 452.0,808.0" fill="#a6b846" opacity="0.6"/><polygon points="368.5,751.7 385.1,755.4 403.4,763.2 419.7,777.5 436.7,791.1 436.7,800.6 368.8,759.9" fill="#ecdfd2" /><polygon points="436.7,791.1 463.8,774.8 463.8,785.5 436.7,800.6" fill="#d6c2b8" /><polygon points="368.5,751.7 395.3,736.1 412.2,742.0 385.8,757.5" fill="#caa7aa" /><polygon points="385.1,755.4 412.2,739.5 430.6,745.9 447.5,759.2 419.7,777.5 403.4,763.2" fill="#c8a4a7" /><polygon points="419.7,777.5 447.5,759.2 447.5,763.9 419.7,781.0" fill="#a27e83" /><polygon points="419.7,781.0 447.5,763.9 463.8,774.8 436.7,791.1" fill="#b48f93" /><rect x="374.4" y="757.0" width="3.2" height="8" fill="#f4ede8"/><rect x="376.4" y="757.0" width="1.2" height="8" fill="#d8c8c2"/><rect x="385.4" y="763.0" width="3.2" height="8" fill="#f4ede8"/><rect x="387.4" y="763.0" width="1.2" height="8" fill="#d8c8c2"/><rect x="396.4" y="769.0" width="3.2" height="8" fill="#f4ede8"/><rect x="398.4" y="769.0" width="1.2" height="8" fill="#d8c8c2"/><rect x="407.4" y="775.0" width="3.2" height="8" fill="#f4ede8"/><rect x="409.4" y="775.0" width="1.2" height="8" fill="#d8c8c2"/><rect x="418.4" y="782.0" width="3.2" height="8" fill="#f4ede8"/><rect x="420.4" y="782.0" width="1.2" height="8" fill="#d8c8c2"/><text x="0" y="0" font-size="8.2" fill="#ffffff" transform="translate(413,770) rotate(-31)" textLength="29" lengthAdjust="spacingAndGlyphs">AC&lt;&gt;DC</text>
<polyline points="292.7,788.5 297.9,813.9" stroke="#f8f6ee" stroke-width="0.8" fill="none" opacity="0.95"/><polyline points="292.7,803.1 305.7,810.2" stroke="#f8f6ee" stroke-width="0.8" fill="none" opacity="0.95"/><polyline points="292.7,817.7 313.0,805.3" stroke="#f8f6ee" stroke-width="0.8" fill="none" opacity="0.95"/><polyline points="292.7,788.5 326.0,829.7" stroke="#f8f6ee" stroke-width="0.8" fill="none" opacity="0.95"/><polyline points="292.7,803.1 333.7,825.7" stroke="#f8f6ee" stroke-width="0.8" fill="none" opacity="0.95"/><polyline points="292.7,817.7 341.5,820.8" stroke="#f8f6ee" stroke-width="0.8" fill="none" opacity="0.95"/><polyline points="320.7,800.8 337.0,790.0 349.2,768.0" stroke="#f8f6ee" stroke-width="0.8" fill="none" opacity="0.95"/><polyline points="348.8,816.7 364.0,806.0 377.0,784.4" stroke="#f8f6ee" stroke-width="0.8" fill="none" opacity="0.95"/><polyline points="313.0,805.3 335.0,789.0" stroke="#f8f6ee" stroke-width="0.8" fill="none" opacity="0.95"/><polyline points="341.5,820.8 363.0,806.0" stroke="#f8f6ee" stroke-width="0.8" fill="none" opacity="0.95"/><polyline points="349.2,768.0 370.8,770.3" stroke="#f8f6ee" stroke-width="0.8" fill="none" opacity="0.95"/><polyline points="358.0,772.0 380.0,775.0" stroke="#f8f6ee" stroke-width="0.8" fill="none" opacity="0.95"/><polyline points="377.0,784.4 398.5,785.8" stroke="#f8f6ee" stroke-width="0.8" fill="none" opacity="0.95"/><polyline points="386.0,789.0 407.0,790.5" stroke="#f8f6ee" stroke-width="0.8" fill="none" opacity="0.95"/>
<polygon points="1476.8,113.9 1300.4,222.5 1300.4,217.0 1476.8,108.4" fill="#eef3d8" opacity="0.3"/><polygon points="1300.4,222.5 1376.9,268.1 1376.9,262.6 1300.4,217.0" fill="#eef3d8" opacity="0.3"/><polygon points="1376.9,268.1 1558.3,164.9 1558.3,159.4 1376.9,262.6" fill="#eef3d8" opacity="0.3"/><polygon points="1558.3,164.9 1476.8,113.9 1476.8,108.4 1558.3,159.4" fill="#eef3d8" opacity="0.3"/><line x1="1476.8" y1="108.4" x2="1300.4" y2="217.0" stroke="#f3eee2" stroke-width="0.8" opacity="0.85"/><line x1="1476.8" y1="113.9" x2="1300.4" y2="222.5" stroke="#b7c77a" stroke-width="0.8"/><line x1="1476.8" y1="113.9" x2="1476.8" y2="108.4" stroke="#efe9dc" stroke-width="0.7" opacity="0.8"/><line x1="1470.7" y1="117.6" x2="1470.7" y2="112.1" stroke="#efe9dc" stroke-width="0.7" opacity="0.8"/><line x1="1464.6" y1="121.4" x2="1464.6" y2="115.9" stroke="#efe9dc" stroke-width="0.7" opacity="0.8"/><line x1="1458.6" y1="125.1" x2="1458.6" y2="119.6" stroke="#efe9dc" stroke-width="0.7" opacity="0.8"/><line x1="1452.5" y1="128.9" x2="1452.5" y2="123.4" stroke="#efe9dc" stroke-width="0.7" opacity="0.8"/><line x1="1446.4" y1="132.6" x2="1446.4" y2="127.1" stroke="#efe9dc" stroke-width="0.7" opacity="0.8"/><line x1="1440.3" y1="136.4" x2="1440.3" y2="130.9" stroke="#efe9dc" stroke-width="0.7" opacity="0.8"/><line x1="1434.2" y1="140.1" x2="1434.2" y2="134.6" stroke="#efe9dc" stroke-width="0.7" opacity="0.8"/><line x1="1428.1" y1="143.9" x2="1428.1" y2="138.4" stroke="#efe9dc" stroke-width="0.7" opacity="0.8"/><line x1="1422.1" y1="147.6" x2="1422.1" y2="142.1" stroke="#efe9dc" stroke-width="0.7" opacity="0.8"/><line x1="1416.0" y1="151.3" x2="1416.0" y2="145.8" stroke="#efe9dc" stroke-width="0.7" opacity="0.8"/><line x1="1409.9" y1="155.1" x2="1409.9" y2="149.6" stroke="#efe9dc" stroke-width="0.7" opacity="0.8"/><line x1="1403.8" y1="158.8" x2="1403.8" y2="153.3" stroke="#efe9dc" stroke-width="0.7" opacity="0.8"/><line x1="1397.7" y1="162.6" x2="1397.7" y2="157.1" stroke="#efe9dc" stroke-width="0.7" opacity="0.8"/><line x1="1391.6" y1="166.3" x2="1391.6" y2="160.8" stroke="#efe9dc" stroke-width="0.7" opacity="0.8"/><line x1="1385.6" y1="170.1" x2="1385.6" y2="164.6" stroke="#efe9dc" stroke-width="0.7" opacity="0.8"/><line x1="1379.5" y1="173.8" x2="1379.5" y2="168.3" stroke="#efe9dc" stroke-width="0.7" opacity="0.8"/><line x1="1373.4" y1="177.6" x2="1373.4" y2="172.1" stroke="#efe9dc" stroke-width="0.7" opacity="0.8"/><line x1="1367.3" y1="181.3" x2="1367.3" y2="175.8" stroke="#efe9dc" stroke-width="0.7" opacity="0.8"/><line x1="1361.2" y1="185.1" x2="1361.2" y2="179.6" stroke="#efe9dc" stroke-width="0.7" opacity="0.8"/><line x1="1355.1" y1="188.8" x2="1355.1" y2="183.3" stroke="#efe9dc" stroke-width="0.7" opacity="0.8"/><line x1="1349.1" y1="192.5" x2="1349.1" y2="187.0" stroke="#efe9dc" stroke-width="0.7" opacity="0.8"/><line x1="1343.0" y1="196.3" x2="1343.0" y2="190.8" stroke="#efe9dc" stroke-width="0.7" opacity="0.8"/><line x1="1336.9" y1="200.0" x2="1336.9" y2="194.5" stroke="#efe9dc" stroke-width="0.7" opacity="0.8"/><line x1="1330.8" y1="203.8" x2="1330.8" y2="198.3" stroke="#efe9dc" stroke-width="0.7" opacity="0.8"/><line x1="1324.7" y1="207.5" x2="1324.7" y2="202.0" stroke="#efe9dc" stroke-width="0.7" opacity="0.8"/><line x1="1318.6" y1="211.3" x2="1318.6" y2="205.8" stroke="#efe9dc" stroke-width="0.7" opacity="0.8"/><line x1="1312.6" y1="215.0" x2="1312.6" y2="209.5" stroke="#efe9dc" stroke-width="0.7" opacity="0.8"/><line x1="1306.5" y1="218.8" x2="1306.5" y2="213.3" stroke="#efe9dc" stroke-width="0.7" opacity="0.8"/><line x1="1300.4" y1="222.5" x2="1300.4" y2="217.0" stroke="#efe9dc" stroke-width="0.7" opacity="0.8"/><line x1="1300.4" y1="217.0" x2="1376.9" y2="262.6" stroke="#f3eee2" stroke-width="0.8" opacity="0.85"/><line x1="1300.4" y1="222.5" x2="1376.9" y2="268.1" stroke="#b7c77a" stroke-width="0.8"/><line x1="1300.4" y1="222.5" x2="1300.4" y2="217.0" stroke="#efe9dc" stroke-width="0.7" opacity="0.8"/><line x1="1306.8" y1="226.3" x2="1306.8" y2="220.8" stroke="#efe9dc" stroke-width="0.7" opacity="0.8"/><line x1="1313.2" y1="230.1" x2="1313.2" y2="224.6" stroke="#efe9dc" stroke-width="0.7" opacity="0.8"/><line x1="1319.5" y1="233.9" x2="1319.5" y2="228.4" stroke="#efe9dc" stroke-width="0.7" opacity="0.8"/><line x1="1325.9" y1="237.7" x2="1325.9" y2="232.2" stroke="#efe9dc" stroke-width="0.7" opacity="0.8"/><line x1="1332.3" y1="241.5" x2="1332.3" y2="236.0" stroke="#efe9dc" stroke-width="0.7" opacity="0.8"/><line x1="1338.7" y1="245.3" x2="1338.7" y2="239.8" stroke="#efe9dc" stroke-width="0.7" opacity="0.8"/><line x1="1345.0" y1="249.1" x2="1345.0" y2="243.6" stroke="#efe9dc" stroke-width="0.7" opacity="0.8"/><line x1="1351.4" y1="252.9" x2="1351.4" y2="247.4" stroke="#efe9dc" stroke-width="0.7" opacity="0.8"/><line x1="1357.8" y1="256.7" x2="1357.8" y2="251.2" stroke="#efe9dc" stroke-width="0.7" opacity="0.8"/><line x1="1364.2" y1="260.5" x2="1364.2" y2="255.0" stroke="#efe9dc" stroke-width="0.7" opacity="0.8"/><line x1="1370.5" y1="264.3" x2="1370.5" y2="258.8" stroke="#efe9dc" stroke-width="0.7" opacity="0.8"/><line x1="1376.9" y1="268.1" x2="1376.9" y2="262.6" stroke="#efe9dc" stroke-width="0.7" opacity="0.8"/><line x1="1376.9" y1="262.6" x2="1558.3" y2="159.4" stroke="#f3eee2" stroke-width="0.8" opacity="0.85"/><line x1="1376.9" y1="268.1" x2="1558.3" y2="164.9" stroke="#b7c77a" stroke-width="0.8"/><line x1="1376.9" y1="268.1" x2="1376.9" y2="262.6" stroke="#efe9dc" stroke-width="0.7" opacity="0.8"/><line x1="1383.2" y1="264.5" x2="1383.2" y2="259.0" stroke="#efe9dc" stroke-width="0.7" opacity="0.8"/><line x1="1389.4" y1="261.0" x2="1389.4" y2="255.5" stroke="#efe9dc" stroke-width="0.7" opacity="0.8"/><line x1="1395.7" y1="257.4" x2="1395.7" y2="251.9" stroke="#efe9dc" stroke-width="0.7" opacity="0.8"/><line x1="1401.9" y1="253.9" x2="1401.9" y2="248.4" stroke="#efe9dc" stroke-width="0.7" opacity="0.8"/><line x1="1408.2" y1="250.3" x2="1408.2" y2="244.8" stroke="#efe9dc" stroke-width="0.7" opacity="0.8"/><line x1="1414.4" y1="246.7" x2="1414.4" y2="241.2" stroke="#efe9dc" stroke-width="0.7" opacity="0.8"/><line x1="1420.7" y1="243.2" x2="1420.7" y2="237.7" stroke="#efe9dc" stroke-width="0.7" opacity="0.8"/><line x1="1426.9" y1="239.6" x2="1426.9" y2="234.1" stroke="#efe9dc" stroke-width="0.7" opacity="0.8"/><line x1="1433.2" y1="236.1" x2="1433.2" y2="230.6" stroke="#efe9dc" stroke-width="0.7" opacity="0.8"/><line x1="1439.5" y1="232.5" x2="1439.5" y2="227.0" stroke="#efe9dc" stroke-width="0.7" opacity="0.8"/><line x1="1445.7" y1="229.0" x2="1445.7" y2="223.5" stroke="#efe9dc" stroke-width="0.7" opacity="0.8"/><line x1="1452.0" y1="225.4" x2="1452.0" y2="219.9" stroke="#efe9dc" stroke-width="0.7" opacity="0.8"/><line x1="1458.2" y1="221.8" x2="1458.2" y2="216.3" stroke="#efe9dc" stroke-width="0.7" opacity="0.8"/><line x1="1464.5" y1="218.3" x2="1464.5" y2="212.8" stroke="#efe9dc" stroke-width="0.7" opacity="0.8"/><line x1="1470.7" y1="214.7" x2="1470.7" y2="209.2" stroke="#efe9dc" stroke-width="0.7" opacity="0.8"/><line x1="1477.0" y1="211.2" x2="1477.0" y2="205.7" stroke="#efe9dc" stroke-width="0.7" opacity="0.8"/><line x1="1483.2" y1="207.6" x2="1483.2" y2="202.1" stroke="#efe9dc" stroke-width="0.7" opacity="0.8"/><line x1="1489.5" y1="204.0" x2="1489.5" y2="198.5" stroke="#efe9dc" stroke-width="0.7" opacity="0.8"/><line x1="1495.7" y1="200.5" x2="1495.7" y2="195.0" stroke="#efe9dc" stroke-width="0.7" opacity="0.8"/><line x1="1502.0" y1="196.9" x2="1502.0" y2="191.4" stroke="#efe9dc" stroke-width="0.7" opacity="0.8"/><line x1="1508.3" y1="193.4" x2="1508.3" y2="187.9" stroke="#efe9dc" stroke-width="0.7" opacity="0.8"/><line x1="1514.5" y1="189.8" x2="1514.5" y2="184.3" stroke="#efe9dc" stroke-width="0.7" opacity="0.8"/><line x1="1520.8" y1="186.3" x2="1520.8" y2="180.8" stroke="#efe9dc" stroke-width="0.7" opacity="0.8"/><line x1="1527.0" y1="182.7" x2="1527.0" y2="177.2" stroke="#efe9dc" stroke-width="0.7" opacity="0.8"/><line x1="1533.3" y1="179.1" x2="1533.3" y2="173.6" stroke="#efe9dc" stroke-width="0.7" opacity="0.8"/><line x1="1539.5" y1="175.6" x2="1539.5" y2="170.1" stroke="#efe9dc" stroke-width="0.7" opacity="0.8"/><line x1="1545.8" y1="172.0" x2="1545.8" y2="166.5" stroke="#efe9dc" stroke-width="0.7" opacity="0.8"/><line x1="1552.0" y1="168.5" x2="1552.0" y2="163.0" stroke="#efe9dc" stroke-width="0.7" opacity="0.8"/><line x1="1558.3" y1="164.9" x2="1558.3" y2="159.4" stroke="#efe9dc" stroke-width="0.7" opacity="0.8"/><line x1="1558.3" y1="159.4" x2="1476.8" y2="108.4" stroke="#f3eee2" stroke-width="0.8" opacity="0.85"/><line x1="1558.3" y1="164.9" x2="1476.8" y2="113.9" stroke="#b7c77a" stroke-width="0.8"/><line x1="1558.3" y1="164.9" x2="1558.3" y2="159.4" stroke="#efe9dc" stroke-width="0.7" opacity="0.8"/><line x1="1552.0" y1="161.0" x2="1552.0" y2="155.5" stroke="#efe9dc" stroke-width="0.7" opacity="0.8"/><line x1="1545.8" y1="157.1" x2="1545.8" y2="151.6" stroke="#efe9dc" stroke-width="0.7" opacity="0.8"/><line x1="1539.5" y1="153.1" x2="1539.5" y2="147.6" stroke="#efe9dc" stroke-width="0.7" opacity="0.8"/><line x1="1533.2" y1="149.2" x2="1533.2" y2="143.7" stroke="#efe9dc" stroke-width="0.7" opacity="0.8"/><line x1="1527.0" y1="145.3" x2="1527.0" y2="139.8" stroke="#efe9dc" stroke-width="0.7" opacity="0.8"/><line x1="1520.7" y1="141.4" x2="1520.7" y2="135.9" stroke="#efe9dc" stroke-width="0.7" opacity="0.8"/><line x1="1514.4" y1="137.4" x2="1514.4" y2="131.9" stroke="#efe9dc" stroke-width="0.7" opacity="0.8"/><line x1="1508.1" y1="133.5" x2="1508.1" y2="128.0" stroke="#efe9dc" stroke-width="0.7" opacity="0.8"/><line x1="1501.9" y1="129.6" x2="1501.9" y2="124.1" stroke="#efe9dc" stroke-width="0.7" opacity="0.8"/><line x1="1495.6" y1="125.7" x2="1495.6" y2="120.2" stroke="#efe9dc" stroke-width="0.7" opacity="0.8"/><line x1="1489.3" y1="121.7" x2="1489.3" y2="116.2" stroke="#efe9dc" stroke-width="0.7" opacity="0.8"/><line x1="1483.1" y1="117.8" x2="1483.1" y2="112.3" stroke="#efe9dc" stroke-width="0.7" opacity="0.8"/><line x1="1476.8" y1="113.9" x2="1476.8" y2="108.4" stroke="#efe9dc" stroke-width="0.7" opacity="0.8"/>
<polygon points="1481.7,136.9 1496.7,139.9 1500.7,142.9 1486.7,140.9" fill="#a3b544" opacity="0.5"/><rect x="1479.6" y="111.9" width="2.2" height="25" fill="#e9d9d3"/><rect x="1480.9" y="111.9" width="0.9" height="25" fill="#ccb3b3"/><ellipse cx="1480.7" cy="136.9" rx="2" ry="1" fill="#f6efea"/><rect x="1485.1" y="115.1" width="2.2" height="25" fill="#e9d9d3"/><rect x="1486.4" y="115.1" width="0.9" height="25" fill="#ccb3b3"/><ellipse cx="1486.2" cy="140.1" rx="2" ry="1" fill="#f6efea"/><polygon points="1478.2,110.4 1489.7,117.1 1489.7,118.7 1478.2,111.9" fill="#f4ece8" /><rect x="1478.5" y="105.4" width="1.5" height="5" fill="#c39ea4"/><rect x="1483.1" y="108.1" width="1.5" height="5" fill="#c39ea4"/><rect x="1487.7" y="110.8" width="1.5" height="5" fill="#c39ea4"/>
<polygon points="1460.3,143.8 1472.7,150.3 1472.7,151.4 1460.3,144.9" fill="#f4ece8" /><rect x="1461.0" y="137.8" width="1.7" height="6" fill="#c8a3a8"/><rect x="1461.6" y="137.8" width="0.6" height="6" fill="#e5cfd1"/><rect x="1465.7" y="140.6" width="1.7" height="6" fill="#c8a3a8"/><rect x="1466.3" y="140.6" width="0.6" height="6" fill="#e5cfd1"/><rect x="1470.4" y="143.4" width="1.7" height="6" fill="#c8a3a8"/><rect x="1471.0" y="143.4" width="0.6" height="6" fill="#e5cfd1"/>
<polygon points="1513.5,154.8 1528.5,157.8 1532.5,160.8 1518.5,158.8" fill="#a3b544" opacity="0.5"/><rect x="1511.4" y="130.8" width="2.2" height="24" fill="#e9d9d3"/><rect x="1512.7" y="130.8" width="0.9" height="24" fill="#ccb3b3"/><ellipse cx="1512.5" cy="154.8" rx="2" ry="1" fill="#f6efea"/><rect x="1516.9" y="134.0" width="2.2" height="24" fill="#e9d9d3"/><rect x="1518.2" y="134.0" width="0.9" height="24" fill="#ccb3b3"/><ellipse cx="1518.0" cy="158.0" rx="2" ry="1" fill="#f6efea"/><polygon points="1510.0,129.3 1521.5,136.0 1521.5,137.6 1510.0,130.8" fill="#f4ece8" /><rect x="1510.3" y="124.3" width="1.5" height="5" fill="#c39ea4"/><rect x="1514.9" y="127.0" width="1.5" height="5" fill="#c39ea4"/><rect x="1519.5" y="129.7" width="1.5" height="5" fill="#c39ea4"/>
<polygon points="1440.8,159.8 1455.8,162.8 1459.8,165.8 1445.8,163.8" fill="#a3b544" opacity="0.5"/><rect x="1438.7" y="136.8" width="2.2" height="23" fill="#e9d9d3"/><rect x="1440.0" y="136.8" width="0.9" height="23" fill="#ccb3b3"/><ellipse cx="1439.8" cy="159.8" rx="2" ry="1" fill="#f6efea"/><rect x="1444.2" y="140.0" width="2.2" height="23" fill="#e9d9d3"/><rect x="1445.5" y="140.0" width="0.9" height="23" fill="#ccb3b3"/><ellipse cx="1445.3" cy="163.0" rx="2" ry="1" fill="#f6efea"/><polygon points="1437.3,135.3 1448.8,142.0 1448.8,143.6 1437.3,136.8" fill="#f4ece8" /><rect x="1437.6" y="130.3" width="1.5" height="5" fill="#c39ea4"/><rect x="1442.2" y="133.0" width="1.5" height="5" fill="#c39ea4"/><rect x="1446.8" y="135.7" width="1.5" height="5" fill="#c39ea4"/>
<polygon points="1492.1,160.8 1504.5,167.3 1504.5,168.4 1492.1,161.9" fill="#f4ece8" /><rect x="1492.8" y="154.8" width="1.7" height="6" fill="#c8a3a8"/><rect x="1493.4" y="154.8" width="0.6" height="6" fill="#e5cfd1"/><rect x="1497.5" y="157.6" width="1.7" height="6" fill="#c8a3a8"/><rect x="1498.1" y="157.6" width="0.6" height="6" fill="#e5cfd1"/><rect x="1502.2" y="160.4" width="1.7" height="6" fill="#c8a3a8"/><rect x="1502.8" y="160.4" width="0.6" height="6" fill="#e5cfd1"/>
<polygon points="1403.5,173.7 1415.9,180.2 1415.9,181.3 1403.5,174.8" fill="#f4ece8" /><rect x="1404.2" y="167.7" width="1.7" height="6" fill="#c8a3a8"/><rect x="1404.8" y="167.7" width="0.6" height="6" fill="#e5cfd1"/><rect x="1408.9" y="170.5" width="1.7" height="6" fill="#c8a3a8"/><rect x="1409.5" y="170.5" width="0.6" height="6" fill="#e5cfd1"/><rect x="1413.6" y="173.3" width="1.7" height="6" fill="#c8a3a8"/><rect x="1414.2" y="173.3" width="0.6" height="6" fill="#e5cfd1"/>
<polygon points="1472.2,178.7 1487.2,181.7 1491.2,184.7 1477.2,182.7" fill="#a3b544" opacity="0.5"/><rect x="1470.1" y="154.7" width="2.2" height="24" fill="#e9d9d3"/><rect x="1471.4" y="154.7" width="0.9" height="24" fill="#ccb3b3"/><ellipse cx="1471.2" cy="178.7" rx="2" ry="1" fill="#f6efea"/><rect x="1475.6" y="157.9" width="2.2" height="24" fill="#e9d9d3"/><rect x="1476.9" y="157.9" width="0.9" height="24" fill="#ccb3b3"/><ellipse cx="1476.7" cy="181.9" rx="2" ry="1" fill="#f6efea"/><polygon points="1468.7,153.2 1480.2,159.9 1480.2,161.5 1468.7,154.7" fill="#f4ece8" /><rect x="1469.0" y="148.2" width="1.5" height="5" fill="#c39ea4"/><rect x="1473.6" y="150.9" width="1.5" height="5" fill="#c39ea4"/><rect x="1478.2" y="153.6" width="1.5" height="5" fill="#c39ea4"/>
<polygon points="1429.9,179.7 1440.9,173.2 1453.9,180.2 1442.9,186.7" fill="#a5b743" opacity="0.7"/><polygon points="1419.5,173.7 1429.9,179.7 1429.9,167.7 1419.5,161.7" fill="#efe3de" /><polygon points="1429.9,179.7 1440.3,173.7 1440.3,161.7 1429.9,167.7" fill="#dac6c1" /><polygon points="1429.9,167.7 1440.3,161.7 1429.9,155.7 1419.5,161.7" fill="#f6efeb" /><line x1="1427.9" y1="178.7" x2="1427.9" y2="168.7" stroke="#d2bdb8" stroke-width="0.8"/><line x1="1425.9" y1="177.5" x2="1425.9" y2="167.5" stroke="#d2bdb8" stroke-width="0.8"/><line x1="1423.9" y1="176.4" x2="1423.9" y2="166.4" stroke="#d2bdb8" stroke-width="0.8"/><line x1="1421.9" y1="175.2" x2="1421.9" y2="165.2" stroke="#d2bdb8" stroke-width="0.8"/><line x1="1419.9" y1="174.1" x2="1419.9" y2="164.1" stroke="#d2bdb8" stroke-width="0.8"/><line x1="1431.9" y1="178.7" x2="1431.9" y2="168.7" stroke="#c6aea9" stroke-width="0.7"/><line x1="1434.9" y1="177.0" x2="1434.9" y2="167.0" stroke="#c6aea9" stroke-width="0.7"/><line x1="1437.9" y1="175.3" x2="1437.9" y2="165.3" stroke="#c6aea9" stroke-width="0.7"/><rect x="1421.9" y="156.7" width="1.7" height="8" fill="#caa9ad"/><rect x="1424.5" y="155.1" width="1.7" height="8" fill="#caa9ad"/><rect x="1427.1" y="153.5" width="1.7" height="8" fill="#caa9ad"/>
<polygon points="1400.0,181.7 1412.4,188.2 1412.4,189.3 1400.0,182.8" fill="#f4ece8" /><rect x="1400.7" y="175.7" width="1.7" height="6" fill="#c8a3a8"/><rect x="1401.3" y="175.7" width="0.6" height="6" fill="#e5cfd1"/><rect x="1405.4" y="178.5" width="1.7" height="6" fill="#c8a3a8"/><rect x="1406.0" y="178.5" width="0.6" height="6" fill="#e5cfd1"/><rect x="1410.1" y="181.3" width="1.7" height="6" fill="#c8a3a8"/><rect x="1410.7" y="181.3" width="0.6" height="6" fill="#e5cfd1"/>
<polygon points="1435.3,193.6 1447.7,200.1 1447.7,201.2 1435.3,194.7" fill="#f4ece8" /><rect x="1436.0" y="187.6" width="1.7" height="6" fill="#c8a3a8"/><rect x="1436.6" y="187.6" width="0.6" height="6" fill="#e5cfd1"/><rect x="1440.7" y="190.4" width="1.7" height="6" fill="#c8a3a8"/><rect x="1441.3" y="190.4" width="0.6" height="6" fill="#e5cfd1"/><rect x="1445.4" y="193.2" width="1.7" height="6" fill="#c8a3a8"/><rect x="1446.0" y="193.2" width="0.6" height="6" fill="#e5cfd1"/>
<polygon points="1426.9,196.6 1439.3,203.1 1439.3,204.2 1426.9,197.7" fill="#f4ece8" /><rect x="1427.6" y="190.6" width="1.7" height="6" fill="#c8a3a8"/><rect x="1428.2" y="190.6" width="0.6" height="6" fill="#e5cfd1"/><rect x="1432.3" y="193.4" width="1.7" height="6" fill="#c8a3a8"/><rect x="1432.9" y="193.4" width="0.6" height="6" fill="#e5cfd1"/><rect x="1437.0" y="196.2" width="1.7" height="6" fill="#c8a3a8"/><rect x="1437.6" y="196.2" width="0.6" height="6" fill="#e5cfd1"/>
<polygon points="1462.7,197.6 1473.7,191.1 1486.7,198.1 1475.7,204.6" fill="#a5b743" opacity="0.7"/><polygon points="1452.3,191.6 1462.7,197.6 1462.7,185.6 1452.3,179.6" fill="#efe3de" /><polygon points="1462.7,197.6 1473.1,191.6 1473.1,179.6 1462.7,185.6" fill="#dac6c1" /><polygon points="1462.7,185.6 1473.1,179.6 1462.7,173.6 1452.3,179.6" fill="#f6efeb" /><line x1="1460.7" y1="196.6" x2="1460.7" y2="186.6" stroke="#d2bdb8" stroke-width="0.8"/><line x1="1458.7" y1="195.4" x2="1458.7" y2="185.4" stroke="#d2bdb8" stroke-width="0.8"/><line x1="1456.7" y1="194.3" x2="1456.7" y2="184.3" stroke="#d2bdb8" stroke-width="0.8"/><line x1="1454.7" y1="193.2" x2="1454.7" y2="183.2" stroke="#d2bdb8" stroke-width="0.8"/><line x1="1452.7" y1="192.0" x2="1452.7" y2="182.0" stroke="#d2bdb8" stroke-width="0.8"/><line x1="1464.7" y1="196.6" x2="1464.7" y2="186.6" stroke="#c6aea9" stroke-width="0.7"/><line x1="1467.7" y1="194.9" x2="1467.7" y2="184.9" stroke="#c6aea9" stroke-width="0.7"/><line x1="1470.7" y1="193.2" x2="1470.7" y2="183.2" stroke="#c6aea9" stroke-width="0.7"/><rect x="1454.7" y="174.6" width="1.7" height="8" fill="#caa9ad"/><rect x="1457.3" y="173.0" width="1.7" height="8" fill="#caa9ad"/><rect x="1459.9" y="171.4" width="1.7" height="8" fill="#caa9ad"/>
<polygon points="1418.4,201.6 1430.8,208.1 1430.8,209.2 1418.4,202.7" fill="#f4ece8" /><rect x="1419.1" y="195.6" width="1.7" height="6" fill="#c8a3a8"/><rect x="1419.7" y="195.6" width="0.6" height="6" fill="#e5cfd1"/><rect x="1423.8" y="198.4" width="1.7" height="6" fill="#c8a3a8"/><rect x="1424.4" y="198.4" width="0.6" height="6" fill="#e5cfd1"/><rect x="1428.5" y="201.2" width="1.7" height="6" fill="#c8a3a8"/><rect x="1429.1" y="201.2" width="0.6" height="6" fill="#e5cfd1"/>
<polygon points="1401.6,242.1 1428.7,227.0 1442.9,234.5 1416.9,249.5" fill="#a6b846" opacity="0.6"/><polygon points="1333.4,193.2 1350.0,196.9 1368.3,204.7 1384.6,219.0 1401.6,232.6 1401.6,242.1 1333.7,201.4" fill="#ecdfd2" /><polygon points="1401.6,232.6 1428.7,216.3 1428.7,227.0 1401.6,242.1" fill="#d6c2b8" /><polygon points="1333.4,193.2 1360.2,177.6 1377.1,183.5 1350.7,199.0" fill="#caa7aa" /><polygon points="1350.0,196.9 1377.1,181.0 1395.5,187.4 1412.4,200.7 1384.6,219.0 1368.3,204.7" fill="#c8a4a7" /><polygon points="1384.6,219.0 1412.4,200.7 1412.4,205.4 1384.6,222.5" fill="#a27e83" /><polygon points="1384.6,222.5 1412.4,205.4 1428.7,216.3 1401.6,232.6" fill="#b48f93" /><rect x="1339.3" y="198.5" width="3.2" height="8" fill="#f4ede8"/><rect x="1341.3" y="198.5" width="1.2" height="8" fill="#d8c8c2"/><rect x="1350.3" y="204.5" width="3.2" height="8" fill="#f4ede8"/><rect x="1352.3" y="204.5" width="1.2" height="8" fill="#d8c8c2"/><rect x="1361.3" y="210.5" width="3.2" height="8" fill="#f4ede8"/><rect x="1363.3" y="210.5" width="1.2" height="8" fill="#d8c8c2"/><rect x="1372.3" y="216.5" width="3.2" height="8" fill="#f4ede8"/><rect x="1374.3" y="216.5" width="1.2" height="8" fill="#d8c8c2"/><rect x="1383.3" y="223.5" width="3.2" height="8" fill="#f4ede8"/><rect x="1385.3" y="223.5" width="1.2" height="8" fill="#d8c8c2"/><text x="0" y="0" font-size="8.2" fill="#ffffff" transform="translate(1377.9,211.5) rotate(-31)" textLength="29" lengthAdjust="spacingAndGlyphs">DC&lt;&gt;AC</text>
<rect x="1321.0" y="223.0" width="1.1" height="9" fill="#b48a93"/><rect x="1322.8" y="222.1" width="1.1" height="9" fill="#b48a93"/><rect x="1324.6" y="221.2" width="1.1" height="9" fill="#b48a93"/><rect x="1326.4" y="220.3" width="1.1" height="9" fill="#b48a93"/><rect x="1328.2" y="219.4" width="1.1" height="9" fill="#b48a93"/><rect x="1330.0" y="218.5" width="1.1" height="9" fill="#b48a93"/><line x1="1321.0" y1="223.5" x2="1331.8" y2="217.1" stroke="#f3e7e6" stroke-width="0.8"/>
<rect x="1331.0" y="229.0" width="1.1" height="9" fill="#b48a93"/><rect x="1332.8" y="228.1" width="1.1" height="9" fill="#b48a93"/><rect x="1334.6" y="227.2" width="1.1" height="9" fill="#b48a93"/><rect x="1336.4" y="226.3" width="1.1" height="9" fill="#b48a93"/><rect x="1338.2" y="225.4" width="1.1" height="9" fill="#b48a93"/><rect x="1340.0" y="224.5" width="1.1" height="9" fill="#b48a93"/><line x1="1331.0" y1="229.5" x2="1341.8" y2="223.1" stroke="#f3e7e6" stroke-width="0.8"/>
<rect x="1341.0" y="235.0" width="1.1" height="9" fill="#b48a93"/><rect x="1342.8" y="234.1" width="1.1" height="9" fill="#b48a93"/><rect x="1344.6" y="233.2" width="1.1" height="9" fill="#b48a93"/><rect x="1346.4" y="232.3" width="1.1" height="9" fill="#b48a93"/><rect x="1348.2" y="231.4" width="1.1" height="9" fill="#b48a93"/><rect x="1350.0" y="230.5" width="1.1" height="9" fill="#b48a93"/><line x1="1341.0" y1="235.5" x2="1351.8" y2="229.1" stroke="#f3e7e6" stroke-width="0.8"/>
<rect x="1352.0" y="241.0" width="1.1" height="9" fill="#b48a93"/><rect x="1353.8" y="240.1" width="1.1" height="9" fill="#b48a93"/><rect x="1355.6" y="239.2" width="1.1" height="9" fill="#b48a93"/><rect x="1357.4" y="238.3" width="1.1" height="9" fill="#b48a93"/><rect x="1359.2" y="237.4" width="1.1" height="9" fill="#b48a93"/><rect x="1361.0" y="236.5" width="1.1" height="9" fill="#b48a93"/><line x1="1352.0" y1="241.5" x2="1362.8" y2="235.1" stroke="#f3e7e6" stroke-width="0.8"/>
<polyline points="1516.5,50.4 1490.0,85.0 1477.7,112.0" stroke="#f8f6ee" stroke-width="0.8" fill="none" opacity="0.95"/><polyline points="1516.5,64.9 1495.0,95.0 1482.0,114.0" stroke="#f8f6ee" stroke-width="0.8" fill="none" opacity="0.95"/><polyline points="1516.5,79.4 1500.0,100.0 1487.0,117.0" stroke="#f8f6ee" stroke-width="0.8" fill="none" opacity="0.95"/><polyline points="1540.0,70.0 1525.0,110.0 1510.0,130.9" stroke="#f8f6ee" stroke-width="0.8" fill="none" opacity="0.95"/><polyline points="1540.0,85.0 1522.0,118.0 1515.0,133.0" stroke="#f8f6ee" stroke-width="0.8" fill="none" opacity="0.95"/><polyline points="1540.0,100.0 1528.0,120.0 1520.0,136.0" stroke="#f8f6ee" stroke-width="0.8" fill="none" opacity="0.95"/><polyline points="1477.7,112.0 1461.8,137.8" stroke="#f8f6ee" stroke-width="0.8" fill="none" opacity="0.95"/><polyline points="1510.0,130.9 1493.6,154.8" stroke="#f8f6ee" stroke-width="0.8" fill="none" opacity="0.95"/><polyline points="1461.8,137.8 1436.8,136.9" stroke="#f8f6ee" stroke-width="0.8" fill="none" opacity="0.95"/><polyline points="1493.6,154.8 1468.7,154.8" stroke="#f8f6ee" stroke-width="0.8" fill="none" opacity="0.95"/><polyline points="1436.8,136.9 1420.0,150.0 1416.0,160.0" stroke="#f8f6ee" stroke-width="0.8" fill="none" opacity="0.95"/><polyline points="1468.7,154.8 1452.0,168.0 1449.0,176.0" stroke="#f8f6ee" stroke-width="0.8" fill="none" opacity="0.95"/><polyline points="1420.0,165.0 1405.0,167.7" stroke="#f8f6ee" stroke-width="0.8" fill="none" opacity="0.95"/><polyline points="1452.0,182.0 1436.8,187.6" stroke="#f8f6ee" stroke-width="0.8" fill="none" opacity="0.95"/><polyline points="1440.0,186.0 1419.9,195.6" stroke="#f8f6ee" stroke-width="0.8" fill="none" opacity="0.95"/>
<polygon points="214.7,883.0 254.7,885.0 260.7,891.0 218.7,890.0" fill="#a9bb45" opacity="0.55"/><line x1="216.7" y1="885.0" x2="258.7" y2="888.0" stroke="#9aad3f" stroke-width="0.5" opacity="0.6"/><line x1="216.7" y1="886.6" x2="258.7" y2="889.6" stroke="#9aad3f" stroke-width="0.5" opacity="0.6"/><line x1="216.7" y1="888.2" x2="258.7" y2="891.2" stroke="#9aad3f" stroke-width="0.5" opacity="0.6"/><line x1="216.7" y1="889.8" x2="258.7" y2="892.8" stroke="#9aad3f" stroke-width="0.5" opacity="0.6"/><polygon points="196.7,885.5 210.7,880.5 224.7,885.5 210.7,890.5" fill="#f3ece6" /><polygon points="196.7,885.5 210.7,890.5 210.7,893.5 196.7,888.5" fill="#ddd0c8" /><polygon points="210.7,890.5 224.7,885.5 224.7,888.5 210.7,893.5" fill="#cbbdb4" /><rect x="203.4" y="808.2" width="14.6" height="79.8" fill="url(#lattice)"/><rect x="203.4" y="808.2" width="14.6" height="79.8" fill="#a98cad" opacity="0.3"/><rect x="204.0" y="808.2" width="1.5" height="79.8" fill="#a083a5"/><rect x="210.2" y="808.2" width="1.5" height="79.8" fill="#a083a5"/><rect x="216.4" y="808.2" width="1.5" height="79.8" fill="#a083a5"/><polygon points="203.4,814.9 192.6,812.0 192.6,813.4 203.4,818.9" fill="#9e81a3" /><line x1="192.6" y1="812.6" x2="206.4" y2="811.1" stroke="#a88cab" stroke-width="0.9"/><polygon points="218.0,815.4 228.7,825.1 228.7,826.6 218.0,819.4" fill="#9e81a3" /><line x1="215.0" y1="813.9" x2="228.7" y2="825.9" stroke="#a88cab" stroke-width="0.9"/><polygon points="203.4,829.5 192.6,826.6 192.6,828.0 203.4,833.5" fill="#9e81a3" /><line x1="192.6" y1="827.2" x2="206.4" y2="825.8" stroke="#a88cab" stroke-width="0.9"/><polygon points="218.0,830.0 228.7,839.8 228.7,841.2 218.0,834.0" fill="#9e81a3" /><line x1="215.0" y1="828.5" x2="228.7" y2="840.5" stroke="#a88cab" stroke-width="0.9"/><polygon points="203.4,844.0 192.6,841.1 192.6,842.5 203.4,848.0" fill="#9e81a3" /><line x1="192.6" y1="841.7" x2="206.4" y2="840.2" stroke="#a88cab" stroke-width="0.9"/><polygon points="218.0,844.5 228.7,854.2 228.7,855.7 218.0,848.5" fill="#9e81a3" /><line x1="215.0" y1="843.0" x2="228.7" y2="855.0" stroke="#a88cab" stroke-width="0.9"/><polygon points="202.4,810.2 210.7,806.7 219.0,810.2" fill="#9e81a3" />
<polygon points="278.8,846.3 318.8,848.3 324.8,854.3 282.8,853.3" fill="#a9bb45" opacity="0.55"/><line x1="280.8" y1="848.3" x2="322.8" y2="851.3" stroke="#9aad3f" stroke-width="0.5" opacity="0.6"/><line x1="280.8" y1="849.9" x2="322.8" y2="852.9" stroke="#9aad3f" stroke-width="0.5" opacity="0.6"/><line x1="280.8" y1="851.5" x2="322.8" y2="854.5" stroke="#9aad3f" stroke-width="0.5" opacity="0.6"/><line x1="280.8" y1="853.1" x2="322.8" y2="856.1" stroke="#9aad3f" stroke-width="0.5" opacity="0.6"/><polygon points="260.8,848.8 274.8,843.8 288.8,848.8 274.8,853.8" fill="#f3ece6" /><polygon points="260.8,848.8 274.8,853.8 274.8,856.8 260.8,851.8" fill="#ddd0c8" /><polygon points="274.8,853.8 288.8,848.8 288.8,851.8 274.8,856.8" fill="#cbbdb4" /><rect x="267.5" y="770.8" width="14.6" height="80.5" fill="url(#lattice)"/><rect x="267.5" y="770.8" width="14.6" height="80.5" fill="#a98cad" opacity="0.3"/><rect x="268.1" y="770.8" width="1.5" height="80.5" fill="#a083a5"/><rect x="274.3" y="770.8" width="1.5" height="80.5" fill="#a083a5"/><rect x="280.5" y="770.8" width="1.5" height="80.5" fill="#a083a5"/><polygon points="267.5,778.0 256.7,775.1 256.7,776.5 267.5,782.0" fill="#9e81a3" /><line x1="256.7" y1="775.8" x2="270.5" y2="774.3" stroke="#a88cab" stroke-width="0.9"/><polygon points="282.1,778.5 292.8,788.3 292.8,789.8 282.1,782.5" fill="#9e81a3" /><line x1="279.1" y1="777.0" x2="292.8" y2="789.0" stroke="#a88cab" stroke-width="0.9"/><polygon points="267.5,792.6 256.7,789.8 256.7,791.1 267.5,796.6" fill="#9e81a3" /><line x1="256.7" y1="790.4" x2="270.5" y2="788.9" stroke="#a88cab" stroke-width="0.9"/><polygon points="282.1,793.1 292.8,802.9 292.8,804.4 282.1,797.1" fill="#9e81a3" /><line x1="279.1" y1="791.6" x2="292.8" y2="803.6" stroke="#a88cab" stroke-width="0.9"/><polygon points="267.5,807.2 256.7,804.4 256.7,805.8 267.5,811.2" fill="#9e81a3" /><line x1="256.7" y1="805.0" x2="270.5" y2="803.5" stroke="#a88cab" stroke-width="0.9"/><polygon points="282.1,807.8 292.8,817.5 292.8,819.0 282.1,811.8" fill="#9e81a3" /><line x1="279.1" y1="806.2" x2="292.8" y2="818.2" stroke="#a88cab" stroke-width="0.9"/><polygon points="266.5,772.8 274.8,769.3 283.1,772.8" fill="#9e81a3" />
<polygon points="1537.8,121.0 1577.8,123.0 1583.8,129.0 1541.8,128.0" fill="#a9bb45" opacity="0.55"/><line x1="1539.8" y1="123.0" x2="1581.8" y2="126.0" stroke="#9aad3f" stroke-width="0.5" opacity="0.6"/><line x1="1539.8" y1="124.6" x2="1581.8" y2="127.6" stroke="#9aad3f" stroke-width="0.5" opacity="0.6"/><line x1="1539.8" y1="126.2" x2="1581.8" y2="129.2" stroke="#9aad3f" stroke-width="0.5" opacity="0.6"/><line x1="1539.8" y1="127.8" x2="1581.8" y2="130.8" stroke="#9aad3f" stroke-width="0.5" opacity="0.6"/><polygon points="1519.8,123.5 1533.8,118.5 1547.8,123.5 1533.8,128.5" fill="#f3ece6" /><polygon points="1519.8,123.5 1533.8,128.5 1533.8,131.5 1519.8,126.5" fill="#ddd0c8" /><polygon points="1533.8,128.5 1547.8,123.5 1547.8,126.5 1533.8,131.5" fill="#cbbdb4" /><rect x="1526.5" y="45.4" width="14.6" height="80.6" fill="url(#lattice)"/><rect x="1526.5" y="45.4" width="14.6" height="80.6" fill="#a98cad" opacity="0.3"/><rect x="1527.1" y="45.4" width="1.5" height="80.6" fill="#a083a5"/><rect x="1533.3" y="45.4" width="1.5" height="80.6" fill="#a083a5"/><rect x="1539.5" y="45.4" width="1.5" height="80.6" fill="#a083a5"/><polygon points="1526.5,52.6 1515.7,49.8 1515.7,51.1 1526.5,56.6" fill="#9e81a3" /><line x1="1515.7" y1="50.4" x2="1529.5" y2="48.9" stroke="#a88cab" stroke-width="0.9"/><polygon points="1541.1,53.1 1551.8,63.0 1551.8,64.3 1541.1,57.1" fill="#9e81a3" /><line x1="1538.1" y1="51.6" x2="1551.8" y2="63.6" stroke="#a88cab" stroke-width="0.9"/><polygon points="1526.5,67.2 1515.7,64.2 1515.7,65.7 1526.5,71.2" fill="#9e81a3" /><line x1="1515.7" y1="64.9" x2="1529.5" y2="63.5" stroke="#a88cab" stroke-width="0.9"/><polygon points="1541.1,67.7 1551.8,77.5 1551.8,78.9 1541.1,71.7" fill="#9e81a3" /><line x1="1538.1" y1="66.2" x2="1551.8" y2="78.2" stroke="#a88cab" stroke-width="0.9"/><polygon points="1526.5,81.7 1515.7,78.8 1515.7,80.2 1526.5,85.7" fill="#9e81a3" /><line x1="1515.7" y1="79.4" x2="1529.5" y2="78.0" stroke="#a88cab" stroke-width="0.9"/><polygon points="1541.1,82.2 1551.8,92.0 1551.8,93.4 1541.1,86.2" fill="#9e81a3" /><line x1="1538.1" y1="80.7" x2="1551.8" y2="92.7" stroke="#a88cab" stroke-width="0.9"/><polygon points="1525.5,47.4 1533.8,43.9 1542.1,47.4" fill="#9e81a3" />
<line x1="76.0" y1="879.9" x2="256.6" y2="775.7" stroke="#f7f6ee" stroke-width="0.9" opacity="0.95"/>
<line x1="88.0" y1="887.6" x2="256.6" y2="790.3" stroke="#f7f6ee" stroke-width="0.9" opacity="0.95"/>
<line x1="104.0" y1="892.8" x2="256.6" y2="804.8" stroke="#f7f6ee" stroke-width="0.9" opacity="0.95"/>
<line x1="100.0" y1="900.2" x2="292.7" y2="789.0" stroke="#f7f6ee" stroke-width="0.9" opacity="0.95"/>
<line x1="116.0" y1="905.5" x2="292.7" y2="803.6" stroke="#f7f6ee" stroke-width="0.9" opacity="0.95"/>
<line x1="128.0" y1="913.1" x2="292.7" y2="818.1" stroke="#f7f6ee" stroke-width="0.9" opacity="0.95"/>
<line x1="256.6" y1="775.8" x2="318.0" y2="812.0" stroke="#f7f6ee" stroke-width="0.8" opacity="0.95"/>
<line x1="292.7" y1="788.5" x2="331.0" y2="838.0" stroke="#f7f6ee" stroke-width="0.8" opacity="0.95"/>
<line x1="292.7" y1="788.5" x2="345.0" y2="793.0" stroke="#f7f6ee" stroke-width="0.8" opacity="0.95"/>
<line x1="256.6" y1="790.4" x2="318.0" y2="814.6" stroke="#f7f6ee" stroke-width="0.8" opacity="0.95"/>
<line x1="292.7" y1="803.1" x2="331.0" y2="840.6" stroke="#f7f6ee" stroke-width="0.8" opacity="0.95"/>
<line x1="292.7" y1="803.1" x2="345.0" y2="795.6" stroke="#f7f6ee" stroke-width="0.8" opacity="0.95"/>
<line x1="256.6" y1="805.0" x2="318.0" y2="817.2" stroke="#f7f6ee" stroke-width="0.8" opacity="0.95"/>
<line x1="292.7" y1="817.7" x2="331.0" y2="843.2" stroke="#f7f6ee" stroke-width="0.8" opacity="0.95"/>
<line x1="292.7" y1="817.7" x2="345.0" y2="798.2" stroke="#f7f6ee" stroke-width="0.8" opacity="0.95"/>
<line x1="1516.5" y1="50.4" x2="1606.6" y2="0.8" stroke="#f0d8c6" stroke-width="0.8" opacity="0.95"/>
<line x1="1516.5" y1="64.9" x2="1606.6" y2="15.4" stroke="#f0d8c6" stroke-width="0.8" opacity="0.95"/>
<line x1="1516.5" y1="79.4" x2="1606.6" y2="29.9" stroke="#f0d8c6" stroke-width="0.8" opacity="0.95"/>
<line x1="1552.3" y1="64.0" x2="1606.6" y2="34.2" stroke="#f0d8c6" stroke-width="0.8" opacity="0.95"/>
<line x1="1552.3" y1="78.6" x2="1606.6" y2="48.7" stroke="#f0d8c6" stroke-width="0.8" opacity="0.95"/>
<line x1="1552.3" y1="93.1" x2="1606.6" y2="63.2" stroke="#f0d8c6" stroke-width="0.8" opacity="0.95"/>
<line x1="1516.0" y1="46.0" x2="1480.0" y2="133.0" stroke="#f7f6ee" stroke-width="0.8" opacity="0.95"/>
<line x1="1553.0" y1="56.0" x2="1513.0" y2="145.0" stroke="#f7f6ee" stroke-width="0.8" opacity="0.95"/>
<line x1="1516.0" y1="62.0" x2="1480.0" y2="133.0" stroke="#f7f6ee" stroke-width="0.8" opacity="0.95"/>
<line x1="1553.0" y1="72.0" x2="1513.0" y2="145.0" stroke="#f7f6ee" stroke-width="0.8" opacity="0.95"/>
<line x1="1516.0" y1="76.0" x2="1480.0" y2="133.0" stroke="#f7f6ee" stroke-width="0.8" opacity="0.95"/>
<line x1="1553.0" y1="86.0" x2="1513.0" y2="145.0" stroke="#f7f6ee" stroke-width="0.8" opacity="0.95"/>
<polygon points="1415.2,83.1 1418.2,80.6 1429.6,80.6 1432.1,83.1 1428.5,85.6 1418.8,85.6" fill="#9fb24a" opacity="0.8"/><rect x="1421.4" y="76.1" width="2.6" height="6.6" fill="#731638"/><polygon points="1415.8,64.1 1424.7,62.0 1420.1,67.5" fill="#d2e187" /><polygon points="1424.7,62.0 1431.0,69.3 1427.7,70.0 1420.1,67.5" fill="#bfd172" /><polygon points="1415.8,64.1 1420.1,67.5 1414.4,73.1" fill="#b1c464" /><polygon points="1420.1,67.5 1427.7,70.0 1423.5,74.6 1414.4,73.1" fill="#a2b551" /><polygon points="1427.7,70.0 1431.0,69.3 1429.1,76.4" fill="#86993d" /><polygon points="1414.4,73.1 1423.5,74.6 1421.2,78.2" fill="#95a847" /><polygon points="1423.5,74.6 1427.7,70.0 1429.1,76.4 1421.2,78.2" fill="#8c9f41" />
<polygon points="1451.3,92.3 1454.3,89.8 1465.7,89.8 1468.2,92.3 1464.6,94.8 1454.9,94.8" fill="#9fb24a" opacity="0.8"/><rect x="1457.5" y="85.3" width="2.6" height="6.6" fill="#731638"/><polygon points="1451.9,73.3 1460.8,71.2 1456.2,76.7" fill="#d2e187" /><polygon points="1460.8,71.2 1467.1,78.5 1463.8,79.2 1456.2,76.7" fill="#bfd172" /><polygon points="1451.9,73.3 1456.2,76.7 1450.5,82.3" fill="#b1c464" /><polygon points="1456.2,76.7 1463.8,79.2 1459.6,83.8 1450.5,82.3" fill="#a2b551" /><polygon points="1463.8,79.2 1467.1,78.5 1465.2,85.6" fill="#86993d" /><polygon points="1450.5,82.3 1459.6,83.8 1457.3,87.4" fill="#95a847" /><polygon points="1459.6,83.8 1463.8,79.2 1465.2,85.6 1457.3,87.4" fill="#8c9f41" />
<polygon points="1386.4,94.0 1392.4,89.7 1400.9,89.7 1406.4,93.7 1400.4,97.2 1392.4,97.2" fill="#a3b742" opacity="0.75"/><rect x="1391.6" y="87.5" width="3.6" height="6.8" fill="#731638" rx="0.8"/><polygon points="1393.4,71.6 1400.3,75.4 1393.4,79.3 1386.5,75.4" fill="#c4d571" /><polygon points="1386.5,75.4 1393.4,79.3 1393.4,89.1 1386.5,85.3" fill="#a3b552" /><polygon points="1393.4,79.3 1400.3,75.4 1400.3,85.3 1393.4,89.1" fill="#84973c" />
<polygon points="1365.6,111.8 1368.6,109.3 1380.0,109.3 1382.5,111.8 1378.9,114.3 1369.2,114.3" fill="#9fb24a" opacity="0.8"/><rect x="1371.8" y="104.8" width="2.6" height="6.6" fill="#731638"/><polygon points="1366.2,92.8 1375.1,90.7 1370.5,96.2" fill="#d2e187" /><polygon points="1375.1,90.7 1381.4,98.0 1378.1,98.7 1370.5,96.2" fill="#bfd172" /><polygon points="1366.2,92.8 1370.5,96.2 1364.8,101.8" fill="#b1c464" /><polygon points="1370.5,96.2 1378.1,98.7 1373.9,103.3 1364.8,101.8" fill="#a2b551" /><polygon points="1378.1,98.7 1381.4,98.0 1379.5,105.1" fill="#86993d" /><polygon points="1364.8,101.8 1373.9,103.3 1371.6,106.9" fill="#95a847" /><polygon points="1373.9,103.3 1378.1,98.7 1379.5,105.1 1371.6,106.9" fill="#8c9f41" />
<polygon points="1414.7,118.9 1417.7,116.4 1429.1,116.4 1431.6,118.9 1428.0,121.4 1418.3,121.4" fill="#9fb24a" opacity="0.8"/><rect x="1420.9" y="111.9" width="2.6" height="6.6" fill="#731638"/><polygon points="1415.3,99.9 1424.2,97.8 1419.6,103.3" fill="#d2e187" /><polygon points="1424.2,97.8 1430.5,105.1 1427.2,105.8 1419.6,103.3" fill="#bfd172" /><polygon points="1415.3,99.9 1419.6,103.3 1413.9,108.9" fill="#b1c464" /><polygon points="1419.6,103.3 1427.2,105.8 1423.0,110.4 1413.9,108.9" fill="#a2b551" /><polygon points="1427.2,105.8 1430.5,105.1 1428.6,112.2" fill="#86993d" /><polygon points="1413.9,108.9 1423.0,110.4 1420.7,114.0" fill="#95a847" /><polygon points="1423.0,110.4 1427.2,105.8 1428.6,112.2 1420.7,114.0" fill="#8c9f41" />
<polygon points="1305.3,130.8 1308.3,128.3 1319.7,128.3 1322.2,130.8 1318.6,133.3 1308.9,133.3" fill="#9fb24a" opacity="0.8"/><rect x="1311.5" y="123.8" width="2.6" height="6.6" fill="#731638"/><polygon points="1305.9,111.8 1314.8,109.7 1310.2,115.2" fill="#d2e187" /><polygon points="1314.8,109.7 1321.1,117.0 1317.8,117.7 1310.2,115.2" fill="#bfd172" /><polygon points="1305.9,111.8 1310.2,115.2 1304.5,120.8" fill="#b1c464" /><polygon points="1310.2,115.2 1317.8,117.7 1313.6,122.3 1304.5,120.8" fill="#a2b551" /><polygon points="1317.8,117.7 1321.1,117.0 1319.2,124.1" fill="#86993d" /><polygon points="1304.5,120.8 1313.6,122.3 1311.3,125.9" fill="#95a847" /><polygon points="1313.6,122.3 1317.8,117.7 1319.2,124.1 1311.3,125.9" fill="#8c9f41" />
<polygon points="1378.8,147.2 1384.8,142.9 1393.3,142.9 1398.8,146.9 1392.8,150.4 1384.8,150.4" fill="#a3b742" opacity="0.75"/><rect x="1384.0" y="140.7" width="3.6" height="6.8" fill="#731638" rx="0.8"/><polygon points="1385.8,124.8 1392.7,128.6 1385.8,132.5 1378.9,128.6" fill="#c4d571" /><polygon points="1378.9,128.6 1385.8,132.5 1385.8,142.3 1378.9,138.5" fill="#a3b552" /><polygon points="1385.8,132.5 1392.7,128.6 1392.7,138.5 1385.8,142.3" fill="#84973c" />
<polygon points="1342.0,154.7 1345.0,152.2 1356.4,152.2 1358.9,154.7 1355.3,157.2 1345.6,157.2" fill="#9fb24a" opacity="0.8"/><rect x="1348.2" y="147.7" width="2.6" height="6.6" fill="#731638"/><polygon points="1342.6,135.7 1351.5,133.6 1346.9,139.1" fill="#d2e187" /><polygon points="1351.5,133.6 1357.8,140.9 1354.5,141.6 1346.9,139.1" fill="#bfd172" /><polygon points="1342.6,135.7 1346.9,139.1 1341.2,144.7" fill="#b1c464" /><polygon points="1346.9,139.1 1354.5,141.6 1350.3,146.2 1341.2,144.7" fill="#a2b551" /><polygon points="1354.5,141.6 1357.8,140.9 1355.9,148.0" fill="#86993d" /><polygon points="1341.2,144.7 1350.3,146.2 1348.0,149.8" fill="#95a847" /><polygon points="1350.3,146.2 1354.5,141.6 1355.9,148.0 1348.0,149.8" fill="#8c9f41" />
<polygon points="1601.8,180.9 1604.8,178.4 1616.2,178.4 1618.7,180.9 1615.1,183.4 1605.4,183.4" fill="#9fb24a" opacity="0.8"/><rect x="1608.0" y="173.9" width="2.6" height="6.6" fill="#731638"/><polygon points="1602.4,161.9 1611.3,159.8 1606.7,165.3" fill="#d2e187" /><polygon points="1611.3,159.8 1617.6,167.1 1614.3,167.8 1606.7,165.3" fill="#bfd172" /><polygon points="1602.4,161.9 1606.7,165.3 1601.0,170.9" fill="#b1c464" /><polygon points="1606.7,165.3 1614.3,167.8 1610.1,172.4 1601.0,170.9" fill="#a2b551" /><polygon points="1614.3,167.8 1617.6,167.1 1615.7,174.2" fill="#86993d" /><polygon points="1601.0,170.9 1610.1,172.4 1607.8,176.0" fill="#95a847" /><polygon points="1610.1,172.4 1614.3,167.8 1615.7,174.2 1607.8,176.0" fill="#8c9f41" />
<polygon points="1643.1,199.7 1646.1,197.2 1657.5,197.2 1660.0,199.7 1656.4,202.2 1646.7,202.2" fill="#9fb24a" opacity="0.8"/><rect x="1649.3" y="192.7" width="2.6" height="6.6" fill="#731638"/><polygon points="1643.7,180.7 1652.6,178.6 1648.0,184.1" fill="#d2e187" /><polygon points="1652.6,178.6 1658.9,185.9 1655.6,186.6 1648.0,184.1" fill="#bfd172" /><polygon points="1643.7,180.7 1648.0,184.1 1642.3,189.7" fill="#b1c464" /><polygon points="1648.0,184.1 1655.6,186.6 1651.4,191.2 1642.3,189.7" fill="#a2b551" /><polygon points="1655.6,186.6 1658.9,185.9 1657.0,193.0" fill="#86993d" /><polygon points="1642.3,189.7 1651.4,191.2 1649.1,194.8" fill="#95a847" /><polygon points="1651.4,191.2 1655.6,186.6 1657.0,193.0 1649.1,194.8" fill="#8c9f41" />
<polygon points="1563.7,215.7 1566.7,213.2 1578.1,213.2 1580.6,215.7 1577.0,218.2 1567.3,218.2" fill="#9fb24a" opacity="0.8"/><rect x="1569.9" y="208.7" width="2.6" height="6.6" fill="#731638"/><polygon points="1564.3,196.7 1573.2,194.6 1568.6,200.1" fill="#d2e187" /><polygon points="1573.2,194.6 1579.5,201.9 1576.2,202.6 1568.6,200.1" fill="#bfd172" /><polygon points="1564.3,196.7 1568.6,200.1 1562.9,205.7" fill="#b1c464" /><polygon points="1568.6,200.1 1576.2,202.6 1572.0,207.2 1562.9,205.7" fill="#a2b551" /><polygon points="1576.2,202.6 1579.5,201.9 1577.6,209.0" fill="#86993d" /><polygon points="1562.9,205.7 1572.0,207.2 1569.7,210.8" fill="#95a847" /><polygon points="1572.0,207.2 1576.2,202.6 1577.6,209.0 1569.7,210.8" fill="#8c9f41" />
<polygon points="1607.2,220.0 1610.2,217.5 1621.6,217.5 1624.1,220.0 1620.5,222.5 1610.8,222.5" fill="#9fb24a" opacity="0.8"/><rect x="1613.4" y="213.0" width="2.6" height="6.6" fill="#731638"/><polygon points="1607.8,201.0 1616.7,198.9 1612.1,204.4" fill="#d2e187" /><polygon points="1616.7,198.9 1623.0,206.2 1619.7,206.9 1612.1,204.4" fill="#bfd172" /><polygon points="1607.8,201.0 1612.1,204.4 1606.4,210.0" fill="#b1c464" /><polygon points="1612.1,204.4 1619.7,206.9 1615.5,211.5 1606.4,210.0" fill="#a2b551" /><polygon points="1619.7,206.9 1623.0,206.2 1621.1,213.3" fill="#86993d" /><polygon points="1606.4,210.0 1615.5,211.5 1613.2,215.1" fill="#95a847" /><polygon points="1615.5,211.5 1619.7,206.9 1621.1,213.3 1613.2,215.1" fill="#8c9f41" />
<polygon points="1589.6,230.4 1595.6,226.1 1604.1,226.1 1609.6,230.1 1603.6,233.6 1595.6,233.6" fill="#a3b742" opacity="0.75"/><rect x="1594.8" y="223.9" width="3.6" height="6.8" fill="#731638" rx="0.8"/><polygon points="1596.6,208.0 1603.5,211.8 1596.6,215.7 1589.7,211.8" fill="#c4d571" /><polygon points="1589.7,211.8 1596.6,215.7 1596.6,225.5 1589.7,221.7" fill="#a3b552" /><polygon points="1596.6,215.7 1603.5,211.8 1603.5,221.7 1596.6,225.5" fill="#84973c" />
<polygon points="1649.7,232.5 1655.7,228.2 1664.2,228.2 1669.7,232.2 1663.7,235.7 1655.7,235.7" fill="#a3b742" opacity="0.75"/><rect x="1654.9" y="226.0" width="3.6" height="6.8" fill="#731638" rx="0.8"/><polygon points="1656.7,210.1 1663.6,213.9 1656.7,217.8 1649.8,213.9" fill="#c4d571" /><polygon points="1649.8,213.9 1656.7,217.8 1656.7,227.6 1649.8,223.8" fill="#a3b552" /><polygon points="1656.7,217.8 1663.6,213.9 1663.6,223.8 1656.7,227.6" fill="#84973c" />
<polygon points="1619.5,251.2 1622.5,248.7 1633.9,248.7 1636.4,251.2 1632.8,253.7 1623.1,253.7" fill="#9fb24a" opacity="0.8"/><rect x="1625.7" y="244.2" width="2.6" height="6.6" fill="#731638"/><polygon points="1620.1,232.2 1629.0,230.1 1624.4,235.6" fill="#d2e187" /><polygon points="1629.0,230.1 1635.3,237.4 1632.0,238.1 1624.4,235.6" fill="#bfd172" /><polygon points="1620.1,232.2 1624.4,235.6 1618.7,241.2" fill="#b1c464" /><polygon points="1624.4,235.6 1632.0,238.1 1627.8,242.7 1618.7,241.2" fill="#a2b551" /><polygon points="1632.0,238.1 1635.3,237.4 1633.4,244.5" fill="#86993d" /><polygon points="1618.7,241.2 1627.8,242.7 1625.5,246.3" fill="#95a847" /><polygon points="1627.8,242.7 1632.0,238.1 1633.4,244.5 1625.5,246.3" fill="#8c9f41" />
<polygon points="1567.8,259.8 1570.8,257.3 1582.2,257.3 1584.7,259.8 1581.1,262.3 1571.4,262.3" fill="#9fb24a" opacity="0.8"/><rect x="1574.0" y="252.8" width="2.6" height="6.6" fill="#731638"/><polygon points="1568.4,240.8 1577.3,238.7 1572.7,244.2" fill="#d2e187" /><polygon points="1577.3,238.7 1583.6,246.0 1580.3,246.7 1572.7,244.2" fill="#bfd172" /><polygon points="1568.4,240.8 1572.7,244.2 1567.0,249.8" fill="#b1c464" /><polygon points="1572.7,244.2 1580.3,246.7 1576.1,251.3 1567.0,249.8" fill="#a2b551" /><polygon points="1580.3,246.7 1583.6,246.0 1581.7,253.1" fill="#86993d" /><polygon points="1567.0,249.8 1576.1,251.3 1573.8,254.9" fill="#95a847" /><polygon points="1576.1,251.3 1580.3,246.7 1581.7,253.1 1573.8,254.9" fill="#8c9f41" />
<polygon points="1497.9,299.9 1503.9,295.6 1512.4,295.6 1517.9,299.6 1511.9,303.1 1503.9,303.1" fill="#a3b742" opacity="0.75"/><rect x="1503.1" y="293.4" width="3.6" height="6.8" fill="#731638" rx="0.8"/><polygon points="1504.9,277.5 1511.8,281.3 1504.9,285.2 1498.0,281.3" fill="#c4d571" /><polygon points="1498.0,281.3 1504.9,285.2 1504.9,295.0 1498.0,291.2" fill="#a3b552" /><polygon points="1504.9,285.2 1511.8,281.3 1511.8,291.2 1504.9,295.0" fill="#84973c" />
<polygon points="134.4,802.3 137.4,799.8 148.8,799.8 151.3,802.3 147.7,804.8 138.0,804.8" fill="#9fb24a" opacity="0.8"/><rect x="140.6" y="795.3" width="2.6" height="6.6" fill="#731638"/><polygon points="135.0,783.3 143.9,781.2 139.3,786.7" fill="#d2e187" /><polygon points="143.9,781.2 150.2,788.5 146.9,789.2 139.3,786.7" fill="#bfd172" /><polygon points="135.0,783.3 139.3,786.7 133.6,792.3" fill="#b1c464" /><polygon points="139.3,786.7 146.9,789.2 142.7,793.8 133.6,792.3" fill="#a2b551" /><polygon points="146.9,789.2 150.2,788.5 148.3,795.6" fill="#86993d" /><polygon points="133.6,792.3 142.7,793.8 140.4,797.4" fill="#95a847" /><polygon points="142.7,793.8 146.9,789.2 148.3,795.6 140.4,797.4" fill="#8c9f41" />
<polygon points="167.4,816.5 170.4,814.0 181.8,814.0 184.3,816.5 180.7,819.0 171.0,819.0" fill="#9fb24a" opacity="0.8"/><rect x="173.6" y="809.5" width="2.6" height="6.6" fill="#731638"/><polygon points="168.0,797.5 176.9,795.4 172.3,800.9" fill="#d2e187" /><polygon points="176.9,795.4 183.2,802.7 179.9,803.4 172.3,800.9" fill="#bfd172" /><polygon points="168.0,797.5 172.3,800.9 166.6,806.5" fill="#b1c464" /><polygon points="172.3,800.9 179.9,803.4 175.7,808.0 166.6,806.5" fill="#a2b551" /><polygon points="179.9,803.4 183.2,802.7 181.3,809.8" fill="#86993d" /><polygon points="166.6,806.5 175.7,808.0 173.4,811.6" fill="#95a847" /><polygon points="175.7,808.0 179.9,803.4 181.3,809.8 173.4,811.6" fill="#8c9f41" />
<polygon points="110.5,821.8 113.5,819.3 124.9,819.3 127.4,821.8 123.8,824.3 114.1,824.3" fill="#9fb24a" opacity="0.8"/><rect x="116.7" y="814.8" width="2.6" height="6.6" fill="#731638"/><polygon points="111.1,802.8 120.0,800.7 115.4,806.2" fill="#d2e187" /><polygon points="120.0,800.7 126.3,808.0 123.0,808.7 115.4,806.2" fill="#bfd172" /><polygon points="111.1,802.8 115.4,806.2 109.7,811.8" fill="#b1c464" /><polygon points="115.4,806.2 123.0,808.7 118.8,813.3 109.7,811.8" fill="#a2b551" /><polygon points="123.0,808.7 126.3,808.0 124.4,815.1" fill="#86993d" /><polygon points="109.7,811.8 118.8,813.3 116.5,816.9" fill="#95a847" /><polygon points="118.8,813.3 123.0,808.7 124.4,815.1 116.5,816.9" fill="#8c9f41" />
<polygon points="141.8,831.9 147.8,827.6 156.3,827.6 161.8,831.6 155.8,835.1 147.8,835.1" fill="#a3b742" opacity="0.75"/><rect x="147.0" y="825.4" width="3.6" height="6.8" fill="#731638" rx="0.8"/><polygon points="148.8,809.5 155.7,813.3 148.8,817.2 141.9,813.3" fill="#c4d571" /><polygon points="141.9,813.3 148.8,817.2 148.8,827.0 141.9,823.2" fill="#a3b552" /><polygon points="148.8,817.2 155.7,813.3 155.7,823.2 148.8,827.0" fill="#84973c" />
<polygon points="88.9,836.8 94.9,832.5 103.4,832.5 108.9,836.5 102.9,840.0 94.9,840.0" fill="#a3b742" opacity="0.75"/><rect x="94.1" y="830.3" width="3.6" height="6.8" fill="#731638" rx="0.8"/><polygon points="95.9,814.4 102.8,818.2 95.9,822.1 89.0,818.2" fill="#c4d571" /><polygon points="89.0,818.2 95.9,822.1 95.9,831.9 89.0,828.1" fill="#a3b552" /><polygon points="95.9,822.1 102.8,818.2 102.8,828.1 95.9,831.9" fill="#84973c" />
<polygon points="126.3,853.6 129.3,851.1 140.7,851.1 143.2,853.6 139.6,856.1 129.9,856.1" fill="#9fb24a" opacity="0.8"/><rect x="132.5" y="846.6" width="2.6" height="6.6" fill="#731638"/><polygon points="126.9,834.6 135.8,832.5 131.2,838.0" fill="#d2e187" /><polygon points="135.8,832.5 142.1,839.8 138.8,840.5 131.2,838.0" fill="#bfd172" /><polygon points="126.9,834.6 131.2,838.0 125.5,843.6" fill="#b1c464" /><polygon points="131.2,838.0 138.8,840.5 134.6,845.1 125.5,843.6" fill="#a2b551" /><polygon points="138.8,840.5 142.1,839.8 140.2,846.9" fill="#86993d" /><polygon points="125.5,843.6 134.6,845.1 132.3,848.7" fill="#95a847" /><polygon points="134.6,845.1 138.8,840.5 140.2,846.9 132.3,848.7" fill="#8c9f41" />
<polygon points="362.5,915.6 365.5,913.1 376.9,913.1 379.4,915.6 375.8,918.1 366.1,918.1" fill="#9fb24a" opacity="0.8"/><rect x="368.7" y="908.6" width="2.6" height="6.6" fill="#731638"/><polygon points="363.1,896.6 372.0,894.5 367.4,900.0" fill="#d2e187" /><polygon points="372.0,894.5 378.3,901.8 375.0,902.5 367.4,900.0" fill="#bfd172" /><polygon points="363.1,896.6 367.4,900.0 361.7,905.6" fill="#b1c464" /><polygon points="367.4,900.0 375.0,902.5 370.8,907.1 361.7,905.6" fill="#a2b551" /><polygon points="375.0,902.5 378.3,901.8 376.4,908.9" fill="#86993d" /><polygon points="361.7,905.6 370.8,907.1 368.5,910.7" fill="#95a847" /><polygon points="370.8,907.1 375.0,902.5 376.4,908.9 368.5,910.7" fill="#8c9f41" />
<polygon points="327.7,927.5 330.7,925.0 342.1,925.0 344.6,927.5 341.0,930.0 331.3,930.0" fill="#9fb24a" opacity="0.8"/><rect x="333.9" y="920.5" width="2.6" height="6.6" fill="#731638"/><polygon points="328.3,908.5 337.2,906.4 332.6,911.9" fill="#d2e187" /><polygon points="337.2,906.4 343.5,913.7 340.2,914.4 332.6,911.9" fill="#bfd172" /><polygon points="328.3,908.5 332.6,911.9 326.9,917.5" fill="#b1c464" /><polygon points="332.6,911.9 340.2,914.4 336.0,919.0 326.9,917.5" fill="#a2b551" /><polygon points="340.2,914.4 343.5,913.7 341.6,920.8" fill="#86993d" /><polygon points="326.9,917.5 336.0,919.0 333.7,922.6" fill="#95a847" /><polygon points="336.0,919.0 340.2,914.4 341.6,920.8 333.7,922.6" fill="#8c9f41" />
<polygon points="291.6,938.5 294.6,936.0 306.0,936.0 308.5,938.5 304.9,941.0 295.2,941.0" fill="#9fb24a" opacity="0.8"/><rect x="297.8" y="931.5" width="2.6" height="6.6" fill="#731638"/><polygon points="292.2,919.5 301.1,917.4 296.5,922.9" fill="#d2e187" /><polygon points="301.1,917.4 307.4,924.7 304.1,925.4 296.5,922.9" fill="#bfd172" /><polygon points="292.2,919.5 296.5,922.9 290.8,928.5" fill="#b1c464" /><polygon points="296.5,922.9 304.1,925.4 299.9,930.0 290.8,928.5" fill="#a2b551" /><polygon points="304.1,925.4 307.4,924.7 305.5,931.8" fill="#86993d" /><polygon points="290.8,928.5 299.9,930.0 297.6,933.6" fill="#95a847" /><polygon points="299.9,930.0 304.1,925.4 305.5,931.8 297.6,933.6" fill="#8c9f41" />
<polygon points="403.5,946.9 406.5,944.4 417.9,944.4 420.4,946.9 416.8,949.4 407.1,949.4" fill="#9fb24a" opacity="0.8"/><rect x="409.7" y="939.9" width="2.6" height="6.6" fill="#731638"/><polygon points="404.1,927.9 413.0,925.8 408.4,931.3" fill="#d2e187" /><polygon points="413.0,925.8 419.3,933.1 416.0,933.8 408.4,931.3" fill="#bfd172" /><polygon points="404.1,927.9 408.4,931.3 402.7,936.9" fill="#b1c464" /><polygon points="408.4,931.3 416.0,933.8 411.8,938.4 402.7,936.9" fill="#a2b551" /><polygon points="416.0,933.8 419.3,933.1 417.4,940.2" fill="#86993d" /><polygon points="402.7,936.9 411.8,938.4 409.5,942.0" fill="#95a847" /><polygon points="411.8,938.4 416.0,933.8 417.4,940.2 409.5,942.0" fill="#8c9f41" />
<polygon points="360.2,953.1 363.2,950.6 374.6,950.6 377.1,953.1 373.5,955.6 363.8,955.6" fill="#9fb24a" opacity="0.8"/><rect x="366.4" y="946.1" width="2.6" height="6.6" fill="#731638"/><polygon points="360.8,934.1 369.7,932.0 365.1,937.5" fill="#d2e187" /><polygon points="369.7,932.0 376.0,939.3 372.7,940.0 365.1,937.5" fill="#bfd172" /><polygon points="360.8,934.1 365.1,937.5 359.4,943.1" fill="#b1c464" /><polygon points="365.1,937.5 372.7,940.0 368.5,944.6 359.4,943.1" fill="#a2b551" /><polygon points="372.7,940.0 376.0,939.3 374.1,946.4" fill="#86993d" /><polygon points="359.4,943.1 368.5,944.6 366.2,948.2" fill="#95a847" /><polygon points="368.5,944.6 372.7,940.0 374.1,946.4 366.2,948.2" fill="#8c9f41" />
<polygon points="317.0,965.8 323.0,961.5 331.5,961.5 337.0,965.5 331.0,969.0 323.0,969.0" fill="#a3b742" opacity="0.75"/><rect x="322.2" y="959.3" width="3.6" height="6.8" fill="#731638" rx="0.8"/><polygon points="324.0,943.4 330.9,947.2 324.0,951.1 317.1,947.2" fill="#c4d571" /><polygon points="317.1,947.2 324.0,951.1 324.0,960.9 317.1,957.1" fill="#a3b552" /><polygon points="324.0,951.1 330.9,947.2 330.9,957.1 324.0,960.9" fill="#84973c" />
<polygon points="386.0,976.4 392.0,972.1 400.5,972.1 406.0,976.1 400.0,979.6 392.0,979.6" fill="#a3b742" opacity="0.75"/><rect x="391.2" y="969.9" width="3.6" height="6.8" fill="#731638" rx="0.8"/><polygon points="393.0,954.0 399.9,957.8 393.0,961.7 386.1,957.8" fill="#c4d571" /><polygon points="386.1,957.8 393.0,961.7 393.0,971.5 386.1,967.7" fill="#a3b552" /><polygon points="393.0,961.7 399.9,957.8 399.9,967.7 393.0,971.5" fill="#84973c" />
<line x1="1135.4" y1="83.2" x2="1321.2" y2="189.7" stroke="#a8a9ac" stroke-width="1.3"/><circle cx="1135.4" cy="83.2" r="3.7" fill="#a8a9ac"/>
<line x1="198.7" y1="623.1" x2="382.4" y2="728.6" stroke="#a8a9ac" stroke-width="1.3"/><circle cx="198.7" cy="623.1" r="3.7" fill="#a8a9ac"/>
<line x1="534.7" y1="435.7" x2="797" y2="586.6" stroke="#a8a9ac" stroke-width="1.3"/><circle cx="534.7" cy="435.7" r="3.7" fill="#a8a9ac"/>
<line x1="860.3" y1="247.3" x2="1081.2" y2="375.3" stroke="#a8a9ac" stroke-width="1.3"/><circle cx="860.3" cy="247.3" r="3.7" fill="#a8a9ac"/>
<line x1="1666" y1="336.8" x2="1475" y2="226.2" stroke="#a8a9ac" stroke-width="1.3"/><circle cx="1666" cy="336.8" r="3.7" fill="#a8a9ac"/>
<line x1="1449.3" y1="480.9" x2="1209.4" y2="342.4" stroke="#a8a9ac" stroke-width="1.3"/><circle cx="1449.3" cy="480.9" r="3.7" fill="#a8a9ac"/>
<line x1="669.9" y1="942.8" x2="451.5" y2="814.2" stroke="#a8a9ac" stroke-width="1.3"/><circle cx="669.9" cy="942.8" r="3.7" fill="#a8a9ac"/>
<line x1="488.3" y1="1039.5" x2="261.2" y2="907.9" stroke="#a8a9ac" stroke-width="1.3"/><circle cx="488.3" cy="1039.5" r="3.7" fill="#a8a9ac"/>
<g class="lab"><text x="993.0" y="60.2" font-size="23.62" fill="#0b2948" stroke="#0b2948" stroke-width="0.75" textLength="140.7" lengthAdjust="spacingAndGlyphs" >CONVERTER</text><text x="1021.1" y="82.2" font-size="23.62" fill="#0b2948" stroke="#0b2948" stroke-width="0.75" textLength="112.7" lengthAdjust="spacingAndGlyphs" >STATIONS</text><text x="1510.0" y="34.6" font-size="19.86" fill="#0b2948" stroke="#0b2948" stroke-width="0.75" textLength="68.4" lengthAdjust="spacingAndGlyphs" >500 kV</text><text x="1619.0" y="102.9" font-size="19.42" fill="#6e6f72" stroke="#6e6f72" stroke-width="0.75" textLength="177.5" lengthAdjust="spacingAndGlyphs" >CONNECTS IN THE</text><text x="1619.9" y="125.1" font-size="19.42" fill="#6e6f72" stroke="#6e6f72" stroke-width="0.75" textLength="164.1" lengthAdjust="spacingAndGlyphs" >LATROBE VALLEY</text><text x="717.7" y="225.2" font-size="23.62" fill="#0b2948" stroke="#0b2948" stroke-width="0.75" textLength="139.3" lengthAdjust="spacingAndGlyphs" >TRANSITION</text><text x="787.4" y="246.1" font-size="23.19" fill="#0b2948" stroke="#0b2948" stroke-width="0.75" textLength="71.2" lengthAdjust="spacingAndGlyphs" >POINT</text><text x="365.3" y="412.3" font-size="22.90" fill="#12afc4" stroke="#12afc4" stroke-width="0.75" textLength="95.6" lengthAdjust="spacingAndGlyphs" >~250 KM</text><text x="465.4" y="412.3" font-size="22.90" fill="#0b2948" stroke="#0b2948" stroke-width="0.75" textLength="67.4" lengthAdjust="spacingAndGlyphs" >HVDC</text><text x="360.9" y="434.2" font-size="23.48" fill="#0b2948" stroke="#0b2948" stroke-width="0.75" textLength="171.9" lengthAdjust="spacingAndGlyphs" >SUBSEA CABLE</text><text x="349.5" y="453.5" font-size="13.91" fill="#0b2948" stroke="#0b2948" stroke-width="0.15" textLength="183.0" lengthAdjust="spacingAndGlyphs" >(BURIED UNDERGROUND</text><text x="358.3" y="471.8" font-size="14.64" fill="#0b2948" stroke="#0b2948" stroke-width="0.15" textLength="174.2" lengthAdjust="spacingAndGlyphs" >TO APPROX 1.5 METRES)</text><text x="1453.9" y="500.9" font-size="23.33" fill="#12afc4" stroke="#12afc4" stroke-width="0.75" textLength="83.2" lengthAdjust="spacingAndGlyphs" >~90 KM</text><text x="1541.5" y="500.9" font-size="23.33" fill="#0b2948" stroke="#0b2948" stroke-width="0.75" textLength="178.1" lengthAdjust="spacingAndGlyphs" >UNDERGROUND</text><text x="1453.6" y="523.2" font-size="23.33" fill="#0b2948" stroke="#0b2948" stroke-width="0.75" textLength="210.1" lengthAdjust="spacingAndGlyphs" >HVDC LAND CABLE</text><text x="55.9" y="600.2" font-size="23.62" fill="#0b2948" stroke="#0b2948" stroke-width="0.75" textLength="140.9" lengthAdjust="spacingAndGlyphs" >CONVERTER</text><text x="84.2" y="622.2" font-size="23.48" fill="#0b2948" stroke="#0b2948" stroke-width="0.75" textLength="112.7" lengthAdjust="spacingAndGlyphs" >STATIONS</text><text x="182.4" y="780.5" font-size="20.43" fill="#0b2948" stroke="#0b2948" stroke-width="0.75" textLength="67.3" lengthAdjust="spacingAndGlyphs" >220 kV</text><text x="1.6" y="973.0" font-size="20.43" fill="#6e6f72" stroke="#6e6f72" stroke-width="0.75" textLength="177.2" lengthAdjust="spacingAndGlyphs" >CONNECTS IN THE</text><text x="45.5" y="995.1" font-size="20.58" fill="#6e6f72" stroke="#6e6f72" stroke-width="0.75" textLength="133.3" lengthAdjust="spacingAndGlyphs" >BURNIE AREA</text><text x="673.1" y="962.1" font-size="23.62" fill="#0b2948" stroke="#0b2948" stroke-width="0.75" textLength="131.2" lengthAdjust="spacingAndGlyphs" >SWITCHING</text><text x="673.1" y="983.9" font-size="23.19" fill="#0b2948" stroke="#0b2948" stroke-width="0.75" textLength="97.6" lengthAdjust="spacingAndGlyphs" >STATION</text><text x="1670.1" y="363.0" font-size="23.33" fill="#0b2948" stroke="#0b2948" stroke-width="0.75" textLength="130.0" lengthAdjust="spacingAndGlyphs" >SWITCHING</text><text x="1670.1" y="385.0" font-size="23.33" fill="#0b2948" stroke="#0b2948" stroke-width="0.75" textLength="96.5" lengthAdjust="spacingAndGlyphs" >STATION</text><text x="491.9" y="1059.4" font-size="23.91" fill="#0b2948" stroke="#0b2948" stroke-width="0.75" textLength="218.0" lengthAdjust="spacingAndGlyphs" >SUPPORTING HVAC</text><text x="491.9" y="1081.1" font-size="23.33" fill="#0b2948" stroke="#0b2948" stroke-width="0.75" textLength="175.0" lengthAdjust="spacingAndGlyphs" >TRANSMISSION</text><text x="0.0" y="0" font-size="25.65" fill="#ffffff" stroke="#ffffff" stroke-width="0.4" textLength="123.3" lengthAdjust="spacingAndGlyphs" transform="translate(616,903.1) skewY(-30)">TASMANIA</text><text x="0.0" y="0" font-size="25.80" fill="#ffffff" stroke="#ffffff" stroke-width="0.4" textLength="153.5" lengthAdjust="spacingAndGlyphs" transform="translate(909,727.3) skewY(-30)">BASS STRAIT</text><text x="0.0" y="0" font-size="25.22" fill="#ffffff" stroke="#ffffff" stroke-width="0.4" textLength="117.0" lengthAdjust="spacingAndGlyphs" transform="translate(1227.4,547) skewY(-30)">VICTORIA</text></g></svg>
</body></html>
